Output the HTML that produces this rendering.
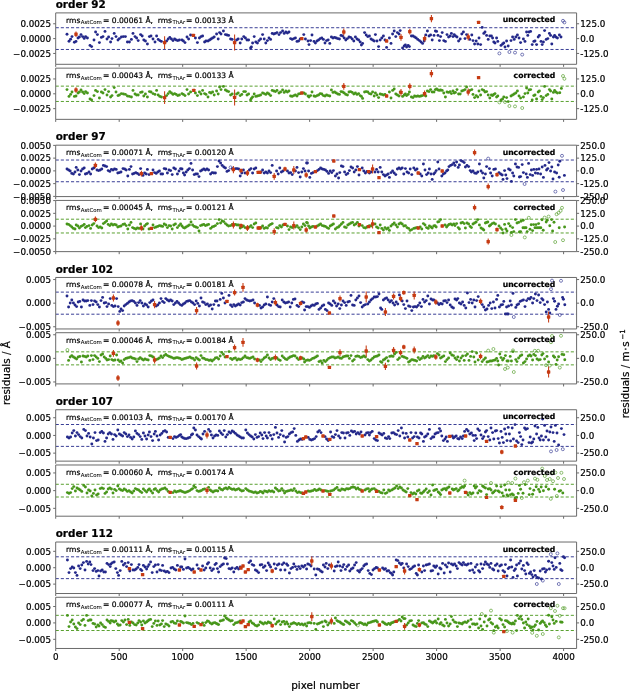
<!DOCTYPE html>
<html><head><meta charset="utf-8"><title>residuals</title><style>html,body{margin:0;padding:0;background:#fff}svg{display:block}</style></head><body>
<svg width="630" height="691" viewBox="0 0 630 691" font-family="DejaVu Sans, Liberation Sans, sans-serif" stroke-linejoin="round">
<style>text{stroke:#000;stroke-width:0.22px;fill:#000}</style>
<rect width="630" height="691" fill="#fff"/>
<g>
<clipPath id="c0"><rect x="55.7" y="12.9" width="520.9" height="51.4"/></clipPath>
<g clip-path="url(#c0)">
<line x1="55.7" x2="576.6" y1="27.73" y2="27.73" stroke="#23288a" stroke-width="0.9" stroke-dasharray="3.1 2" stroke-dashoffset="0"/>
<line x1="55.7" x2="576.6" y1="49.47" y2="49.47" stroke="#23288a" stroke-width="0.9" stroke-dasharray="3.1 2" stroke-dashoffset="0"/>
<g fill="#23288a"><circle cx="67.0" cy="34.2" r="1.45"/><circle cx="69.0" cy="41.2" r="1.45"/><circle cx="70.6" cy="39.2" r="1.45"/><circle cx="72.0" cy="36.6" r="1.45"/><circle cx="74.4" cy="42.2" r="1.45"/><circle cx="76.0" cy="41.4" r="1.45"/><circle cx="78.0" cy="38.0" r="1.45"/><circle cx="79.4" cy="37.0" r="1.45"/><circle cx="81.0" cy="34.6" r="1.45"/><circle cx="82.6" cy="36.6" r="1.45"/><circle cx="84.2" cy="38.4" r="1.45"/><circle cx="85.6" cy="36.6" r="1.45"/><circle cx="87.4" cy="38.0" r="1.45"/><circle cx="90.0" cy="45.4" r="1.45"/><circle cx="91.6" cy="46.6" r="1.45"/><circle cx="94.0" cy="40.0" r="1.45"/><circle cx="95.6" cy="32.0" r="1.45"/><circle cx="97.4" cy="34.6" r="1.45"/><circle cx="99.4" cy="42.6" r="1.45"/><circle cx="101.4" cy="37.4" r="1.45"/><circle cx="103.0" cy="36.6" r="1.45"/><circle cx="105.0" cy="31.4" r="1.45"/><circle cx="107.0" cy="39.0" r="1.45"/><circle cx="108.6" cy="37.0" r="1.45"/><circle cx="110.6" cy="42.0" r="1.45"/><circle cx="112.0" cy="38.6" r="1.45"/><circle cx="114.2" cy="33.4" r="1.45"/><circle cx="116.0" cy="36.6" r="1.45"/><circle cx="118.0" cy="40.0" r="1.45"/><circle cx="119.4" cy="38.6" r="1.45"/><circle cx="121.4" cy="37.0" r="1.45"/><circle cx="123.4" cy="36.6" r="1.45"/><circle cx="125.4" cy="36.6" r="1.45"/><circle cx="127.4" cy="42.0" r="1.45"/><circle cx="129.4" cy="42.0" r="1.45"/><circle cx="131.4" cy="39.4" r="1.45"/><circle cx="133.0" cy="33.4" r="1.45"/><circle cx="135.0" cy="36.6" r="1.45"/><circle cx="136.6" cy="38.0" r="1.45"/><circle cx="138.2" cy="40.6" r="1.45"/><circle cx="140.6" cy="34.6" r="1.45"/><circle cx="142.2" cy="36.0" r="1.45"/><circle cx="143.8" cy="40.0" r="1.45"/><circle cx="145.4" cy="41.0" r="1.45"/><circle cx="147.4" cy="44.0" r="1.45"/><circle cx="149.4" cy="36.6" r="1.45"/><circle cx="151.0" cy="36.0" r="1.45"/><circle cx="153.0" cy="39.0" r="1.45"/><circle cx="155.0" cy="42.0" r="1.45"/><circle cx="156.6" cy="36.0" r="1.45"/><circle cx="158.2" cy="39.4" r="1.45"/><circle cx="159.8" cy="40.6" r="1.45"/><circle cx="161.4" cy="41.4" r="1.45"/><circle cx="166.6" cy="41.0" r="1.45"/><circle cx="168.2" cy="39.0" r="1.45"/><circle cx="169.8" cy="37.4" r="1.45"/><circle cx="171.4" cy="39.0" r="1.45"/><circle cx="173.0" cy="40.6" r="1.45"/><circle cx="174.6" cy="39.0" r="1.45"/><circle cx="176.2" cy="40.0" r="1.45"/><circle cx="177.8" cy="40.6" r="1.45"/><circle cx="179.4" cy="40.0" r="1.45"/><circle cx="182.0" cy="40.0" r="1.45"/><circle cx="183.4" cy="41.0" r="1.45"/><circle cx="185.0" cy="42.6" r="1.45"/><circle cx="187.0" cy="37.0" r="1.45"/><circle cx="188.6" cy="39.0" r="1.45"/><circle cx="190.6" cy="35.0" r="1.45"/><circle cx="195.4" cy="38.0" r="1.45"/><circle cx="197.4" cy="42.6" r="1.45"/><circle cx="199.4" cy="38.0" r="1.45"/><circle cx="201.0" cy="36.6" r="1.45"/><circle cx="202.6" cy="36.0" r="1.45"/><circle cx="204.6" cy="42.0" r="1.45"/><circle cx="206.0" cy="41.0" r="1.45"/><circle cx="208.0" cy="41.0" r="1.45"/><circle cx="209.6" cy="40.0" r="1.45"/><circle cx="211.0" cy="39.0" r="1.45"/><circle cx="212.6" cy="38.0" r="1.45"/><circle cx="214.2" cy="37.0" r="1.45"/><circle cx="216.6" cy="34.0" r="1.45"/><circle cx="218.2" cy="39.0" r="1.45"/><circle cx="219.6" cy="32.6" r="1.45"/><circle cx="221.0" cy="34.0" r="1.45"/><circle cx="223.4" cy="31.0" r="1.45"/><circle cx="225.4" cy="34.6" r="1.45"/><circle cx="227.0" cy="35.0" r="1.45"/><circle cx="228.6" cy="35.4" r="1.45"/><circle cx="230.6" cy="39.0" r="1.45"/><circle cx="232.2" cy="39.4" r="1.45"/><circle cx="236.6" cy="40.0" r="1.45"/><circle cx="238.2" cy="39.0" r="1.45"/><circle cx="240.2" cy="43.0" r="1.45"/><circle cx="241.8" cy="39.0" r="1.45"/><circle cx="243.8" cy="36.6" r="1.45"/><circle cx="245.4" cy="38.0" r="1.45"/><circle cx="247.0" cy="40.0" r="1.45"/><circle cx="248.6" cy="40.0" r="1.45"/><circle cx="250.6" cy="48.0" r="1.45"/><circle cx="251.4" cy="47.0" r="1.45"/><circle cx="252.6" cy="43.0" r="1.45"/><circle cx="254.2" cy="36.6" r="1.45"/><circle cx="255.8" cy="42.0" r="1.45"/><circle cx="257.4" cy="43.0" r="1.45"/><circle cx="259.0" cy="40.6" r="1.45"/><circle cx="260.6" cy="39.0" r="1.45"/><circle cx="262.6" cy="34.6" r="1.45"/><circle cx="264.2" cy="39.0" r="1.45"/><circle cx="265.8" cy="43.0" r="1.45"/><circle cx="267.4" cy="40.6" r="1.45"/><circle cx="269.0" cy="38.0" r="1.45"/><circle cx="270.6" cy="39.4" r="1.45"/><circle cx="272.2" cy="33.4" r="1.45"/><circle cx="273.8" cy="34.0" r="1.45"/><circle cx="275.4" cy="33.4" r="1.45"/><circle cx="277.0" cy="32.6" r="1.45"/><circle cx="279.0" cy="34.6" r="1.45"/><circle cx="280.6" cy="32.6" r="1.45"/><circle cx="282.6" cy="31.0" r="1.45"/><circle cx="284.2" cy="33.4" r="1.45"/><circle cx="285.8" cy="32.0" r="1.45"/><circle cx="287.4" cy="33.0" r="1.45"/><circle cx="289.0" cy="32.0" r="1.45"/><circle cx="290.6" cy="38.6" r="1.45"/><circle cx="292.2" cy="39.4" r="1.45"/><circle cx="293.8" cy="38.6" r="1.45"/><circle cx="295.4" cy="38.0" r="1.45"/><circle cx="297.0" cy="41.4" r="1.45"/><circle cx="298.6" cy="41.0" r="1.45"/><circle cx="300.2" cy="39.0" r="1.45"/><circle cx="303.8" cy="34.6" r="1.45"/><circle cx="305.4" cy="39.0" r="1.45"/><circle cx="308.0" cy="41.0" r="1.45"/><circle cx="309.0" cy="44.6" r="1.45"/><circle cx="310.6" cy="40.6" r="1.45"/><circle cx="312.0" cy="35.0" r="1.45"/><circle cx="314.0" cy="41.4" r="1.45"/><circle cx="315.4" cy="43.0" r="1.45"/><circle cx="317.0" cy="41.0" r="1.45"/><circle cx="318.6" cy="40.0" r="1.45"/><circle cx="320.2" cy="38.6" r="1.45"/><circle cx="321.8" cy="38.0" r="1.45"/><circle cx="323.4" cy="39.4" r="1.45"/><circle cx="325.0" cy="43.0" r="1.45"/><circle cx="326.6" cy="40.6" r="1.45"/><circle cx="328.2" cy="40.0" r="1.45"/><circle cx="329.8" cy="43.4" r="1.45"/><circle cx="331.4" cy="37.0" r="1.45"/><circle cx="333.0" cy="38.0" r="1.45"/><circle cx="334.6" cy="37.4" r="1.45"/><circle cx="336.2" cy="38.0" r="1.45"/><circle cx="337.8" cy="38.6" r="1.45"/><circle cx="339.4" cy="39.0" r="1.45"/><circle cx="341.0" cy="35.4" r="1.45"/><circle cx="342.6" cy="36.0" r="1.45"/><circle cx="344.2" cy="38.0" r="1.45"/><circle cx="345.8" cy="40.0" r="1.45"/><circle cx="347.4" cy="38.6" r="1.45"/><circle cx="349.0" cy="37.0" r="1.45"/><circle cx="350.6" cy="37.4" r="1.45"/><circle cx="352.2" cy="39.0" r="1.45"/><circle cx="353.8" cy="41.0" r="1.45"/><circle cx="355.4" cy="37.0" r="1.45"/><circle cx="357.0" cy="39.0" r="1.45"/><circle cx="358.6" cy="40.0" r="1.45"/><circle cx="360.2" cy="42.0" r="1.45"/><circle cx="361.4" cy="45.0" r="1.45"/><circle cx="362.6" cy="43.4" r="1.45"/><circle cx="364.6" cy="32.6" r="1.45"/><circle cx="366.2" cy="35.0" r="1.45"/><circle cx="367.8" cy="36.6" r="1.45"/><circle cx="369.4" cy="36.0" r="1.45"/><circle cx="371.0" cy="39.0" r="1.45"/><circle cx="372.6" cy="40.0" r="1.45"/><circle cx="374.2" cy="41.0" r="1.45"/><circle cx="375.4" cy="34.6" r="1.45"/><circle cx="377.0" cy="41.0" r="1.45"/><circle cx="378.6" cy="46.6" r="1.45"/><circle cx="380.2" cy="40.0" r="1.45"/><circle cx="381.8" cy="38.0" r="1.45"/><circle cx="383.4" cy="36.0" r="1.45"/><circle cx="385.0" cy="40.0" r="1.45"/><circle cx="386.6" cy="47.4" r="1.45"/><circle cx="389.4" cy="38.0" r="1.45"/><circle cx="391.0" cy="43.4" r="1.45"/><circle cx="392.6" cy="34.0" r="1.45"/><circle cx="394.2" cy="31.0" r="1.45"/><circle cx="395.8" cy="36.6" r="1.45"/><circle cx="397.4" cy="32.6" r="1.45"/><circle cx="399.0" cy="34.0" r="1.45"/><circle cx="400.2" cy="30.6" r="1.45"/><circle cx="402.6" cy="48.0" r="1.45"/><circle cx="404.2" cy="46.0" r="1.45"/><circle cx="405.4" cy="45.0" r="1.45"/><circle cx="406.6" cy="47.0" r="1.45"/><circle cx="408.2" cy="45.4" r="1.45"/><circle cx="409.4" cy="46.6" r="1.45"/><circle cx="411.4" cy="36.0" r="1.45"/><circle cx="413.0" cy="36.0" r="1.45"/><circle cx="414.6" cy="37.0" r="1.45"/><circle cx="416.2" cy="38.0" r="1.45"/><circle cx="417.8" cy="39.4" r="1.45"/><circle cx="419.4" cy="40.6" r="1.45"/><circle cx="421.0" cy="42.0" r="1.45"/><circle cx="422.6" cy="43.4" r="1.45"/><circle cx="424.2" cy="41.0" r="1.45"/><circle cx="425.8" cy="35.0" r="1.45"/><circle cx="427.4" cy="31.0" r="1.45"/><circle cx="429.0" cy="36.0" r="1.45"/><circle cx="430.6" cy="35.0" r="1.45"/><circle cx="432.2" cy="40.0" r="1.45"/><circle cx="434.0" cy="35.4" r="1.45"/><circle cx="435.4" cy="31.0" r="1.45"/><circle cx="436.6" cy="31.4" r="1.45"/><circle cx="438.0" cy="35.4" r="1.45"/><circle cx="439.4" cy="40.6" r="1.45"/><circle cx="440.6" cy="36.6" r="1.45"/><circle cx="442.2" cy="32.6" r="1.45"/><circle cx="443.8" cy="40.6" r="1.45"/><circle cx="445.4" cy="41.4" r="1.45"/><circle cx="447.0" cy="34.6" r="1.45"/><circle cx="448.6" cy="37.0" r="1.45"/><circle cx="450.2" cy="36.0" r="1.45"/><circle cx="451.4" cy="33.4" r="1.45"/><circle cx="453.0" cy="36.6" r="1.45"/><circle cx="454.2" cy="34.6" r="1.45"/><circle cx="455.4" cy="36.0" r="1.45"/><circle cx="457.0" cy="37.0" r="1.45"/><circle cx="458.6" cy="41.0" r="1.45"/><circle cx="460.2" cy="39.0" r="1.45"/><circle cx="461.8" cy="34.0" r="1.45"/><circle cx="463.4" cy="32.0" r="1.45"/><circle cx="465.0" cy="38.6" r="1.45"/><circle cx="466.6" cy="34.6" r="1.45"/><circle cx="469.8" cy="39.4" r="1.45"/><circle cx="471.8" cy="35.0" r="1.45"/><circle cx="473.0" cy="40.6" r="1.45"/><circle cx="474.6" cy="44.0" r="1.45"/><circle cx="476.2" cy="41.0" r="1.45"/><circle cx="477.8" cy="44.0" r="1.45"/><circle cx="479.0" cy="38.0" r="1.45"/><circle cx="480.6" cy="44.6" r="1.45"/><circle cx="482.2" cy="27.4" r="1.45"/><circle cx="483.8" cy="33.4" r="1.45"/><circle cx="485.0" cy="32.0" r="1.45"/><circle cx="486.6" cy="35.4" r="1.45"/><circle cx="488.2" cy="39.4" r="1.45"/><circle cx="489.8" cy="36.0" r="1.45"/><circle cx="491.4" cy="36.0" r="1.45"/><circle cx="492.6" cy="38.0" r="1.45"/><circle cx="493.8" cy="42.0" r="1.45"/><circle cx="495.0" cy="43.0" r="1.45"/><circle cx="496.6" cy="38.0" r="1.45"/><circle cx="497.8" cy="41.4" r="1.45"/><circle cx="501.0" cy="45.4" r="1.45"/><circle cx="502.6" cy="44.0" r="1.45"/><circle cx="503.8" cy="43.0" r="1.45"/><circle cx="505.0" cy="47.0" r="1.45"/><circle cx="506.6" cy="41.0" r="1.45"/><circle cx="508.2" cy="46.0" r="1.45"/><circle cx="511.0" cy="40.6" r="1.45"/><circle cx="512.6" cy="37.0" r="1.45"/><circle cx="514.2" cy="39.4" r="1.45"/><circle cx="515.8" cy="37.0" r="1.45"/><circle cx="517.4" cy="35.0" r="1.45"/><circle cx="519.0" cy="38.0" r="1.45"/><circle cx="520.6" cy="42.6" r="1.45"/><circle cx="523.4" cy="39.0" r="1.45"/><circle cx="525.0" cy="41.4" r="1.45"/><circle cx="526.6" cy="32.0" r="1.45"/><circle cx="527.8" cy="35.4" r="1.45"/><circle cx="529.0" cy="32.0" r="1.45"/><circle cx="530.6" cy="31.4" r="1.45"/><circle cx="532.2" cy="44.6" r="1.45"/><circle cx="533.8" cy="41.4" r="1.45"/><circle cx="535.0" cy="41.0" r="1.45"/><circle cx="536.6" cy="44.6" r="1.45"/><circle cx="538.2" cy="37.0" r="1.45"/><circle cx="539.4" cy="35.4" r="1.45"/><circle cx="541.0" cy="41.4" r="1.45"/><circle cx="542.2" cy="44.6" r="1.45"/><circle cx="543.4" cy="42.0" r="1.45"/><circle cx="544.6" cy="30.6" r="1.45"/><circle cx="546.2" cy="39.4" r="1.45"/><circle cx="547.8" cy="38.6" r="1.45"/><circle cx="549.4" cy="33.4" r="1.45"/><circle cx="550.6" cy="35.4" r="1.45"/><circle cx="551.8" cy="44.0" r="1.45"/><circle cx="553.4" cy="37.0" r="1.45"/><circle cx="554.6" cy="35.4" r="1.45"/><circle cx="555.8" cy="37.0" r="1.45"/><circle cx="557.4" cy="38.0" r="1.45"/><circle cx="559.4" cy="35.0" r="1.45"/><circle cx="561.0" cy="37.0" r="1.45"/></g>
<g fill="none" stroke="#23288a" stroke-width="0.6"><circle cx="499.4" cy="53.4" r="1.5"/><circle cx="509.4" cy="52.0" r="1.5"/><circle cx="515.0" cy="52.6" r="1.5"/><circle cx="522.2" cy="54.6" r="1.5"/><circle cx="563.0" cy="20.8" r="1.5"/><circle cx="564.4" cy="22.4" r="1.5"/></g>
<line x1="76.0" x2="76.0" y1="31.4" y2="37.0" stroke="#c63a12" stroke-width="1.05"/><rect x="74.3" y="32.5" width="3.4" height="3.4" rx="0.6" fill="#c63a12"/>
<line x1="164.6" x2="164.6" y1="36.2" y2="49.0" stroke="#c63a12" stroke-width="1.05"/><rect x="162.9" y="40.9" width="3.4" height="3.4" rx="0.6" fill="#c63a12"/>
<line x1="193.4" x2="193.4" y1="34.6" y2="36.2" stroke="#c63a12" stroke-width="1.05"/><rect x="191.7" y="33.7" width="3.4" height="3.4" rx="0.6" fill="#c63a12"/>
<line x1="234.6" x2="234.6" y1="34.6" y2="50.6" stroke="#c63a12" stroke-width="1.05"/><rect x="232.9" y="40.9" width="3.4" height="3.4" rx="0.6" fill="#c63a12"/>
<line x1="301.8" x2="301.8" y1="37.8" y2="39.4" stroke="#c63a12" stroke-width="1.05"/><rect x="300.1" y="36.9" width="3.4" height="3.4" rx="0.6" fill="#c63a12"/>
<line x1="343.8" x2="343.8" y1="28.6" y2="35.4" stroke="#c63a12" stroke-width="1.05"/><rect x="342.1" y="30.3" width="3.4" height="3.4" rx="0.6" fill="#c63a12"/>
<line x1="386.6" x2="386.6" y1="40.0" y2="42.0" stroke="#c63a12" stroke-width="1.05"/><rect x="384.9" y="39.3" width="3.4" height="3.4" rx="0.6" fill="#c63a12"/>
<line x1="401.0" x2="401.0" y1="34.0" y2="40.8" stroke="#c63a12" stroke-width="1.05"/><rect x="399.3" y="35.7" width="3.4" height="3.4" rx="0.6" fill="#c63a12"/>
<line x1="409.8" x2="409.8" y1="28.8" y2="34.4" stroke="#c63a12" stroke-width="1.05"/><rect x="408.1" y="29.9" width="3.4" height="3.4" rx="0.6" fill="#c63a12"/>
<line x1="424.6" x2="424.6" y1="35.6" y2="41.6" stroke="#c63a12" stroke-width="1.05"/><rect x="422.9" y="36.9" width="3.4" height="3.4" rx="0.6" fill="#c63a12"/>
<line x1="431.4" x2="431.4" y1="15.0" y2="22.2" stroke="#c63a12" stroke-width="1.05"/><rect x="429.7" y="16.9" width="3.4" height="3.4" rx="0.6" fill="#c63a12"/>
<line x1="468.2" x2="468.2" y1="33.4" y2="40.6" stroke="#c63a12" stroke-width="1.05"/><rect x="466.5" y="35.3" width="3.4" height="3.4" rx="0.6" fill="#c63a12"/>
<line x1="478.6" x2="478.6" y1="21.6" y2="23.2" stroke="#c63a12" stroke-width="1.05"/><rect x="476.9" y="20.7" width="3.4" height="3.4" rx="0.6" fill="#c63a12"/>
</g>
<rect x="55.7" y="12.9" width="520.9" height="51.4" fill="none" stroke="#6a6a6a" stroke-width="1"/>
<path d="M55.70 64.35v2.5M119.19 64.35v2.5M182.68 64.35v2.5M246.16 64.35v2.5M309.65 64.35v2.5M373.14 64.35v2.5M436.62 64.35v2.5M500.11 64.35v2.5M563.60 64.35v2.5M55.7 53.45h-2.5M576.6 53.45h2.5M55.7 38.60h-2.5M576.6 38.60h2.5M55.7 23.75h-2.5M576.6 23.75h2.5" stroke="#6a6a6a" stroke-width="1" fill="none"/>
<text x="51.0" y="56.7" font-size="8.75" text-anchor="end">−0.0025</text>
<text x="580.3" y="56.7" font-size="8.75">-125.0</text>
<text x="51.0" y="41.8" font-size="8.75" text-anchor="end">0.0000</text>
<text x="580.3" y="41.8" font-size="8.75">0.0</text>
<text x="51.0" y="26.9" font-size="8.75" text-anchor="end">0.0025</text>
<text x="580.3" y="26.9" font-size="8.75">125.0</text>
<text x="66.1" y="22.7" font-size="7.56" xml:space="preserve">rms<tspan font-size="5.40" dy="1.7" dx="0.5" stroke-width="0.05">AstCom</tspan><tspan dy="-1.7" dx="-1.1"> = 0.00061 Å,  rms</tspan><tspan font-size="5.40" dy="1.7" dx="0.5" stroke-width="0.05">ThAr</tspan><tspan dy="-1.7" dx="-1.5"> = 0.00133 Å</tspan></text>
<text x="555.2" y="22.4" font-size="7.7" font-weight="bold" text-anchor="end">uncorrected</text>
<text x="55.7" y="8.1" font-size="10.4" font-weight="bold">order 92</text>
</g>
<g>
<clipPath id="c1"><rect x="55.7" y="68.15" width="520.9" height="51.2"/></clipPath>
<g clip-path="url(#c1)">
<line x1="55.7" x2="576.6" y1="86.14" y2="86.14" stroke="#47961a" stroke-width="0.9" stroke-dasharray="3.1 2" stroke-dashoffset="0"/>
<line x1="55.7" x2="576.6" y1="101.46" y2="101.46" stroke="#47961a" stroke-width="0.9" stroke-dasharray="3.1 2" stroke-dashoffset="0"/>
<g fill="#47961a"><circle cx="67.0" cy="89.6" r="1.45"/><circle cx="69.0" cy="96.4" r="1.45"/><circle cx="70.6" cy="94.4" r="1.45"/><circle cx="72.0" cy="92.0" r="1.45"/><circle cx="74.4" cy="96.4" r="1.45"/><circle cx="76.0" cy="96.0" r="1.45"/><circle cx="78.0" cy="93.0" r="1.45"/><circle cx="79.4" cy="92.0" r="1.45"/><circle cx="81.0" cy="90.0" r="1.45"/><circle cx="82.6" cy="92.0" r="1.45"/><circle cx="84.2" cy="93.6" r="1.45"/><circle cx="85.6" cy="91.6" r="1.45"/><circle cx="87.4" cy="93.0" r="1.45"/><circle cx="90.0" cy="99.0" r="1.45"/><circle cx="91.6" cy="100.0" r="1.45"/><circle cx="94.0" cy="95.6" r="1.45"/><circle cx="95.6" cy="90.4" r="1.45"/><circle cx="97.4" cy="91.6" r="1.45"/><circle cx="99.4" cy="98.0" r="1.45"/><circle cx="101.4" cy="92.0" r="1.45"/><circle cx="103.0" cy="93.0" r="1.45"/><circle cx="105.0" cy="89.6" r="1.45"/><circle cx="107.0" cy="95.0" r="1.45"/><circle cx="108.6" cy="91.6" r="1.45"/><circle cx="110.6" cy="97.0" r="1.45"/><circle cx="112.0" cy="95.6" r="1.45"/><circle cx="114.2" cy="87.6" r="1.45"/><circle cx="116.0" cy="92.0" r="1.45"/><circle cx="118.0" cy="95.6" r="1.45"/><circle cx="119.4" cy="95.0" r="1.45"/><circle cx="121.4" cy="93.6" r="1.45"/><circle cx="123.4" cy="94.0" r="1.45"/><circle cx="125.4" cy="94.4" r="1.45"/><circle cx="127.4" cy="96.0" r="1.45"/><circle cx="129.4" cy="96.4" r="1.45"/><circle cx="131.4" cy="97.0" r="1.45"/><circle cx="133.0" cy="90.4" r="1.45"/><circle cx="135.0" cy="94.0" r="1.45"/><circle cx="136.6" cy="95.0" r="1.45"/><circle cx="138.2" cy="95.0" r="1.45"/><circle cx="140.6" cy="92.4" r="1.45"/><circle cx="142.2" cy="92.0" r="1.45"/><circle cx="143.8" cy="96.0" r="1.45"/><circle cx="145.4" cy="94.0" r="1.45"/><circle cx="147.4" cy="97.0" r="1.45"/><circle cx="149.4" cy="91.6" r="1.45"/><circle cx="151.0" cy="92.0" r="1.45"/><circle cx="153.0" cy="93.6" r="1.45"/><circle cx="155.0" cy="94.4" r="1.45"/><circle cx="156.6" cy="90.4" r="1.45"/><circle cx="158.2" cy="95.0" r="1.45"/><circle cx="159.8" cy="96.4" r="1.45"/><circle cx="161.4" cy="97.0" r="1.45"/><circle cx="166.6" cy="95.6" r="1.45"/><circle cx="168.2" cy="93.6" r="1.45"/><circle cx="169.8" cy="91.6" r="1.45"/><circle cx="171.4" cy="93.0" r="1.45"/><circle cx="173.0" cy="94.4" r="1.45"/><circle cx="174.6" cy="93.6" r="1.45"/><circle cx="176.2" cy="94.4" r="1.45"/><circle cx="177.8" cy="95.6" r="1.45"/><circle cx="179.4" cy="95.0" r="1.45"/><circle cx="182.0" cy="93.6" r="1.45"/><circle cx="183.4" cy="94.4" r="1.45"/><circle cx="185.0" cy="95.6" r="1.45"/><circle cx="187.0" cy="89.6" r="1.45"/><circle cx="188.6" cy="94.0" r="1.45"/><circle cx="190.6" cy="92.0" r="1.45"/><circle cx="195.4" cy="93.0" r="1.45"/><circle cx="197.4" cy="95.6" r="1.45"/><circle cx="199.4" cy="92.0" r="1.45"/><circle cx="201.0" cy="94.0" r="1.45"/><circle cx="202.6" cy="90.4" r="1.45"/><circle cx="204.6" cy="93.6" r="1.45"/><circle cx="206.0" cy="94.4" r="1.45"/><circle cx="208.0" cy="97.0" r="1.45"/><circle cx="209.6" cy="92.4" r="1.45"/><circle cx="211.0" cy="93.0" r="1.45"/><circle cx="212.6" cy="92.0" r="1.45"/><circle cx="214.2" cy="95.0" r="1.45"/><circle cx="216.6" cy="91.0" r="1.45"/><circle cx="218.2" cy="94.0" r="1.45"/><circle cx="219.6" cy="87.0" r="1.45"/><circle cx="221.0" cy="89.6" r="1.45"/><circle cx="223.4" cy="86.4" r="1.45"/><circle cx="225.4" cy="90.0" r="1.45"/><circle cx="227.0" cy="91.0" r="1.45"/><circle cx="228.6" cy="91.6" r="1.45"/><circle cx="230.6" cy="95.0" r="1.45"/><circle cx="232.2" cy="94.0" r="1.45"/><circle cx="236.6" cy="94.0" r="1.45"/><circle cx="238.2" cy="93.0" r="1.45"/><circle cx="240.2" cy="95.6" r="1.45"/><circle cx="241.8" cy="94.4" r="1.45"/><circle cx="243.8" cy="91.6" r="1.45"/><circle cx="245.4" cy="91.6" r="1.45"/><circle cx="247.0" cy="95.0" r="1.45"/><circle cx="248.6" cy="94.0" r="1.45"/><circle cx="250.6" cy="100.0" r="1.45"/><circle cx="251.4" cy="98.4" r="1.45"/><circle cx="252.6" cy="97.0" r="1.45"/><circle cx="254.2" cy="94.0" r="1.45"/><circle cx="255.8" cy="96.4" r="1.45"/><circle cx="257.4" cy="96.0" r="1.45"/><circle cx="259.0" cy="95.6" r="1.45"/><circle cx="260.6" cy="95.0" r="1.45"/><circle cx="262.6" cy="93.0" r="1.45"/><circle cx="264.2" cy="93.6" r="1.45"/><circle cx="265.8" cy="94.4" r="1.45"/><circle cx="267.4" cy="93.0" r="1.45"/><circle cx="269.0" cy="94.0" r="1.45"/><circle cx="270.6" cy="95.6" r="1.45"/><circle cx="272.2" cy="90.4" r="1.45"/><circle cx="273.8" cy="91.0" r="1.45"/><circle cx="275.4" cy="91.6" r="1.45"/><circle cx="277.0" cy="90.4" r="1.45"/><circle cx="279.0" cy="93.0" r="1.45"/><circle cx="280.6" cy="92.0" r="1.45"/><circle cx="282.6" cy="90.0" r="1.45"/><circle cx="284.2" cy="92.4" r="1.45"/><circle cx="285.8" cy="91.0" r="1.45"/><circle cx="287.4" cy="92.0" r="1.45"/><circle cx="289.0" cy="91.0" r="1.45"/><circle cx="290.6" cy="96.0" r="1.45"/><circle cx="292.2" cy="96.4" r="1.45"/><circle cx="293.8" cy="95.6" r="1.45"/><circle cx="295.4" cy="95.0" r="1.45"/><circle cx="297.0" cy="96.0" r="1.45"/><circle cx="298.6" cy="94.0" r="1.45"/><circle cx="300.2" cy="93.6" r="1.45"/><circle cx="303.8" cy="93.0" r="1.45"/><circle cx="305.4" cy="94.0" r="1.45"/><circle cx="308.0" cy="96.0" r="1.45"/><circle cx="309.0" cy="97.0" r="1.45"/><circle cx="310.6" cy="95.6" r="1.45"/><circle cx="312.0" cy="92.0" r="1.45"/><circle cx="314.0" cy="96.0" r="1.45"/><circle cx="315.4" cy="96.4" r="1.45"/><circle cx="317.0" cy="95.6" r="1.45"/><circle cx="318.6" cy="95.0" r="1.45"/><circle cx="320.2" cy="93.6" r="1.45"/><circle cx="321.8" cy="94.0" r="1.45"/><circle cx="323.4" cy="95.6" r="1.45"/><circle cx="325.0" cy="96.0" r="1.45"/><circle cx="326.6" cy="95.0" r="1.45"/><circle cx="328.2" cy="95.6" r="1.45"/><circle cx="329.8" cy="96.0" r="1.45"/><circle cx="331.4" cy="90.0" r="1.45"/><circle cx="333.0" cy="92.4" r="1.45"/><circle cx="334.6" cy="92.0" r="1.45"/><circle cx="336.2" cy="93.0" r="1.45"/><circle cx="337.8" cy="94.0" r="1.45"/><circle cx="339.4" cy="94.4" r="1.45"/><circle cx="341.0" cy="91.6" r="1.45"/><circle cx="342.6" cy="92.0" r="1.45"/><circle cx="344.2" cy="93.0" r="1.45"/><circle cx="345.8" cy="94.4" r="1.45"/><circle cx="347.4" cy="95.0" r="1.45"/><circle cx="349.0" cy="92.0" r="1.45"/><circle cx="350.6" cy="91.6" r="1.45"/><circle cx="352.2" cy="92.4" r="1.45"/><circle cx="353.8" cy="94.0" r="1.45"/><circle cx="355.4" cy="93.0" r="1.45"/><circle cx="357.0" cy="94.4" r="1.45"/><circle cx="358.6" cy="93.6" r="1.45"/><circle cx="360.2" cy="95.6" r="1.45"/><circle cx="361.4" cy="96.4" r="1.45"/><circle cx="362.6" cy="98.4" r="1.45"/><circle cx="364.6" cy="92.0" r="1.45"/><circle cx="366.2" cy="91.6" r="1.45"/><circle cx="367.8" cy="92.0" r="1.45"/><circle cx="369.4" cy="93.6" r="1.45"/><circle cx="371.0" cy="94.0" r="1.45"/><circle cx="372.6" cy="92.0" r="1.45"/><circle cx="374.2" cy="96.0" r="1.45"/><circle cx="375.4" cy="93.0" r="1.45"/><circle cx="377.0" cy="95.0" r="1.45"/><circle cx="378.6" cy="97.6" r="1.45"/><circle cx="380.2" cy="94.0" r="1.45"/><circle cx="381.8" cy="94.4" r="1.45"/><circle cx="383.4" cy="95.0" r="1.45"/><circle cx="385.0" cy="94.4" r="1.45"/><circle cx="389.4" cy="92.0" r="1.45"/><circle cx="391.0" cy="98.0" r="1.45"/><circle cx="392.6" cy="90.4" r="1.45"/><circle cx="394.2" cy="89.0" r="1.45"/><circle cx="395.8" cy="94.0" r="1.45"/><circle cx="397.4" cy="95.0" r="1.45"/><circle cx="399.0" cy="96.0" r="1.45"/><circle cx="400.2" cy="92.0" r="1.45"/><circle cx="402.6" cy="96.4" r="1.45"/><circle cx="404.2" cy="95.0" r="1.45"/><circle cx="405.4" cy="94.0" r="1.45"/><circle cx="406.6" cy="95.6" r="1.45"/><circle cx="408.2" cy="94.4" r="1.45"/><circle cx="409.4" cy="92.0" r="1.45"/><circle cx="411.4" cy="97.0" r="1.45"/><circle cx="413.0" cy="97.6" r="1.45"/><circle cx="414.6" cy="96.0" r="1.45"/><circle cx="416.2" cy="96.4" r="1.45"/><circle cx="417.8" cy="96.0" r="1.45"/><circle cx="419.4" cy="96.4" r="1.45"/><circle cx="421.0" cy="96.0" r="1.45"/><circle cx="422.6" cy="95.6" r="1.45"/><circle cx="424.2" cy="94.0" r="1.45"/><circle cx="425.8" cy="96.0" r="1.45"/><circle cx="427.4" cy="91.0" r="1.45"/><circle cx="429.0" cy="91.6" r="1.45"/><circle cx="430.6" cy="89.6" r="1.45"/><circle cx="432.2" cy="92.0" r="1.45"/><circle cx="434.0" cy="92.0" r="1.45"/><circle cx="435.4" cy="89.6" r="1.45"/><circle cx="436.6" cy="89.0" r="1.45"/><circle cx="438.0" cy="90.0" r="1.45"/><circle cx="439.4" cy="90.4" r="1.45"/><circle cx="440.6" cy="90.0" r="1.45"/><circle cx="442.2" cy="90.4" r="1.45"/><circle cx="443.8" cy="93.0" r="1.45"/><circle cx="445.4" cy="97.0" r="1.45"/><circle cx="447.0" cy="92.0" r="1.45"/><circle cx="448.6" cy="92.4" r="1.45"/><circle cx="450.2" cy="91.6" r="1.45"/><circle cx="451.4" cy="93.6" r="1.45"/><circle cx="453.0" cy="91.0" r="1.45"/><circle cx="454.2" cy="93.0" r="1.45"/><circle cx="455.4" cy="92.4" r="1.45"/><circle cx="457.0" cy="89.6" r="1.45"/><circle cx="458.6" cy="94.0" r="1.45"/><circle cx="460.2" cy="94.0" r="1.45"/><circle cx="461.8" cy="91.0" r="1.45"/><circle cx="463.4" cy="90.4" r="1.45"/><circle cx="465.0" cy="89.6" r="1.45"/><circle cx="466.6" cy="87.0" r="1.45"/><circle cx="469.8" cy="90.4" r="1.45"/><circle cx="471.8" cy="89.6" r="1.45"/><circle cx="473.0" cy="94.4" r="1.45"/><circle cx="474.6" cy="97.6" r="1.45"/><circle cx="476.2" cy="95.6" r="1.45"/><circle cx="477.8" cy="97.0" r="1.45"/><circle cx="479.0" cy="91.0" r="1.45"/><circle cx="480.6" cy="95.0" r="1.45"/><circle cx="482.2" cy="89.6" r="1.45"/><circle cx="483.8" cy="90.4" r="1.45"/><circle cx="485.0" cy="92.0" r="1.45"/><circle cx="486.6" cy="91.6" r="1.45"/><circle cx="488.2" cy="95.0" r="1.45"/><circle cx="489.8" cy="98.0" r="1.45"/><circle cx="491.4" cy="95.0" r="1.45"/><circle cx="492.6" cy="95.6" r="1.45"/><circle cx="493.8" cy="94.4" r="1.45"/><circle cx="495.0" cy="93.6" r="1.45"/><circle cx="496.6" cy="97.0" r="1.45"/><circle cx="497.8" cy="96.0" r="1.45"/><circle cx="501.0" cy="100.0" r="1.45"/><circle cx="502.6" cy="99.0" r="1.45"/><circle cx="503.8" cy="97.0" r="1.45"/><circle cx="506.6" cy="97.6" r="1.45"/><circle cx="508.2" cy="101.6" r="1.45"/><circle cx="511.0" cy="96.0" r="1.45"/><circle cx="512.6" cy="95.0" r="1.45"/><circle cx="514.2" cy="94.0" r="1.45"/><circle cx="515.8" cy="93.0" r="1.45"/><circle cx="517.4" cy="91.0" r="1.45"/><circle cx="519.0" cy="96.0" r="1.45"/><circle cx="520.6" cy="98.0" r="1.45"/><circle cx="523.4" cy="97.0" r="1.45"/><circle cx="525.0" cy="93.6" r="1.45"/><circle cx="526.6" cy="88.0" r="1.45"/><circle cx="527.8" cy="93.0" r="1.45"/><circle cx="529.0" cy="90.0" r="1.45"/><circle cx="530.6" cy="89.6" r="1.45"/><circle cx="532.2" cy="100.0" r="1.45"/><circle cx="533.8" cy="95.6" r="1.45"/><circle cx="535.0" cy="95.0" r="1.45"/><circle cx="536.6" cy="99.0" r="1.45"/><circle cx="538.2" cy="92.0" r="1.45"/><circle cx="539.4" cy="91.0" r="1.45"/><circle cx="541.0" cy="96.4" r="1.45"/><circle cx="542.2" cy="99.6" r="1.45"/><circle cx="543.4" cy="97.6" r="1.45"/><circle cx="544.6" cy="86.4" r="1.45"/><circle cx="546.2" cy="95.6" r="1.45"/><circle cx="547.8" cy="94.4" r="1.45"/><circle cx="549.4" cy="89.6" r="1.45"/><circle cx="550.6" cy="91.0" r="1.45"/><circle cx="551.8" cy="99.0" r="1.45"/><circle cx="553.4" cy="92.4" r="1.45"/><circle cx="554.6" cy="90.4" r="1.45"/><circle cx="555.8" cy="92.0" r="1.45"/><circle cx="557.4" cy="93.0" r="1.45"/><circle cx="559.8" cy="92.8" r="1.45"/><circle cx="561.4" cy="88.4" r="1.45"/></g>
<g fill="none" stroke="#47961a" stroke-width="0.6"><circle cx="499.4" cy="102.4" r="1.5"/><circle cx="505.0" cy="102.0" r="1.5"/><circle cx="509.4" cy="106.0" r="1.5"/><circle cx="515.0" cy="106.4" r="1.5"/><circle cx="522.2" cy="108.0" r="1.5"/><circle cx="563.0" cy="76.0" r="1.5"/><circle cx="564.4" cy="78.8" r="1.5"/></g>
<line x1="76.0" x2="76.0" y1="87.2" y2="92.8" stroke="#c63a12" stroke-width="1.05"/><rect x="74.3" y="88.3" width="3.4" height="3.4" rx="0.6" fill="#c63a12"/>
<line x1="164.6" x2="164.6" y1="91.2" y2="104.0" stroke="#c63a12" stroke-width="1.05"/><rect x="162.9" y="95.9" width="3.4" height="3.4" rx="0.6" fill="#c63a12"/>
<line x1="193.8" x2="193.8" y1="89.6" y2="91.2" stroke="#c63a12" stroke-width="1.05"/><rect x="192.1" y="88.7" width="3.4" height="3.4" rx="0.6" fill="#c63a12"/>
<line x1="234.6" x2="234.6" y1="89.4" y2="105.4" stroke="#c63a12" stroke-width="1.05"/><rect x="232.9" y="95.7" width="3.4" height="3.4" rx="0.6" fill="#c63a12"/>
<line x1="301.8" x2="301.8" y1="92.2" y2="93.8" stroke="#c63a12" stroke-width="1.05"/><rect x="300.1" y="91.3" width="3.4" height="3.4" rx="0.6" fill="#c63a12"/>
<line x1="343.8" x2="343.8" y1="83.0" y2="89.8" stroke="#c63a12" stroke-width="1.05"/><rect x="342.1" y="84.7" width="3.4" height="3.4" rx="0.6" fill="#c63a12"/>
<line x1="386.6" x2="386.6" y1="95.0" y2="97.0" stroke="#c63a12" stroke-width="1.05"/><rect x="384.9" y="94.3" width="3.4" height="3.4" rx="0.6" fill="#c63a12"/>
<line x1="401.0" x2="401.0" y1="89.0" y2="95.8" stroke="#c63a12" stroke-width="1.05"/><rect x="399.3" y="90.7" width="3.4" height="3.4" rx="0.6" fill="#c63a12"/>
<line x1="409.8" x2="409.8" y1="83.2" y2="89.6" stroke="#c63a12" stroke-width="1.05"/><rect x="408.1" y="84.7" width="3.4" height="3.4" rx="0.6" fill="#c63a12"/>
<line x1="424.6" x2="424.6" y1="90.6" y2="96.6" stroke="#c63a12" stroke-width="1.05"/><rect x="422.9" y="91.9" width="3.4" height="3.4" rx="0.6" fill="#c63a12"/>
<line x1="431.4" x2="431.4" y1="70.0" y2="77.2" stroke="#c63a12" stroke-width="1.05"/><rect x="429.7" y="71.9" width="3.4" height="3.4" rx="0.6" fill="#c63a12"/>
<line x1="468.2" x2="468.2" y1="88.4" y2="95.6" stroke="#c63a12" stroke-width="1.05"/><rect x="466.5" y="90.3" width="3.4" height="3.4" rx="0.6" fill="#c63a12"/>
<line x1="478.6" x2="478.6" y1="76.8" y2="78.4" stroke="#c63a12" stroke-width="1.05"/><rect x="476.9" y="75.9" width="3.4" height="3.4" rx="0.6" fill="#c63a12"/>
</g>
<rect x="55.7" y="68.15" width="520.9" height="51.2" fill="none" stroke="#6a6a6a" stroke-width="1"/>
<path d="M55.70 119.4v2.5M119.19 119.4v2.5M182.68 119.4v2.5M246.16 119.4v2.5M309.65 119.4v2.5M373.14 119.4v2.5M436.62 119.4v2.5M500.11 119.4v2.5M563.60 119.4v2.5M55.7 108.65h-2.5M576.6 108.65h2.5M55.7 93.80h-2.5M576.6 93.80h2.5M55.7 78.95h-2.5M576.6 78.95h2.5" stroke="#6a6a6a" stroke-width="1" fill="none"/>
<text x="51.0" y="111.8" font-size="8.75" text-anchor="end">−0.0025</text>
<text x="580.3" y="111.8" font-size="8.75">-125.0</text>
<text x="51.0" y="97.0" font-size="8.75" text-anchor="end">0.0000</text>
<text x="580.3" y="97.0" font-size="8.75">0.0</text>
<text x="51.0" y="82.2" font-size="8.75" text-anchor="end">0.0025</text>
<text x="580.3" y="82.2" font-size="8.75">125.0</text>
<text x="66.1" y="78.0" font-size="7.56" xml:space="preserve">rms<tspan font-size="5.40" dy="1.7" dx="0.5" stroke-width="0.05">AstCom</tspan><tspan dy="-1.7" dx="-1.1"> = 0.00043 Å,  rms</tspan><tspan font-size="5.40" dy="1.7" dx="0.5" stroke-width="0.05">ThAr</tspan><tspan dy="-1.7" dx="-1.5"> = 0.00133 Å</tspan></text>
<text x="555.2" y="77.7" font-size="7.7" font-weight="bold" text-anchor="end">corrected</text>
</g>
<g>
<clipPath id="c2"><rect x="55.7" y="145.18" width="520.9" height="51.4"/></clipPath>
<g clip-path="url(#c2)">
<line x1="55.7" x2="576.6" y1="160.02" y2="160.02" stroke="#23288a" stroke-width="0.9" stroke-dasharray="3.1 2" stroke-dashoffset="0"/>
<line x1="55.7" x2="576.6" y1="181.74" y2="181.74" stroke="#23288a" stroke-width="0.9" stroke-dasharray="3.1 2" stroke-dashoffset="0"/>
<g fill="#23288a"><circle cx="67.0" cy="169.0" r="1.45"/><circle cx="68.6" cy="170.0" r="1.45"/><circle cx="70.2" cy="171.0" r="1.45"/><circle cx="71.8" cy="173.4" r="1.45"/><circle cx="73.4" cy="174.0" r="1.45"/><circle cx="75.0" cy="172.0" r="1.45"/><circle cx="76.2" cy="167.4" r="1.45"/><circle cx="77.8" cy="170.0" r="1.45"/><circle cx="79.4" cy="174.6" r="1.45"/><circle cx="81.0" cy="171.0" r="1.45"/><circle cx="82.6" cy="169.0" r="1.45"/><circle cx="84.2" cy="168.0" r="1.45"/><circle cx="85.4" cy="174.0" r="1.45"/><circle cx="87.0" cy="173.4" r="1.45"/><circle cx="89.0" cy="172.0" r="1.45"/><circle cx="90.6" cy="174.0" r="1.45"/><circle cx="92.2" cy="169.0" r="1.45"/><circle cx="93.8" cy="168.0" r="1.45"/><circle cx="97.0" cy="170.0" r="1.45"/><circle cx="98.6" cy="170.6" r="1.45"/><circle cx="100.2" cy="170.0" r="1.45"/><circle cx="101.8" cy="169.0" r="1.45"/><circle cx="103.4" cy="165.4" r="1.45"/><circle cx="105.0" cy="166.0" r="1.45"/><circle cx="106.6" cy="166.6" r="1.45"/><circle cx="108.2" cy="170.6" r="1.45"/><circle cx="109.8" cy="171.4" r="1.45"/><circle cx="111.4" cy="169.4" r="1.45"/><circle cx="113.0" cy="170.0" r="1.45"/><circle cx="114.6" cy="169.0" r="1.45"/><circle cx="116.2" cy="169.4" r="1.45"/><circle cx="117.8" cy="173.0" r="1.45"/><circle cx="119.4" cy="172.6" r="1.45"/><circle cx="121.0" cy="172.0" r="1.45"/><circle cx="123.0" cy="168.6" r="1.45"/><circle cx="124.6" cy="169.0" r="1.45"/><circle cx="126.2" cy="170.0" r="1.45"/><circle cx="127.8" cy="176.0" r="1.45"/><circle cx="129.4" cy="169.4" r="1.45"/><circle cx="131.0" cy="166.6" r="1.45"/><circle cx="132.6" cy="174.0" r="1.45"/><circle cx="134.2" cy="173.4" r="1.45"/><circle cx="135.8" cy="172.6" r="1.45"/><circle cx="137.4" cy="173.4" r="1.45"/><circle cx="139.0" cy="174.6" r="1.45"/><circle cx="140.6" cy="168.6" r="1.45"/><circle cx="143.0" cy="175.4" r="1.45"/><circle cx="144.6" cy="173.0" r="1.45"/><circle cx="146.2" cy="174.0" r="1.45"/><circle cx="147.4" cy="169.4" r="1.45"/><circle cx="149.0" cy="174.6" r="1.45"/><circle cx="153.0" cy="170.0" r="1.45"/><circle cx="154.6" cy="172.6" r="1.45"/><circle cx="156.2" cy="173.4" r="1.45"/><circle cx="157.8" cy="172.0" r="1.45"/><circle cx="159.4" cy="171.0" r="1.45"/><circle cx="161.0" cy="174.0" r="1.45"/><circle cx="162.6" cy="174.0" r="1.45"/><circle cx="164.2" cy="168.6" r="1.45"/><circle cx="165.8" cy="169.0" r="1.45"/><circle cx="167.4" cy="173.0" r="1.45"/><circle cx="169.0" cy="170.0" r="1.45"/><circle cx="170.6" cy="170.6" r="1.45"/><circle cx="172.2" cy="174.6" r="1.45"/><circle cx="173.8" cy="168.0" r="1.45"/><circle cx="175.4" cy="169.0" r="1.45"/><circle cx="177.4" cy="174.0" r="1.45"/><circle cx="179.0" cy="171.0" r="1.45"/><circle cx="180.6" cy="168.6" r="1.45"/><circle cx="182.0" cy="169.0" r="1.45"/><circle cx="183.4" cy="173.0" r="1.45"/><circle cx="184.6" cy="175.0" r="1.45"/><circle cx="186.2" cy="172.0" r="1.45"/><circle cx="187.8" cy="170.0" r="1.45"/><circle cx="189.4" cy="168.6" r="1.45"/><circle cx="191.0" cy="163.4" r="1.45"/><circle cx="192.6" cy="170.0" r="1.45"/><circle cx="194.2" cy="174.6" r="1.45"/><circle cx="195.8" cy="174.0" r="1.45"/><circle cx="197.4" cy="174.0" r="1.45"/><circle cx="199.0" cy="176.6" r="1.45"/><circle cx="200.6" cy="171.0" r="1.45"/><circle cx="202.2" cy="170.0" r="1.45"/><circle cx="203.8" cy="169.0" r="1.45"/><circle cx="205.4" cy="170.0" r="1.45"/><circle cx="207.0" cy="169.0" r="1.45"/><circle cx="208.6" cy="170.0" r="1.45"/><circle cx="210.6" cy="174.0" r="1.45"/><circle cx="212.2" cy="172.6" r="1.45"/><circle cx="213.8" cy="173.0" r="1.45"/><circle cx="215.4" cy="173.0" r="1.45"/><circle cx="217.4" cy="166.6" r="1.45"/><circle cx="219.0" cy="161.0" r="1.45"/><circle cx="220.6" cy="163.0" r="1.45"/><circle cx="222.2" cy="165.4" r="1.45"/><circle cx="223.8" cy="167.0" r="1.45"/><circle cx="225.4" cy="168.0" r="1.45"/><circle cx="227.0" cy="171.4" r="1.45"/><circle cx="228.6" cy="170.6" r="1.45"/><circle cx="232.2" cy="168.6" r="1.45"/><circle cx="235.4" cy="168.6" r="1.45"/><circle cx="237.0" cy="168.6" r="1.45"/><circle cx="238.6" cy="169.0" r="1.45"/><circle cx="240.2" cy="176.0" r="1.45"/><circle cx="241.8" cy="173.0" r="1.45"/><circle cx="243.4" cy="170.0" r="1.45"/><circle cx="245.0" cy="173.0" r="1.45"/><circle cx="249.4" cy="170.0" r="1.45"/><circle cx="251.0" cy="168.6" r="1.45"/><circle cx="252.6" cy="173.0" r="1.45"/><circle cx="254.2" cy="169.0" r="1.45"/><circle cx="255.8" cy="168.0" r="1.45"/><circle cx="261.0" cy="172.0" r="1.45"/><circle cx="262.6" cy="170.0" r="1.45"/><circle cx="264.2" cy="173.0" r="1.45"/><circle cx="265.8" cy="172.0" r="1.45"/><circle cx="267.4" cy="173.0" r="1.45"/><circle cx="269.0" cy="171.0" r="1.45"/><circle cx="270.6" cy="172.6" r="1.45"/><circle cx="272.2" cy="165.4" r="1.45"/><circle cx="276.6" cy="171.0" r="1.45"/><circle cx="278.2" cy="174.0" r="1.45"/><circle cx="279.8" cy="168.0" r="1.45"/><circle cx="281.4" cy="172.0" r="1.45"/><circle cx="283.0" cy="171.0" r="1.45"/><circle cx="287.4" cy="171.0" r="1.45"/><circle cx="289.0" cy="173.0" r="1.45"/><circle cx="290.6" cy="172.6" r="1.45"/><circle cx="292.2" cy="174.6" r="1.45"/><circle cx="295.4" cy="171.0" r="1.45"/><circle cx="297.0" cy="167.4" r="1.45"/><circle cx="298.6" cy="172.6" r="1.45"/><circle cx="300.2" cy="177.0" r="1.45"/><circle cx="301.8" cy="172.0" r="1.45"/><circle cx="303.4" cy="168.6" r="1.45"/><circle cx="305.0" cy="171.0" r="1.45"/><circle cx="306.6" cy="163.0" r="1.45"/><circle cx="307.4" cy="163.0" r="1.45"/><circle cx="308.6" cy="171.0" r="1.45"/><circle cx="309.8" cy="177.4" r="1.45"/><circle cx="311.4" cy="173.4" r="1.45"/><circle cx="313.0" cy="172.6" r="1.45"/><circle cx="317.4" cy="170.6" r="1.45"/><circle cx="319.0" cy="169.4" r="1.45"/><circle cx="320.6" cy="168.0" r="1.45"/><circle cx="322.2" cy="169.0" r="1.45"/><circle cx="323.8" cy="169.4" r="1.45"/><circle cx="325.4" cy="170.0" r="1.45"/><circle cx="327.0" cy="171.4" r="1.45"/><circle cx="328.6" cy="173.4" r="1.45"/><circle cx="330.2" cy="171.0" r="1.45"/><circle cx="331.8" cy="172.6" r="1.45"/><circle cx="333.4" cy="170.6" r="1.45"/><circle cx="335.4" cy="176.0" r="1.45"/><circle cx="337.0" cy="174.0" r="1.45"/><circle cx="338.6" cy="178.0" r="1.45"/><circle cx="339.8" cy="172.6" r="1.45"/><circle cx="341.4" cy="166.0" r="1.45"/><circle cx="343.0" cy="166.6" r="1.45"/><circle cx="344.6" cy="172.0" r="1.45"/><circle cx="346.2" cy="174.6" r="1.45"/><circle cx="347.8" cy="173.4" r="1.45"/><circle cx="349.4" cy="170.6" r="1.45"/><circle cx="351.0" cy="167.0" r="1.45"/><circle cx="352.6" cy="168.0" r="1.45"/><circle cx="354.2" cy="172.0" r="1.45"/><circle cx="355.8" cy="170.0" r="1.45"/><circle cx="357.4" cy="166.6" r="1.45"/><circle cx="359.0" cy="175.0" r="1.45"/><circle cx="362.2" cy="168.0" r="1.45"/><circle cx="363.8" cy="171.0" r="1.45"/><circle cx="365.4" cy="173.0" r="1.45"/><circle cx="367.0" cy="171.4" r="1.45"/><circle cx="369.4" cy="173.0" r="1.45"/><circle cx="371.0" cy="172.0" r="1.45"/><circle cx="375.0" cy="172.0" r="1.45"/><circle cx="376.6" cy="169.4" r="1.45"/><circle cx="378.2" cy="172.0" r="1.45"/><circle cx="380.2" cy="167.4" r="1.45"/><circle cx="381.8" cy="172.0" r="1.45"/><circle cx="383.4" cy="174.6" r="1.45"/><circle cx="385.0" cy="176.0" r="1.45"/><circle cx="386.6" cy="175.0" r="1.45"/><circle cx="388.2" cy="174.0" r="1.45"/><circle cx="389.4" cy="177.4" r="1.45"/><circle cx="391.0" cy="172.6" r="1.45"/><circle cx="392.6" cy="171.0" r="1.45"/><circle cx="394.2" cy="173.0" r="1.45"/><circle cx="395.8" cy="174.6" r="1.45"/><circle cx="397.4" cy="169.0" r="1.45"/><circle cx="399.0" cy="168.0" r="1.45"/><circle cx="400.6" cy="169.0" r="1.45"/><circle cx="402.2" cy="168.0" r="1.45"/><circle cx="403.8" cy="174.0" r="1.45"/><circle cx="405.4" cy="168.6" r="1.45"/><circle cx="407.0" cy="172.0" r="1.45"/><circle cx="408.6" cy="173.0" r="1.45"/><circle cx="410.2" cy="169.0" r="1.45"/><circle cx="411.8" cy="174.6" r="1.45"/><circle cx="413.8" cy="168.0" r="1.45"/><circle cx="415.4" cy="170.0" r="1.45"/><circle cx="417.0" cy="169.0" r="1.45"/><circle cx="420.2" cy="174.0" r="1.45"/><circle cx="421.8" cy="176.0" r="1.45"/><circle cx="423.4" cy="164.0" r="1.45"/><circle cx="425.0" cy="170.0" r="1.45"/><circle cx="426.6" cy="174.6" r="1.45"/><circle cx="428.2" cy="173.0" r="1.45"/><circle cx="429.4" cy="169.0" r="1.45"/><circle cx="431.0" cy="174.0" r="1.45"/><circle cx="432.2" cy="179.4" r="1.45"/><circle cx="433.8" cy="174.0" r="1.45"/><circle cx="435.0" cy="172.6" r="1.45"/><circle cx="436.2" cy="170.6" r="1.45"/><circle cx="437.8" cy="162.0" r="1.45"/><circle cx="439.0" cy="169.0" r="1.45"/><circle cx="441.8" cy="176.0" r="1.45"/><circle cx="443.4" cy="174.0" r="1.45"/><circle cx="445.0" cy="173.0" r="1.45"/><circle cx="446.6" cy="171.0" r="1.45"/><circle cx="447.8" cy="170.0" r="1.45"/><circle cx="449.0" cy="166.6" r="1.45"/><circle cx="450.6" cy="165.4" r="1.45"/><circle cx="452.2" cy="164.6" r="1.45"/><circle cx="453.8" cy="163.0" r="1.45"/><circle cx="455.0" cy="165.4" r="1.45"/><circle cx="456.6" cy="162.0" r="1.45"/><circle cx="458.2" cy="167.4" r="1.45"/><circle cx="459.4" cy="165.0" r="1.45"/><circle cx="461.0" cy="160.6" r="1.45"/><circle cx="462.6" cy="161.4" r="1.45"/><circle cx="464.2" cy="162.6" r="1.45"/><circle cx="465.4" cy="167.0" r="1.45"/><circle cx="467.0" cy="165.4" r="1.45"/><circle cx="468.6" cy="166.6" r="1.45"/><circle cx="470.2" cy="170.6" r="1.45"/><circle cx="471.4" cy="172.0" r="1.45"/><circle cx="473.0" cy="171.0" r="1.45"/><circle cx="474.6" cy="173.0" r="1.45"/><circle cx="476.2" cy="173.4" r="1.45"/><circle cx="477.8" cy="172.0" r="1.45"/><circle cx="479.4" cy="164.0" r="1.45"/><circle cx="481.0" cy="171.0" r="1.45"/><circle cx="482.6" cy="173.0" r="1.45"/><circle cx="483.8" cy="178.0" r="1.45"/><circle cx="485.4" cy="174.0" r="1.45"/><circle cx="486.6" cy="166.6" r="1.45"/><circle cx="489.4" cy="168.6" r="1.45"/><circle cx="490.6" cy="173.0" r="1.45"/><circle cx="492.2" cy="176.0" r="1.45"/><circle cx="493.8" cy="169.4" r="1.45"/><circle cx="495.4" cy="169.0" r="1.45"/><circle cx="499.0" cy="172.6" r="1.45"/><circle cx="500.6" cy="174.0" r="1.45"/><circle cx="502.2" cy="175.0" r="1.45"/><circle cx="503.0" cy="179.4" r="1.45"/><circle cx="504.6" cy="170.6" r="1.45"/><circle cx="505.8" cy="175.0" r="1.45"/><circle cx="507.0" cy="178.6" r="1.45"/><circle cx="508.6" cy="169.0" r="1.45"/><circle cx="510.2" cy="170.0" r="1.45"/><circle cx="511.4" cy="181.4" r="1.45"/><circle cx="512.6" cy="173.0" r="1.45"/><circle cx="513.8" cy="176.0" r="1.45"/><circle cx="515.4" cy="164.0" r="1.45"/><circle cx="517.0" cy="167.0" r="1.45"/><circle cx="518.6" cy="167.4" r="1.45"/><circle cx="519.4" cy="177.0" r="1.45"/><circle cx="520.6" cy="176.6" r="1.45"/><circle cx="522.2" cy="164.6" r="1.45"/><circle cx="523.4" cy="172.6" r="1.45"/><circle cx="526.2" cy="174.0" r="1.45"/><circle cx="527.4" cy="177.4" r="1.45"/><circle cx="528.6" cy="163.4" r="1.45"/><circle cx="530.2" cy="174.6" r="1.45"/><circle cx="531.4" cy="170.0" r="1.45"/><circle cx="532.6" cy="175.4" r="1.45"/><circle cx="533.8" cy="169.4" r="1.45"/><circle cx="535.4" cy="173.0" r="1.45"/><circle cx="536.6" cy="169.4" r="1.45"/><circle cx="537.8" cy="173.4" r="1.45"/><circle cx="539.0" cy="169.0" r="1.45"/><circle cx="540.6" cy="174.0" r="1.45"/><circle cx="542.2" cy="167.0" r="1.45"/><circle cx="543.4" cy="177.4" r="1.45"/><circle cx="545.0" cy="165.4" r="1.45"/><circle cx="546.6" cy="170.0" r="1.45"/><circle cx="547.8" cy="168.6" r="1.45"/><circle cx="549.0" cy="162.6" r="1.45"/><circle cx="550.6" cy="171.0" r="1.45"/><circle cx="551.8" cy="167.0" r="1.45"/><circle cx="553.0" cy="179.0" r="1.45"/><circle cx="554.6" cy="172.0" r="1.45"/><circle cx="556.6" cy="173.0" r="1.45"/><circle cx="558.2" cy="165.0" r="1.45"/><circle cx="559.2" cy="177.2" r="1.45"/><circle cx="559.8" cy="161.2" r="1.45"/><circle cx="564.4" cy="175.4" r="1.45"/></g>
<g fill="none" stroke="#23288a" stroke-width="0.6"><circle cx="230.6" cy="167.4" r="1.5"/><circle cx="488.2" cy="158.6" r="1.5"/><circle cx="524.6" cy="184.0" r="1.5"/><circle cx="555.4" cy="191.6" r="1.5"/><circle cx="562.0" cy="155.8" r="1.5"/><circle cx="563.0" cy="190.0" r="1.5"/></g>
<line x1="95.4" x2="95.4" y1="162.6" y2="168.2" stroke="#c63a12" stroke-width="1.05"/><rect x="93.7" y="163.7" width="3.4" height="3.4" rx="0.6" fill="#c63a12"/>
<line x1="141.4" x2="141.4" y1="170.8" y2="176.4" stroke="#c63a12" stroke-width="1.05"/><rect x="139.7" y="171.9" width="3.4" height="3.4" rx="0.6" fill="#c63a12"/>
<line x1="151.4" x2="151.4" y1="172.6" y2="174.6" stroke="#c63a12" stroke-width="1.05"/><rect x="149.7" y="171.9" width="3.4" height="3.4" rx="0.6" fill="#c63a12"/>
<line x1="233.4" x2="233.4" y1="166.0" y2="173.2" stroke="#c63a12" stroke-width="1.05"/><rect x="231.7" y="167.9" width="3.4" height="3.4" rx="0.6" fill="#c63a12"/>
<line x1="241.0" x2="241.0" y1="168.4" y2="172.8" stroke="#c63a12" stroke-width="1.05"/><rect x="239.3" y="168.9" width="3.4" height="3.4" rx="0.6" fill="#c63a12"/>
<line x1="247.4" x2="247.4" y1="170.0" y2="176.0" stroke="#c63a12" stroke-width="1.05"/><rect x="245.7" y="171.3" width="3.4" height="3.4" rx="0.6" fill="#c63a12"/>
<line x1="258.2" x2="258.2" y1="171.4" y2="173.4" stroke="#c63a12" stroke-width="1.05"/><rect x="256.5" y="170.7" width="3.4" height="3.4" rx="0.6" fill="#c63a12"/>
<line x1="259.8" x2="259.8" y1="171.4" y2="173.4" stroke="#c63a12" stroke-width="1.05"/><rect x="258.1" y="170.7" width="3.4" height="3.4" rx="0.6" fill="#c63a12"/>
<line x1="274.2" x2="274.2" y1="173.0" y2="179.8" stroke="#c63a12" stroke-width="1.05"/><rect x="272.5" y="174.7" width="3.4" height="3.4" rx="0.6" fill="#c63a12"/>
<line x1="285.0" x2="285.0" y1="166.8" y2="171.2" stroke="#c63a12" stroke-width="1.05"/><rect x="283.3" y="167.3" width="3.4" height="3.4" rx="0.6" fill="#c63a12"/>
<line x1="293.8" x2="293.8" y1="166.0" y2="174.0" stroke="#c63a12" stroke-width="1.05"/><rect x="292.1" y="168.3" width="3.4" height="3.4" rx="0.6" fill="#c63a12"/>
<line x1="306.2" x2="306.2" y1="172.2" y2="177.8" stroke="#c63a12" stroke-width="1.05"/><rect x="304.5" y="173.3" width="3.4" height="3.4" rx="0.6" fill="#c63a12"/>
<line x1="315.4" x2="315.4" y1="170.4" y2="172.8" stroke="#c63a12" stroke-width="1.05"/><rect x="313.7" y="169.9" width="3.4" height="3.4" rx="0.6" fill="#c63a12"/>
<line x1="333.8" x2="333.8" y1="160.2" y2="161.8" stroke="#c63a12" stroke-width="1.05"/><rect x="332.1" y="159.3" width="3.4" height="3.4" rx="0.6" fill="#c63a12"/>
<line x1="359.4" x2="359.4" y1="168.4" y2="170.8" stroke="#c63a12" stroke-width="1.05"/><rect x="357.7" y="167.9" width="3.4" height="3.4" rx="0.6" fill="#c63a12"/>
<line x1="368.6" x2="368.6" y1="170.6" y2="172.6" stroke="#c63a12" stroke-width="1.05"/><rect x="366.9" y="169.9" width="3.4" height="3.4" rx="0.6" fill="#c63a12"/>
<line x1="372.6" x2="372.6" y1="164.6" y2="173.4" stroke="#c63a12" stroke-width="1.05"/><rect x="370.9" y="167.3" width="3.4" height="3.4" rx="0.6" fill="#c63a12"/>
<line x1="379.0" x2="379.0" y1="176.6" y2="178.6" stroke="#c63a12" stroke-width="1.05"/><rect x="377.3" y="175.9" width="3.4" height="3.4" rx="0.6" fill="#c63a12"/>
<line x1="418.2" x2="418.2" y1="171.8" y2="174.2" stroke="#c63a12" stroke-width="1.05"/><rect x="416.5" y="171.3" width="3.4" height="3.4" rx="0.6" fill="#c63a12"/>
<line x1="442.2" x2="442.2" y1="169.8" y2="172.2" stroke="#c63a12" stroke-width="1.05"/><rect x="440.5" y="169.3" width="3.4" height="3.4" rx="0.6" fill="#c63a12"/>
<line x1="474.6" x2="474.6" y1="149.6" y2="155.6" stroke="#c63a12" stroke-width="1.05"/><rect x="472.9" y="150.9" width="3.4" height="3.4" rx="0.6" fill="#c63a12"/>
<line x1="488.2" x2="488.2" y1="183.6" y2="189.6" stroke="#c63a12" stroke-width="1.05"/><rect x="486.5" y="184.9" width="3.4" height="3.4" rx="0.6" fill="#c63a12"/>
<line x1="497.0" x2="497.0" y1="172.4" y2="176.8" stroke="#c63a12" stroke-width="1.05"/><rect x="495.3" y="172.9" width="3.4" height="3.4" rx="0.6" fill="#c63a12"/>
</g>
<rect x="55.7" y="145.18" width="520.9" height="51.4" fill="none" stroke="#6a6a6a" stroke-width="1"/>
<path d="M55.70 196.63v2.5M119.19 196.63v2.5M182.68 196.63v2.5M246.16 196.63v2.5M309.65 196.63v2.5M373.14 196.63v2.5M436.62 196.63v2.5M500.11 196.63v2.5M563.60 196.63v2.5M55.7 196.38h-2.5M576.6 196.38h2.5M55.7 183.63h-2.5M576.6 183.63h2.5M55.7 170.88h-2.5M576.6 170.88h2.5M55.7 158.13h-2.5M576.6 158.13h2.5M55.7 145.38h-2.5M576.6 145.38h2.5" stroke="#6a6a6a" stroke-width="1" fill="none"/>
<text x="51.0" y="199.6" font-size="8.75" text-anchor="end">−0.0050</text>
<text x="580.3" y="199.6" font-size="8.75">-250.0</text>
<text x="51.0" y="186.8" font-size="8.75" text-anchor="end">−0.0025</text>
<text x="580.3" y="186.8" font-size="8.75">-125.0</text>
<text x="51.0" y="174.1" font-size="8.75" text-anchor="end">0.0000</text>
<text x="580.3" y="174.1" font-size="8.75">0.0</text>
<text x="51.0" y="161.3" font-size="8.75" text-anchor="end">0.0025</text>
<text x="580.3" y="161.3" font-size="8.75">125.0</text>
<text x="51.0" y="148.6" font-size="8.75" text-anchor="end">0.0050</text>
<text x="580.3" y="148.6" font-size="8.75">250.0</text>
<text x="66.1" y="155.0" font-size="7.56" xml:space="preserve">rms<tspan font-size="5.40" dy="1.7" dx="0.5" stroke-width="0.05">AstCom</tspan><tspan dy="-1.7" dx="-1.1"> = 0.00071 Å,  rms</tspan><tspan font-size="5.40" dy="1.7" dx="0.5" stroke-width="0.05">ThAr</tspan><tspan dy="-1.7" dx="-1.5"> = 0.00120 Å</tspan></text>
<text x="555.2" y="154.7" font-size="7.7" font-weight="bold" text-anchor="end">uncorrected</text>
<text x="55.7" y="140.4" font-size="10.4" font-weight="bold">order 97</text>
</g>
<g>
<clipPath id="c3"><rect x="55.7" y="200.43" width="520.9" height="51.2"/></clipPath>
<g clip-path="url(#c3)">
<line x1="55.7" x2="576.6" y1="219.20" y2="219.20" stroke="#47961a" stroke-width="0.9" stroke-dasharray="3.1 2" stroke-dashoffset="0"/>
<line x1="55.7" x2="576.6" y1="232.97" y2="232.97" stroke="#47961a" stroke-width="0.9" stroke-dasharray="3.1 2" stroke-dashoffset="0"/>
<g fill="#47961a"><circle cx="67.0" cy="224.0" r="1.45"/><circle cx="68.6" cy="224.4" r="1.45"/><circle cx="70.2" cy="225.6" r="1.45"/><circle cx="71.8" cy="227.0" r="1.45"/><circle cx="73.4" cy="228.4" r="1.45"/><circle cx="75.0" cy="229.0" r="1.45"/><circle cx="76.2" cy="225.0" r="1.45"/><circle cx="77.8" cy="226.0" r="1.45"/><circle cx="79.4" cy="228.0" r="1.45"/><circle cx="81.0" cy="226.4" r="1.45"/><circle cx="82.6" cy="225.6" r="1.45"/><circle cx="84.2" cy="224.4" r="1.45"/><circle cx="85.4" cy="227.6" r="1.45"/><circle cx="87.0" cy="226.4" r="1.45"/><circle cx="89.0" cy="225.6" r="1.45"/><circle cx="90.6" cy="228.4" r="1.45"/><circle cx="92.2" cy="225.0" r="1.45"/><circle cx="93.8" cy="223.6" r="1.45"/><circle cx="97.0" cy="226.0" r="1.45"/><circle cx="98.6" cy="227.6" r="1.45"/><circle cx="100.2" cy="227.0" r="1.45"/><circle cx="101.8" cy="228.0" r="1.45"/><circle cx="103.4" cy="223.6" r="1.45"/><circle cx="105.0" cy="222.4" r="1.45"/><circle cx="106.6" cy="221.0" r="1.45"/><circle cx="108.2" cy="224.4" r="1.45"/><circle cx="109.8" cy="225.6" r="1.45"/><circle cx="111.4" cy="224.0" r="1.45"/><circle cx="113.0" cy="225.0" r="1.45"/><circle cx="114.6" cy="224.4" r="1.45"/><circle cx="116.2" cy="225.0" r="1.45"/><circle cx="117.8" cy="227.0" r="1.45"/><circle cx="119.4" cy="226.4" r="1.45"/><circle cx="121.0" cy="226.0" r="1.45"/><circle cx="123.0" cy="224.4" r="1.45"/><circle cx="124.6" cy="224.0" r="1.45"/><circle cx="126.2" cy="225.6" r="1.45"/><circle cx="127.8" cy="229.0" r="1.45"/><circle cx="129.4" cy="225.0" r="1.45"/><circle cx="131.0" cy="222.4" r="1.45"/><circle cx="132.6" cy="227.6" r="1.45"/><circle cx="134.2" cy="228.4" r="1.45"/><circle cx="135.8" cy="229.0" r="1.45"/><circle cx="137.4" cy="228.0" r="1.45"/><circle cx="139.0" cy="228.4" r="1.45"/><circle cx="140.6" cy="224.0" r="1.45"/><circle cx="143.0" cy="229.0" r="1.45"/><circle cx="144.6" cy="226.0" r="1.45"/><circle cx="146.2" cy="224.4" r="1.45"/><circle cx="147.4" cy="223.6" r="1.45"/><circle cx="149.0" cy="229.0" r="1.45"/><circle cx="153.0" cy="225.0" r="1.45"/><circle cx="154.6" cy="227.6" r="1.45"/><circle cx="156.2" cy="227.0" r="1.45"/><circle cx="157.8" cy="226.4" r="1.45"/><circle cx="159.4" cy="225.6" r="1.45"/><circle cx="161.0" cy="226.0" r="1.45"/><circle cx="162.6" cy="226.4" r="1.45"/><circle cx="164.2" cy="224.0" r="1.45"/><circle cx="165.8" cy="225.0" r="1.45"/><circle cx="167.4" cy="227.6" r="1.45"/><circle cx="169.0" cy="225.6" r="1.45"/><circle cx="170.6" cy="226.0" r="1.45"/><circle cx="172.2" cy="229.0" r="1.45"/><circle cx="173.8" cy="225.0" r="1.45"/><circle cx="175.4" cy="224.0" r="1.45"/><circle cx="177.4" cy="227.6" r="1.45"/><circle cx="179.0" cy="225.6" r="1.45"/><circle cx="180.6" cy="224.0" r="1.45"/><circle cx="182.0" cy="226.0" r="1.45"/><circle cx="183.4" cy="227.6" r="1.45"/><circle cx="184.6" cy="228.0" r="1.45"/><circle cx="186.2" cy="227.0" r="1.45"/><circle cx="187.8" cy="226.0" r="1.45"/><circle cx="189.4" cy="225.0" r="1.45"/><circle cx="191.0" cy="222.0" r="1.45"/><circle cx="192.6" cy="225.0" r="1.45"/><circle cx="194.2" cy="226.4" r="1.45"/><circle cx="195.8" cy="227.0" r="1.45"/><circle cx="197.4" cy="227.6" r="1.45"/><circle cx="199.0" cy="231.0" r="1.45"/><circle cx="200.6" cy="225.6" r="1.45"/><circle cx="202.2" cy="225.0" r="1.45"/><circle cx="203.8" cy="224.4" r="1.45"/><circle cx="205.4" cy="225.6" r="1.45"/><circle cx="207.0" cy="225.0" r="1.45"/><circle cx="208.6" cy="224.4" r="1.45"/><circle cx="210.6" cy="228.4" r="1.45"/><circle cx="212.2" cy="227.0" r="1.45"/><circle cx="213.8" cy="226.4" r="1.45"/><circle cx="215.4" cy="225.6" r="1.45"/><circle cx="217.4" cy="223.6" r="1.45"/><circle cx="219.0" cy="219.6" r="1.45"/><circle cx="220.6" cy="223.0" r="1.45"/><circle cx="222.2" cy="221.0" r="1.45"/><circle cx="223.8" cy="221.6" r="1.45"/><circle cx="225.4" cy="223.6" r="1.45"/><circle cx="227.0" cy="225.0" r="1.45"/><circle cx="228.6" cy="226.0" r="1.45"/><circle cx="230.6" cy="225.6" r="1.45"/><circle cx="232.2" cy="224.4" r="1.45"/><circle cx="235.4" cy="224.4" r="1.45"/><circle cx="237.0" cy="225.0" r="1.45"/><circle cx="238.6" cy="225.0" r="1.45"/><circle cx="240.2" cy="228.0" r="1.45"/><circle cx="241.8" cy="227.0" r="1.45"/><circle cx="243.4" cy="226.0" r="1.45"/><circle cx="245.0" cy="227.6" r="1.45"/><circle cx="249.4" cy="227.0" r="1.45"/><circle cx="251.0" cy="225.6" r="1.45"/><circle cx="252.6" cy="227.6" r="1.45"/><circle cx="254.2" cy="224.0" r="1.45"/><circle cx="255.8" cy="223.0" r="1.45"/><circle cx="261.0" cy="227.6" r="1.45"/><circle cx="262.6" cy="226.0" r="1.45"/><circle cx="264.2" cy="228.4" r="1.45"/><circle cx="265.8" cy="227.6" r="1.45"/><circle cx="267.4" cy="228.0" r="1.45"/><circle cx="269.0" cy="225.6" r="1.45"/><circle cx="270.6" cy="224.4" r="1.45"/><circle cx="272.2" cy="223.6" r="1.45"/><circle cx="276.6" cy="227.6" r="1.45"/><circle cx="278.2" cy="228.0" r="1.45"/><circle cx="279.8" cy="225.6" r="1.45"/><circle cx="281.4" cy="227.0" r="1.45"/><circle cx="283.0" cy="225.0" r="1.45"/><circle cx="287.4" cy="226.0" r="1.45"/><circle cx="289.0" cy="229.6" r="1.45"/><circle cx="290.6" cy="227.0" r="1.45"/><circle cx="292.2" cy="227.6" r="1.45"/><circle cx="295.4" cy="227.0" r="1.45"/><circle cx="297.0" cy="225.6" r="1.45"/><circle cx="298.6" cy="227.6" r="1.45"/><circle cx="300.2" cy="229.6" r="1.45"/><circle cx="301.8" cy="227.0" r="1.45"/><circle cx="303.4" cy="224.0" r="1.45"/><circle cx="305.0" cy="225.6" r="1.45"/><circle cx="306.6" cy="222.4" r="1.45"/><circle cx="307.4" cy="223.0" r="1.45"/><circle cx="308.6" cy="226.0" r="1.45"/><circle cx="309.8" cy="228.0" r="1.45"/><circle cx="311.4" cy="227.0" r="1.45"/><circle cx="313.0" cy="226.4" r="1.45"/><circle cx="317.4" cy="226.0" r="1.45"/><circle cx="319.0" cy="225.0" r="1.45"/><circle cx="320.6" cy="224.0" r="1.45"/><circle cx="322.2" cy="225.6" r="1.45"/><circle cx="323.8" cy="226.0" r="1.45"/><circle cx="325.4" cy="226.4" r="1.45"/><circle cx="327.0" cy="227.6" r="1.45"/><circle cx="328.6" cy="228.4" r="1.45"/><circle cx="330.2" cy="226.0" r="1.45"/><circle cx="331.8" cy="225.0" r="1.45"/><circle cx="333.4" cy="224.0" r="1.45"/><circle cx="335.4" cy="229.0" r="1.45"/><circle cx="337.0" cy="227.6" r="1.45"/><circle cx="338.6" cy="227.0" r="1.45"/><circle cx="339.8" cy="225.6" r="1.45"/><circle cx="341.4" cy="224.0" r="1.45"/><circle cx="343.0" cy="222.4" r="1.45"/><circle cx="344.6" cy="227.0" r="1.45"/><circle cx="346.2" cy="227.6" r="1.45"/><circle cx="347.8" cy="225.0" r="1.45"/><circle cx="349.4" cy="224.0" r="1.45"/><circle cx="351.0" cy="223.0" r="1.45"/><circle cx="352.6" cy="222.4" r="1.45"/><circle cx="354.2" cy="225.0" r="1.45"/><circle cx="355.8" cy="224.0" r="1.45"/><circle cx="357.4" cy="222.4" r="1.45"/><circle cx="359.0" cy="226.0" r="1.45"/><circle cx="362.2" cy="225.6" r="1.45"/><circle cx="363.8" cy="227.6" r="1.45"/><circle cx="365.4" cy="228.0" r="1.45"/><circle cx="367.0" cy="227.0" r="1.45"/><circle cx="369.4" cy="225.6" r="1.45"/><circle cx="371.0" cy="226.0" r="1.45"/><circle cx="375.0" cy="224.0" r="1.45"/><circle cx="376.6" cy="227.0" r="1.45"/><circle cx="378.2" cy="228.0" r="1.45"/><circle cx="380.2" cy="225.0" r="1.45"/><circle cx="381.8" cy="228.4" r="1.45"/><circle cx="383.4" cy="230.0" r="1.45"/><circle cx="385.0" cy="227.6" r="1.45"/><circle cx="386.6" cy="229.0" r="1.45"/><circle cx="388.2" cy="228.0" r="1.45"/><circle cx="389.4" cy="230.4" r="1.45"/><circle cx="391.0" cy="226.0" r="1.45"/><circle cx="392.6" cy="224.4" r="1.45"/><circle cx="394.2" cy="223.0" r="1.45"/><circle cx="395.8" cy="225.0" r="1.45"/><circle cx="397.4" cy="227.0" r="1.45"/><circle cx="399.0" cy="224.0" r="1.45"/><circle cx="400.6" cy="223.0" r="1.45"/><circle cx="402.2" cy="224.0" r="1.45"/><circle cx="403.8" cy="226.0" r="1.45"/><circle cx="405.4" cy="225.6" r="1.45"/><circle cx="407.0" cy="227.6" r="1.45"/><circle cx="408.6" cy="228.4" r="1.45"/><circle cx="410.2" cy="230.4" r="1.45"/><circle cx="411.8" cy="229.6" r="1.45"/><circle cx="413.8" cy="228.4" r="1.45"/><circle cx="415.4" cy="228.0" r="1.45"/><circle cx="417.0" cy="227.6" r="1.45"/><circle cx="420.2" cy="227.0" r="1.45"/><circle cx="421.8" cy="229.0" r="1.45"/><circle cx="423.4" cy="223.6" r="1.45"/><circle cx="425.0" cy="225.0" r="1.45"/><circle cx="426.6" cy="227.6" r="1.45"/><circle cx="428.2" cy="228.4" r="1.45"/><circle cx="429.4" cy="226.0" r="1.45"/><circle cx="431.0" cy="227.0" r="1.45"/><circle cx="432.2" cy="228.0" r="1.45"/><circle cx="433.8" cy="226.0" r="1.45"/><circle cx="435.0" cy="225.6" r="1.45"/><circle cx="436.2" cy="227.0" r="1.45"/><circle cx="437.8" cy="222.0" r="1.45"/><circle cx="439.0" cy="221.6" r="1.45"/><circle cx="440.6" cy="219.6" r="1.45"/><circle cx="445.0" cy="225.0" r="1.45"/><circle cx="446.6" cy="227.0" r="1.45"/><circle cx="447.8" cy="225.6" r="1.45"/><circle cx="449.0" cy="224.4" r="1.45"/><circle cx="450.6" cy="224.0" r="1.45"/><circle cx="452.2" cy="225.0" r="1.45"/><circle cx="453.8" cy="224.0" r="1.45"/><circle cx="455.0" cy="225.6" r="1.45"/><circle cx="456.6" cy="223.6" r="1.45"/><circle cx="458.2" cy="227.6" r="1.45"/><circle cx="459.4" cy="229.0" r="1.45"/><circle cx="461.0" cy="223.0" r="1.45"/><circle cx="462.6" cy="222.4" r="1.45"/><circle cx="464.2" cy="223.6" r="1.45"/><circle cx="465.4" cy="228.0" r="1.45"/><circle cx="467.0" cy="223.0" r="1.45"/><circle cx="468.6" cy="224.0" r="1.45"/><circle cx="470.2" cy="226.4" r="1.45"/><circle cx="471.4" cy="227.6" r="1.45"/><circle cx="473.0" cy="224.0" r="1.45"/><circle cx="474.6" cy="223.0" r="1.45"/><circle cx="476.2" cy="222.0" r="1.45"/><circle cx="477.8" cy="219.6" r="1.45"/><circle cx="479.4" cy="225.0" r="1.45"/><circle cx="481.0" cy="228.0" r="1.45"/><circle cx="482.6" cy="229.0" r="1.45"/><circle cx="483.8" cy="230.0" r="1.45"/><circle cx="485.4" cy="223.0" r="1.45"/><circle cx="486.6" cy="222.4" r="1.45"/><circle cx="487.8" cy="222.0" r="1.45"/><circle cx="489.4" cy="226.0" r="1.45"/><circle cx="490.6" cy="225.0" r="1.45"/><circle cx="492.2" cy="223.6" r="1.45"/><circle cx="493.8" cy="223.0" r="1.45"/><circle cx="495.4" cy="224.0" r="1.45"/><circle cx="499.0" cy="226.0" r="1.45"/><circle cx="500.6" cy="228.0" r="1.45"/><circle cx="502.2" cy="229.6" r="1.45"/><circle cx="503.0" cy="233.0" r="1.45"/><circle cx="504.6" cy="224.4" r="1.45"/><circle cx="505.8" cy="229.0" r="1.45"/><circle cx="507.0" cy="231.0" r="1.45"/><circle cx="508.6" cy="223.6" r="1.45"/><circle cx="510.2" cy="226.0" r="1.45"/><circle cx="511.4" cy="232.4" r="1.45"/><circle cx="512.6" cy="227.6" r="1.45"/><circle cx="513.8" cy="231.6" r="1.45"/><circle cx="515.4" cy="219.6" r="1.45"/><circle cx="517.0" cy="223.0" r="1.45"/><circle cx="518.6" cy="222.4" r="1.45"/><circle cx="519.4" cy="232.0" r="1.45"/><circle cx="521.0" cy="221.2" r="1.45"/><circle cx="523.2" cy="220.2" r="1.45"/><circle cx="520.6" cy="231.6" r="1.45"/><circle cx="523.0" cy="227.8" r="1.45"/><circle cx="524.6" cy="227.8" r="1.45"/><circle cx="526.0" cy="227.8" r="1.45"/><circle cx="527.2" cy="231.6" r="1.45"/><circle cx="530.0" cy="229.2" r="1.45"/><circle cx="532.6" cy="230.6" r="1.45"/><circle cx="531.2" cy="224.8" r="1.45"/><circle cx="533.6" cy="224.6" r="1.45"/><circle cx="536.0" cy="224.6" r="1.45"/><circle cx="538.6" cy="223.6" r="1.45"/><circle cx="535.0" cy="227.8" r="1.45"/><circle cx="537.0" cy="227.8" r="1.45"/><circle cx="539.0" cy="227.8" r="1.45"/><circle cx="540.8" cy="227.8" r="1.45"/><circle cx="542.0" cy="219.8" r="1.45"/><circle cx="543.2" cy="230.2" r="1.45"/><circle cx="546.2" cy="222.0" r="1.45"/><circle cx="547.2" cy="220.2" r="1.45"/><circle cx="549.8" cy="225.8" r="1.45"/><circle cx="551.6" cy="219.6" r="1.45"/><circle cx="552.6" cy="231.0" r="1.45"/><circle cx="554.0" cy="222.2" r="1.45"/><circle cx="559.2" cy="227.8" r="1.45"/><circle cx="564.6" cy="227.0" r="1.45"/></g>
<g fill="none" stroke="#47961a" stroke-width="0.6"><circle cx="511.4" cy="235.0" r="1.5"/><circle cx="528.8" cy="217.8" r="1.5"/><circle cx="524.8" cy="237.4" r="1.5"/><circle cx="544.6" cy="217.6" r="1.5"/><circle cx="548.6" cy="216.6" r="1.5"/><circle cx="556.6" cy="214.2" r="1.5"/><circle cx="558.6" cy="212.8" r="1.5"/><circle cx="560.6" cy="210.8" r="1.5"/><circle cx="562.0" cy="207.8" r="1.5"/><circle cx="555.2" cy="242.0" r="1.5"/><circle cx="563.0" cy="240.2" r="1.5"/></g>
<line x1="95.4" x2="95.4" y1="216.6" y2="222.2" stroke="#c63a12" stroke-width="1.05"/><rect x="93.7" y="217.7" width="3.4" height="3.4" rx="0.6" fill="#c63a12"/>
<line x1="141.4" x2="141.4" y1="225.2" y2="230.8" stroke="#c63a12" stroke-width="1.05"/><rect x="139.7" y="226.3" width="3.4" height="3.4" rx="0.6" fill="#c63a12"/>
<line x1="151.4" x2="151.4" y1="227.4" y2="229.4" stroke="#c63a12" stroke-width="1.05"/><rect x="149.7" y="226.7" width="3.4" height="3.4" rx="0.6" fill="#c63a12"/>
<line x1="233.4" x2="233.4" y1="221.4" y2="228.6" stroke="#c63a12" stroke-width="1.05"/><rect x="231.7" y="223.3" width="3.4" height="3.4" rx="0.6" fill="#c63a12"/>
<line x1="241.0" x2="241.0" y1="223.4" y2="227.8" stroke="#c63a12" stroke-width="1.05"/><rect x="239.3" y="223.9" width="3.4" height="3.4" rx="0.6" fill="#c63a12"/>
<line x1="247.4" x2="247.4" y1="225.0" y2="231.0" stroke="#c63a12" stroke-width="1.05"/><rect x="245.7" y="226.3" width="3.4" height="3.4" rx="0.6" fill="#c63a12"/>
<line x1="258.2" x2="258.2" y1="227.0" y2="229.0" stroke="#c63a12" stroke-width="1.05"/><rect x="256.5" y="226.3" width="3.4" height="3.4" rx="0.6" fill="#c63a12"/>
<line x1="259.8" x2="259.8" y1="227.0" y2="229.0" stroke="#c63a12" stroke-width="1.05"/><rect x="258.1" y="226.3" width="3.4" height="3.4" rx="0.6" fill="#c63a12"/>
<line x1="274.2" x2="274.2" y1="228.2" y2="235.0" stroke="#c63a12" stroke-width="1.05"/><rect x="272.5" y="229.9" width="3.4" height="3.4" rx="0.6" fill="#c63a12"/>
<line x1="285.0" x2="285.0" y1="223.4" y2="225.4" stroke="#c63a12" stroke-width="1.05"/><rect x="283.3" y="222.7" width="3.4" height="3.4" rx="0.6" fill="#c63a12"/>
<line x1="293.8" x2="293.8" y1="221.6" y2="229.6" stroke="#c63a12" stroke-width="1.05"/><rect x="292.1" y="223.9" width="3.4" height="3.4" rx="0.6" fill="#c63a12"/>
<line x1="306.2" x2="306.2" y1="227.2" y2="232.8" stroke="#c63a12" stroke-width="1.05"/><rect x="304.5" y="228.3" width="3.4" height="3.4" rx="0.6" fill="#c63a12"/>
<line x1="315.4" x2="315.4" y1="225.8" y2="228.2" stroke="#c63a12" stroke-width="1.05"/><rect x="313.7" y="225.3" width="3.4" height="3.4" rx="0.6" fill="#c63a12"/>
<line x1="333.8" x2="333.8" y1="215.2" y2="216.8" stroke="#c63a12" stroke-width="1.05"/><rect x="332.1" y="214.3" width="3.4" height="3.4" rx="0.6" fill="#c63a12"/>
<line x1="359.4" x2="359.4" y1="223.4" y2="225.8" stroke="#c63a12" stroke-width="1.05"/><rect x="357.7" y="222.9" width="3.4" height="3.4" rx="0.6" fill="#c63a12"/>
<line x1="368.6" x2="368.6" y1="225.6" y2="227.6" stroke="#c63a12" stroke-width="1.05"/><rect x="366.9" y="224.9" width="3.4" height="3.4" rx="0.6" fill="#c63a12"/>
<line x1="372.6" x2="372.6" y1="219.6" y2="228.4" stroke="#c63a12" stroke-width="1.05"/><rect x="370.9" y="222.3" width="3.4" height="3.4" rx="0.6" fill="#c63a12"/>
<line x1="379.0" x2="379.0" y1="231.6" y2="233.6" stroke="#c63a12" stroke-width="1.05"/><rect x="377.3" y="230.9" width="3.4" height="3.4" rx="0.6" fill="#c63a12"/>
<line x1="418.2" x2="418.2" y1="226.8" y2="229.2" stroke="#c63a12" stroke-width="1.05"/><rect x="416.5" y="226.3" width="3.4" height="3.4" rx="0.6" fill="#c63a12"/>
<line x1="442.2" x2="442.2" y1="224.8" y2="227.2" stroke="#c63a12" stroke-width="1.05"/><rect x="440.5" y="224.3" width="3.4" height="3.4" rx="0.6" fill="#c63a12"/>
<line x1="474.6" x2="474.6" y1="204.6" y2="210.6" stroke="#c63a12" stroke-width="1.05"/><rect x="472.9" y="205.9" width="3.4" height="3.4" rx="0.6" fill="#c63a12"/>
<line x1="488.2" x2="488.2" y1="238.6" y2="244.6" stroke="#c63a12" stroke-width="1.05"/><rect x="486.5" y="239.9" width="3.4" height="3.4" rx="0.6" fill="#c63a12"/>
<line x1="497.0" x2="497.0" y1="227.4" y2="231.8" stroke="#c63a12" stroke-width="1.05"/><rect x="495.3" y="227.9" width="3.4" height="3.4" rx="0.6" fill="#c63a12"/>
</g>
<rect x="55.7" y="200.43" width="520.9" height="51.2" fill="none" stroke="#6a6a6a" stroke-width="1"/>
<path d="M55.70 251.68v2.5M119.19 251.68v2.5M182.68 251.68v2.5M246.16 251.68v2.5M309.65 251.68v2.5M373.14 251.68v2.5M436.62 251.68v2.5M500.11 251.68v2.5M563.60 251.68v2.5M55.7 251.58h-2.5M576.6 251.58h2.5M55.7 238.83h-2.5M576.6 238.83h2.5M55.7 226.08h-2.5M576.6 226.08h2.5M55.7 213.33h-2.5M576.6 213.33h2.5M55.7 200.58h-2.5M576.6 200.58h2.5" stroke="#6a6a6a" stroke-width="1" fill="none"/>
<text x="51.0" y="254.8" font-size="8.75" text-anchor="end">−0.0050</text>
<text x="580.3" y="254.8" font-size="8.75">-250.0</text>
<text x="51.0" y="242.0" font-size="8.75" text-anchor="end">−0.0025</text>
<text x="580.3" y="242.0" font-size="8.75">-125.0</text>
<text x="51.0" y="229.3" font-size="8.75" text-anchor="end">0.0000</text>
<text x="580.3" y="229.3" font-size="8.75">0.0</text>
<text x="51.0" y="216.5" font-size="8.75" text-anchor="end">0.0025</text>
<text x="580.3" y="216.5" font-size="8.75">125.0</text>
<text x="51.0" y="203.8" font-size="8.75" text-anchor="end">0.0050</text>
<text x="580.3" y="203.8" font-size="8.75">250.0</text>
<text x="66.1" y="210.2" font-size="7.56" xml:space="preserve">rms<tspan font-size="5.40" dy="1.7" dx="0.5" stroke-width="0.05">AstCom</tspan><tspan dy="-1.7" dx="-1.1"> = 0.00045 Å,  rms</tspan><tspan font-size="5.40" dy="1.7" dx="0.5" stroke-width="0.05">ThAr</tspan><tspan dy="-1.7" dx="-1.5"> = 0.00121 Å</tspan></text>
<text x="555.2" y="209.9" font-size="7.7" font-weight="bold" text-anchor="end">corrected</text>
</g>
<g>
<clipPath id="c4"><rect x="55.7" y="277.46" width="520.9" height="51.5"/></clipPath>
<g clip-path="url(#c4)">
<line x1="55.7" x2="576.6" y1="292.12" y2="292.12" stroke="#23288a" stroke-width="0.9" stroke-dasharray="3.1 2" stroke-dashoffset="0"/>
<line x1="55.7" x2="576.6" y1="314.20" y2="314.20" stroke="#23288a" stroke-width="0.9" stroke-dasharray="3.1 2" stroke-dashoffset="0"/>
<g fill="#23288a"><circle cx="67.0" cy="296.0" r="1.45"/><circle cx="68.6" cy="307.0" r="1.45"/><circle cx="70.2" cy="303.0" r="1.45"/><circle cx="71.8" cy="300.0" r="1.45"/><circle cx="73.4" cy="303.0" r="1.45"/><circle cx="75.0" cy="305.0" r="1.45"/><circle cx="76.6" cy="306.6" r="1.45"/><circle cx="78.2" cy="302.0" r="1.45"/><circle cx="79.8" cy="301.4" r="1.45"/><circle cx="81.4" cy="307.0" r="1.45"/><circle cx="83.0" cy="300.0" r="1.45"/><circle cx="84.6" cy="301.0" r="1.45"/><circle cx="86.2" cy="301.0" r="1.45"/><circle cx="87.8" cy="300.6" r="1.45"/><circle cx="89.8" cy="305.4" r="1.45"/><circle cx="91.4" cy="300.6" r="1.45"/><circle cx="93.0" cy="304.6" r="1.45"/><circle cx="94.6" cy="301.0" r="1.45"/><circle cx="96.2" cy="302.0" r="1.45"/><circle cx="97.8" cy="304.6" r="1.45"/><circle cx="99.4" cy="307.0" r="1.45"/><circle cx="101.0" cy="300.6" r="1.45"/><circle cx="102.6" cy="297.4" r="1.45"/><circle cx="104.2" cy="303.0" r="1.45"/><circle cx="105.8" cy="302.6" r="1.45"/><circle cx="107.0" cy="306.6" r="1.45"/><circle cx="108.6" cy="304.0" r="1.45"/><circle cx="110.2" cy="298.6" r="1.45"/><circle cx="111.8" cy="305.4" r="1.45"/><circle cx="113.4" cy="306.6" r="1.45"/><circle cx="115.0" cy="306.0" r="1.45"/><circle cx="116.6" cy="298.6" r="1.45"/><circle cx="118.2" cy="306.6" r="1.45"/><circle cx="119.8" cy="311.4" r="1.45"/><circle cx="121.0" cy="309.0" r="1.45"/><circle cx="122.6" cy="310.6" r="1.45"/><circle cx="124.2" cy="306.0" r="1.45"/><circle cx="125.8" cy="304.6" r="1.45"/><circle cx="127.4" cy="303.4" r="1.45"/><circle cx="129.0" cy="302.0" r="1.45"/><circle cx="130.6" cy="301.0" r="1.45"/><circle cx="132.2" cy="300.6" r="1.45"/><circle cx="133.8" cy="301.4" r="1.45"/><circle cx="135.4" cy="303.0" r="1.45"/><circle cx="137.0" cy="305.4" r="1.45"/><circle cx="138.6" cy="302.6" r="1.45"/><circle cx="140.2" cy="300.6" r="1.45"/><circle cx="141.8" cy="303.0" r="1.45"/><circle cx="143.4" cy="306.0" r="1.45"/><circle cx="145.0" cy="304.0" r="1.45"/><circle cx="146.6" cy="305.0" r="1.45"/><circle cx="148.2" cy="307.0" r="1.45"/><circle cx="149.8" cy="302.6" r="1.45"/><circle cx="151.4" cy="301.0" r="1.45"/><circle cx="153.0" cy="300.0" r="1.45"/><circle cx="156.2" cy="306.0" r="1.45"/><circle cx="157.8" cy="305.0" r="1.45"/><circle cx="159.4" cy="303.0" r="1.45"/><circle cx="161.0" cy="298.6" r="1.45"/><circle cx="162.6" cy="301.4" r="1.45"/><circle cx="164.2" cy="302.6" r="1.45"/><circle cx="165.8" cy="298.6" r="1.45"/><circle cx="167.4" cy="300.0" r="1.45"/><circle cx="169.0" cy="301.0" r="1.45"/><circle cx="170.6" cy="300.0" r="1.45"/><circle cx="172.2" cy="301.0" r="1.45"/><circle cx="173.8" cy="304.6" r="1.45"/><circle cx="175.4" cy="303.0" r="1.45"/><circle cx="177.0" cy="301.4" r="1.45"/><circle cx="178.6" cy="303.0" r="1.45"/><circle cx="180.2" cy="304.6" r="1.45"/><circle cx="181.8" cy="305.4" r="1.45"/><circle cx="183.4" cy="304.0" r="1.45"/><circle cx="185.0" cy="303.0" r="1.45"/><circle cx="186.6" cy="301.4" r="1.45"/><circle cx="188.2" cy="301.0" r="1.45"/><circle cx="189.8" cy="300.6" r="1.45"/><circle cx="191.4" cy="302.0" r="1.45"/><circle cx="193.0" cy="303.0" r="1.45"/><circle cx="194.6" cy="304.6" r="1.45"/><circle cx="196.2" cy="301.0" r="1.45"/><circle cx="197.8" cy="303.4" r="1.45"/><circle cx="199.4" cy="306.0" r="1.45"/><circle cx="201.0" cy="298.0" r="1.45"/><circle cx="202.6" cy="302.0" r="1.45"/><circle cx="204.2" cy="302.6" r="1.45"/><circle cx="205.8" cy="304.6" r="1.45"/><circle cx="207.4" cy="304.0" r="1.45"/><circle cx="209.0" cy="306.0" r="1.45"/><circle cx="210.6" cy="305.0" r="1.45"/><circle cx="212.2" cy="309.0" r="1.45"/><circle cx="213.8" cy="304.6" r="1.45"/><circle cx="215.4" cy="301.0" r="1.45"/><circle cx="217.0" cy="301.0" r="1.45"/><circle cx="218.6" cy="305.4" r="1.45"/><circle cx="220.2" cy="299.4" r="1.45"/><circle cx="221.8" cy="293.4" r="1.45"/><circle cx="223.4" cy="298.0" r="1.45"/><circle cx="225.0" cy="303.0" r="1.45"/><circle cx="229.0" cy="295.4" r="1.45"/><circle cx="230.6" cy="305.0" r="1.45"/><circle cx="232.2" cy="306.6" r="1.45"/><circle cx="233.8" cy="304.6" r="1.45"/><circle cx="235.4" cy="306.0" r="1.45"/><circle cx="237.0" cy="305.0" r="1.45"/><circle cx="238.6" cy="304.0" r="1.45"/><circle cx="240.2" cy="305.0" r="1.45"/><circle cx="241.8" cy="302.6" r="1.45"/><circle cx="243.4" cy="302.0" r="1.45"/><circle cx="245.0" cy="298.6" r="1.45"/><circle cx="246.6" cy="300.0" r="1.45"/><circle cx="248.2" cy="300.6" r="1.45"/><circle cx="249.8" cy="301.0" r="1.45"/><circle cx="251.4" cy="300.6" r="1.45"/><circle cx="253.0" cy="300.0" r="1.45"/><circle cx="254.6" cy="303.0" r="1.45"/><circle cx="259.4" cy="305.4" r="1.45"/><circle cx="261.0" cy="308.0" r="1.45"/><circle cx="262.6" cy="307.0" r="1.45"/><circle cx="264.2" cy="305.0" r="1.45"/><circle cx="265.8" cy="304.0" r="1.45"/><circle cx="267.4" cy="297.0" r="1.45"/><circle cx="269.0" cy="304.6" r="1.45"/><circle cx="270.6" cy="305.4" r="1.45"/><circle cx="272.2" cy="302.0" r="1.45"/><circle cx="273.8" cy="298.6" r="1.45"/><circle cx="277.0" cy="305.0" r="1.45"/><circle cx="278.6" cy="306.6" r="1.45"/><circle cx="280.2" cy="307.0" r="1.45"/><circle cx="282.2" cy="300.0" r="1.45"/><circle cx="283.8" cy="302.0" r="1.45"/><circle cx="285.4" cy="303.0" r="1.45"/><circle cx="287.0" cy="302.6" r="1.45"/><circle cx="288.6" cy="302.0" r="1.45"/><circle cx="290.2" cy="307.0" r="1.45"/><circle cx="291.8" cy="303.0" r="1.45"/><circle cx="293.4" cy="299.4" r="1.45"/><circle cx="295.0" cy="299.0" r="1.45"/><circle cx="297.0" cy="305.4" r="1.45"/><circle cx="298.6" cy="306.6" r="1.45"/><circle cx="302.2" cy="302.0" r="1.45"/><circle cx="303.8" cy="302.6" r="1.45"/><circle cx="304.6" cy="310.0" r="1.45"/><circle cx="306.2" cy="306.6" r="1.45"/><circle cx="307.8" cy="306.6" r="1.45"/><circle cx="309.4" cy="307.4" r="1.45"/><circle cx="311.0" cy="306.0" r="1.45"/><circle cx="312.6" cy="305.0" r="1.45"/><circle cx="314.2" cy="305.4" r="1.45"/><circle cx="315.8" cy="304.0" r="1.45"/><circle cx="317.4" cy="303.4" r="1.45"/><circle cx="319.0" cy="309.4" r="1.45"/><circle cx="320.6" cy="308.0" r="1.45"/><circle cx="322.2" cy="306.0" r="1.45"/><circle cx="323.8" cy="305.0" r="1.45"/><circle cx="325.4" cy="309.4" r="1.45"/><circle cx="327.0" cy="310.6" r="1.45"/><circle cx="328.6" cy="303.0" r="1.45"/><circle cx="330.2" cy="304.0" r="1.45"/><circle cx="331.8" cy="305.4" r="1.45"/><circle cx="333.4" cy="301.0" r="1.45"/><circle cx="335.0" cy="303.0" r="1.45"/><circle cx="336.6" cy="306.0" r="1.45"/><circle cx="338.2" cy="304.0" r="1.45"/><circle cx="339.8" cy="308.6" r="1.45"/><circle cx="341.4" cy="305.0" r="1.45"/><circle cx="343.0" cy="301.0" r="1.45"/><circle cx="344.6" cy="302.6" r="1.45"/><circle cx="346.2" cy="305.4" r="1.45"/><circle cx="347.8" cy="302.0" r="1.45"/><circle cx="349.4" cy="301.4" r="1.45"/><circle cx="351.0" cy="295.4" r="1.45"/><circle cx="352.6" cy="305.0" r="1.45"/><circle cx="354.2" cy="305.4" r="1.45"/><circle cx="355.8" cy="300.0" r="1.45"/><circle cx="357.4" cy="298.0" r="1.45"/><circle cx="359.0" cy="296.0" r="1.45"/><circle cx="360.6" cy="302.6" r="1.45"/><circle cx="362.2" cy="307.0" r="1.45"/><circle cx="363.8" cy="305.4" r="1.45"/><circle cx="365.4" cy="304.6" r="1.45"/><circle cx="367.8" cy="304.0" r="1.45"/><circle cx="369.4" cy="302.0" r="1.45"/><circle cx="371.0" cy="300.0" r="1.45"/><circle cx="372.6" cy="298.6" r="1.45"/><circle cx="374.2" cy="297.0" r="1.45"/><circle cx="375.8" cy="297.0" r="1.45"/><circle cx="377.4" cy="296.6" r="1.45"/><circle cx="379.0" cy="294.0" r="1.45"/><circle cx="380.6" cy="308.0" r="1.45"/><circle cx="381.8" cy="309.4" r="1.45"/><circle cx="383.4" cy="300.0" r="1.45"/><circle cx="385.0" cy="298.6" r="1.45"/><circle cx="386.6" cy="298.0" r="1.45"/><circle cx="388.2" cy="300.0" r="1.45"/><circle cx="389.8" cy="302.0" r="1.45"/><circle cx="391.4" cy="300.6" r="1.45"/><circle cx="393.0" cy="303.0" r="1.45"/><circle cx="394.6" cy="305.0" r="1.45"/><circle cx="396.2" cy="302.0" r="1.45"/><circle cx="397.8" cy="304.0" r="1.45"/><circle cx="399.4" cy="295.0" r="1.45"/><circle cx="402.2" cy="301.0" r="1.45"/><circle cx="403.8" cy="304.6" r="1.45"/><circle cx="405.4" cy="308.6" r="1.45"/><circle cx="407.0" cy="301.0" r="1.45"/><circle cx="408.6" cy="306.0" r="1.45"/><circle cx="410.2" cy="306.6" r="1.45"/><circle cx="411.8" cy="310.6" r="1.45"/><circle cx="413.4" cy="307.0" r="1.45"/><circle cx="415.0" cy="306.6" r="1.45"/><circle cx="416.6" cy="307.0" r="1.45"/><circle cx="418.2" cy="305.4" r="1.45"/><circle cx="419.8" cy="303.0" r="1.45"/><circle cx="421.4" cy="306.6" r="1.45"/><circle cx="423.0" cy="299.4" r="1.45"/><circle cx="424.6" cy="302.0" r="1.45"/><circle cx="426.2" cy="300.6" r="1.45"/><circle cx="427.8" cy="296.0" r="1.45"/><circle cx="429.4" cy="304.0" r="1.45"/><circle cx="431.0" cy="299.0" r="1.45"/><circle cx="432.6" cy="300.0" r="1.45"/><circle cx="433.8" cy="300.0" r="1.45"/><circle cx="437.4" cy="303.0" r="1.45"/><circle cx="439.0" cy="304.6" r="1.45"/><circle cx="440.6" cy="303.4" r="1.45"/><circle cx="442.2" cy="304.0" r="1.45"/><circle cx="443.8" cy="301.0" r="1.45"/><circle cx="445.4" cy="300.6" r="1.45"/><circle cx="447.0" cy="302.6" r="1.45"/><circle cx="448.6" cy="300.0" r="1.45"/><circle cx="450.2" cy="305.0" r="1.45"/><circle cx="451.8" cy="307.0" r="1.45"/><circle cx="453.4" cy="308.0" r="1.45"/><circle cx="455.0" cy="299.0" r="1.45"/><circle cx="456.6" cy="300.0" r="1.45"/><circle cx="457.8" cy="298.6" r="1.45"/><circle cx="459.4" cy="303.0" r="1.45"/><circle cx="461.0" cy="304.0" r="1.45"/><circle cx="462.6" cy="302.0" r="1.45"/><circle cx="464.2" cy="305.4" r="1.45"/><circle cx="465.8" cy="308.0" r="1.45"/><circle cx="467.4" cy="293.0" r="1.45"/><circle cx="469.0" cy="302.6" r="1.45"/><circle cx="470.6" cy="299.4" r="1.45"/><circle cx="472.2" cy="303.0" r="1.45"/><circle cx="473.8" cy="300.0" r="1.45"/><circle cx="475.0" cy="307.0" r="1.45"/><circle cx="476.6" cy="300.6" r="1.45"/><circle cx="478.2" cy="296.6" r="1.45"/><circle cx="482.2" cy="304.6" r="1.45"/><circle cx="483.8" cy="307.0" r="1.45"/><circle cx="485.4" cy="310.0" r="1.45"/><circle cx="487.0" cy="309.0" r="1.45"/><circle cx="488.6" cy="305.4" r="1.45"/><circle cx="490.2" cy="303.0" r="1.45"/><circle cx="491.8" cy="308.6" r="1.45"/><circle cx="493.4" cy="302.0" r="1.45"/><circle cx="495.0" cy="308.0" r="1.45"/><circle cx="496.6" cy="299.4" r="1.45"/><circle cx="497.8" cy="295.4" r="1.45"/><circle cx="499.4" cy="307.0" r="1.45"/><circle cx="501.0" cy="305.0" r="1.45"/><circle cx="502.6" cy="304.6" r="1.45"/><circle cx="503.8" cy="301.4" r="1.45"/><circle cx="505.4" cy="314.0" r="1.45"/><circle cx="507.0" cy="314.0" r="1.45"/><circle cx="508.2" cy="314.0" r="1.45"/><circle cx="506.6" cy="307.0" r="1.45"/><circle cx="508.6" cy="306.0" r="1.45"/><circle cx="510.2" cy="301.0" r="1.45"/><circle cx="511.4" cy="305.0" r="1.45"/><circle cx="513.0" cy="293.4" r="1.45"/><circle cx="515.8" cy="307.4" r="1.45"/><circle cx="517.0" cy="305.0" r="1.45"/><circle cx="518.6" cy="304.0" r="1.45"/><circle cx="520.2" cy="301.4" r="1.45"/><circle cx="521.8" cy="300.6" r="1.45"/><circle cx="523.4" cy="300.0" r="1.45"/><circle cx="525.0" cy="306.6" r="1.45"/><circle cx="526.6" cy="300.6" r="1.45"/><circle cx="528.2" cy="298.6" r="1.45"/><circle cx="529.8" cy="299.0" r="1.45"/><circle cx="531.0" cy="297.4" r="1.45"/><circle cx="532.6" cy="303.0" r="1.45"/><circle cx="533.8" cy="298.6" r="1.45"/><circle cx="535.4" cy="294.0" r="1.45"/><circle cx="537.0" cy="300.6" r="1.45"/><circle cx="538.6" cy="295.0" r="1.45"/><circle cx="540.2" cy="302.6" r="1.45"/><circle cx="541.8" cy="298.6" r="1.45"/><circle cx="543.0" cy="300.0" r="1.45"/><circle cx="544.6" cy="304.6" r="1.45"/><circle cx="546.2" cy="312.0" r="1.45"/><circle cx="547.4" cy="302.0" r="1.45"/><circle cx="548.6" cy="309.4" r="1.45"/><circle cx="549.8" cy="313.0" r="1.45"/><circle cx="553.4" cy="298.6" r="1.45"/><circle cx="554.6" cy="301.2" r="1.45"/><circle cx="556.0" cy="309.4" r="1.45"/><circle cx="557.4" cy="306.2" r="1.45"/><circle cx="558.6" cy="304.0" r="1.45"/><circle cx="562.6" cy="297.4" r="1.45"/><circle cx="563.4" cy="299.2" r="1.45"/><circle cx="564.8" cy="304.8" r="1.45"/></g>
<g fill="none" stroke="#23288a" stroke-width="0.6"><circle cx="513.8" cy="317.0" r="1.5"/><circle cx="551.0" cy="289.2" r="1.5"/><circle cx="552.0" cy="280.6" r="1.5"/><circle cx="561.0" cy="280.8" r="1.5"/><circle cx="559.8" cy="315.0" r="1.5"/></g>
<line x1="113.4" x2="113.4" y1="294.6" y2="301.4" stroke="#c63a12" stroke-width="1.05"/><rect x="111.7" y="296.3" width="3.4" height="3.4" rx="0.6" fill="#c63a12"/>
<line x1="118.0" x2="118.0" y1="320.0" y2="326.0" stroke="#c63a12" stroke-width="1.05"/><rect x="116.3" y="321.3" width="3.4" height="3.4" rx="0.6" fill="#c63a12"/>
<line x1="154.6" x2="154.6" y1="301.0" y2="308.2" stroke="#c63a12" stroke-width="1.05"/><rect x="152.9" y="302.9" width="3.4" height="3.4" rx="0.6" fill="#c63a12"/>
<line x1="196.6" x2="196.6" y1="307.0" y2="314.2" stroke="#c63a12" stroke-width="1.05"/><rect x="194.9" y="308.9" width="3.4" height="3.4" rx="0.6" fill="#c63a12"/>
<line x1="227.0" x2="227.0" y1="300.4" y2="302.4" stroke="#c63a12" stroke-width="1.05"/><rect x="225.3" y="299.7" width="3.4" height="3.4" rx="0.6" fill="#c63a12"/>
<line x1="234.6" x2="234.6" y1="289.6" y2="295.6" stroke="#c63a12" stroke-width="1.05"/><rect x="232.9" y="290.9" width="3.4" height="3.4" rx="0.6" fill="#c63a12"/>
<line x1="243.0" x2="243.0" y1="283.0" y2="291.8" stroke="#c63a12" stroke-width="1.05"/><rect x="241.3" y="285.7" width="3.4" height="3.4" rx="0.6" fill="#c63a12"/>
<line x1="257.4" x2="257.4" y1="302.8" y2="307.2" stroke="#c63a12" stroke-width="1.05"/><rect x="255.7" y="303.3" width="3.4" height="3.4" rx="0.6" fill="#c63a12"/>
<line x1="275.4" x2="275.4" y1="299.6" y2="305.6" stroke="#c63a12" stroke-width="1.05"/><rect x="273.7" y="300.9" width="3.4" height="3.4" rx="0.6" fill="#c63a12"/>
<line x1="300.6" x2="300.6" y1="301.2" y2="305.6" stroke="#c63a12" stroke-width="1.05"/><rect x="298.9" y="301.7" width="3.4" height="3.4" rx="0.6" fill="#c63a12"/>
<line x1="329.4" x2="329.4" y1="312.0" y2="314.0" stroke="#c63a12" stroke-width="1.05"/><rect x="327.7" y="311.3" width="3.4" height="3.4" rx="0.6" fill="#c63a12"/>
<line x1="340.0" x2="340.0" y1="295.6" y2="301.6" stroke="#c63a12" stroke-width="1.05"/><rect x="338.3" y="296.9" width="3.4" height="3.4" rx="0.6" fill="#c63a12"/>
<line x1="366.2" x2="366.2" y1="291.4" y2="302.6" stroke="#c63a12" stroke-width="1.05"/><rect x="364.5" y="295.3" width="3.4" height="3.4" rx="0.6" fill="#c63a12"/>
<line x1="385.4" x2="385.4" y1="308.0" y2="316.0" stroke="#c63a12" stroke-width="1.05"/><rect x="383.7" y="310.3" width="3.4" height="3.4" rx="0.6" fill="#c63a12"/>
<line x1="393.6" x2="393.6" y1="293.4" y2="299.4" stroke="#c63a12" stroke-width="1.05"/><rect x="391.9" y="294.7" width="3.4" height="3.4" rx="0.6" fill="#c63a12"/>
<line x1="400.6" x2="400.6" y1="295.6" y2="301.6" stroke="#c63a12" stroke-width="1.05"/><rect x="398.9" y="296.9" width="3.4" height="3.4" rx="0.6" fill="#c63a12"/>
<line x1="403.8" x2="403.8" y1="290.4" y2="294.8" stroke="#c63a12" stroke-width="1.05"/><rect x="402.1" y="290.9" width="3.4" height="3.4" rx="0.6" fill="#c63a12"/>
<line x1="414.2" x2="414.2" y1="291.4" y2="299.4" stroke="#c63a12" stroke-width="1.05"/><rect x="412.5" y="293.7" width="3.4" height="3.4" rx="0.6" fill="#c63a12"/>
<line x1="435.8" x2="435.8" y1="299.2" y2="304.8" stroke="#c63a12" stroke-width="1.05"/><rect x="434.1" y="300.3" width="3.4" height="3.4" rx="0.6" fill="#c63a12"/>
<line x1="480.6" x2="480.6" y1="298.6" y2="304.2" stroke="#c63a12" stroke-width="1.05"/><rect x="478.9" y="299.7" width="3.4" height="3.4" rx="0.6" fill="#c63a12"/>
<line x1="548.6" x2="548.6" y1="311.4" y2="322.6" stroke="#c63a12" stroke-width="1.05"/><rect x="546.9" y="315.3" width="3.4" height="3.4" rx="0.6" fill="#c63a12"/>
</g>
<rect x="55.7" y="277.46" width="520.9" height="51.5" fill="none" stroke="#6a6a6a" stroke-width="1"/>
<path d="M55.70 328.91v2.5M119.19 328.91v2.5M182.68 328.91v2.5M246.16 328.91v2.5M309.65 328.91v2.5M373.14 328.91v2.5M436.62 328.91v2.5M500.11 328.91v2.5M563.60 328.91v2.5M55.7 326.76h-2.5M576.6 326.76h2.5M55.7 303.16h-2.5M576.6 303.16h2.5M55.7 279.56h-2.5M576.6 279.56h2.5" stroke="#6a6a6a" stroke-width="1" fill="none"/>
<text x="51.0" y="330.0" font-size="8.75" text-anchor="end">−0.005</text>
<text x="580.3" y="330.0" font-size="8.75">-250.0</text>
<text x="51.0" y="306.4" font-size="8.75" text-anchor="end">0.000</text>
<text x="580.3" y="306.4" font-size="8.75">0.0</text>
<text x="51.0" y="282.8" font-size="8.75" text-anchor="end">0.005</text>
<text x="580.3" y="282.8" font-size="8.75">250.0</text>
<text x="66.1" y="287.3" font-size="7.56" xml:space="preserve">rms<tspan font-size="5.40" dy="1.7" dx="0.5" stroke-width="0.05">AstCom</tspan><tspan dy="-1.7" dx="-1.1"> = 0.00078 Å,  rms</tspan><tspan font-size="5.40" dy="1.7" dx="0.5" stroke-width="0.05">ThAr</tspan><tspan dy="-1.7" dx="-1.5"> = 0.00181 Å</tspan></text>
<text x="555.2" y="287.0" font-size="7.7" font-weight="bold" text-anchor="end">uncorrected</text>
<text x="55.7" y="272.7" font-size="10.4" font-weight="bold">order 102</text>
</g>
<g>
<clipPath id="c5"><rect x="55.7" y="332.71" width="520.9" height="51.2"/></clipPath>
<g clip-path="url(#c5)">
<line x1="55.7" x2="576.6" y1="351.85" y2="351.85" stroke="#47961a" stroke-width="0.9" stroke-dasharray="3.1 2" stroke-dashoffset="0"/>
<line x1="55.7" x2="576.6" y1="364.87" y2="364.87" stroke="#47961a" stroke-width="0.9" stroke-dasharray="3.1 2" stroke-dashoffset="0"/>
<g fill="#47961a"><circle cx="68.6" cy="360.4" r="1.45"/><circle cx="70.2" cy="357.0" r="1.45"/><circle cx="71.8" cy="355.6" r="1.45"/><circle cx="73.4" cy="357.0" r="1.45"/><circle cx="75.0" cy="358.0" r="1.45"/><circle cx="76.6" cy="359.0" r="1.45"/><circle cx="78.2" cy="357.0" r="1.45"/><circle cx="79.8" cy="356.4" r="1.45"/><circle cx="81.4" cy="362.0" r="1.45"/><circle cx="83.0" cy="356.0" r="1.45"/><circle cx="84.6" cy="356.4" r="1.45"/><circle cx="86.2" cy="357.0" r="1.45"/><circle cx="87.8" cy="356.0" r="1.45"/><circle cx="89.8" cy="360.4" r="1.45"/><circle cx="91.4" cy="355.6" r="1.45"/><circle cx="93.0" cy="359.6" r="1.45"/><circle cx="94.6" cy="355.6" r="1.45"/><circle cx="96.2" cy="357.0" r="1.45"/><circle cx="97.8" cy="358.4" r="1.45"/><circle cx="99.4" cy="361.6" r="1.45"/><circle cx="101.0" cy="355.0" r="1.45"/><circle cx="102.6" cy="354.0" r="1.45"/><circle cx="104.2" cy="357.0" r="1.45"/><circle cx="105.8" cy="358.4" r="1.45"/><circle cx="107.0" cy="360.0" r="1.45"/><circle cx="108.6" cy="359.6" r="1.45"/><circle cx="110.2" cy="356.0" r="1.45"/><circle cx="111.8" cy="359.6" r="1.45"/><circle cx="113.4" cy="360.4" r="1.45"/><circle cx="115.0" cy="360.0" r="1.45"/><circle cx="116.6" cy="355.0" r="1.45"/><circle cx="118.2" cy="360.0" r="1.45"/><circle cx="119.8" cy="361.6" r="1.45"/><circle cx="121.0" cy="361.0" r="1.45"/><circle cx="122.6" cy="363.0" r="1.45"/><circle cx="124.2" cy="359.6" r="1.45"/><circle cx="125.8" cy="358.4" r="1.45"/><circle cx="127.4" cy="358.0" r="1.45"/><circle cx="129.0" cy="357.6" r="1.45"/><circle cx="130.6" cy="357.0" r="1.45"/><circle cx="132.2" cy="358.0" r="1.45"/><circle cx="133.8" cy="358.4" r="1.45"/><circle cx="135.4" cy="359.0" r="1.45"/><circle cx="137.0" cy="361.6" r="1.45"/><circle cx="138.6" cy="359.0" r="1.45"/><circle cx="140.2" cy="357.6" r="1.45"/><circle cx="141.8" cy="359.0" r="1.45"/><circle cx="143.4" cy="360.0" r="1.45"/><circle cx="145.0" cy="359.0" r="1.45"/><circle cx="146.6" cy="359.6" r="1.45"/><circle cx="148.2" cy="360.0" r="1.45"/><circle cx="149.8" cy="355.6" r="1.45"/><circle cx="151.4" cy="356.0" r="1.45"/><circle cx="153.0" cy="357.0" r="1.45"/><circle cx="156.2" cy="359.6" r="1.45"/><circle cx="157.8" cy="359.0" r="1.45"/><circle cx="159.4" cy="358.0" r="1.45"/><circle cx="161.0" cy="356.0" r="1.45"/><circle cx="162.6" cy="357.6" r="1.45"/><circle cx="164.2" cy="355.6" r="1.45"/><circle cx="165.8" cy="354.4" r="1.45"/><circle cx="167.4" cy="355.6" r="1.45"/><circle cx="169.0" cy="356.4" r="1.45"/><circle cx="170.6" cy="357.0" r="1.45"/><circle cx="172.2" cy="357.6" r="1.45"/><circle cx="173.8" cy="358.4" r="1.45"/><circle cx="175.4" cy="358.0" r="1.45"/><circle cx="177.0" cy="357.6" r="1.45"/><circle cx="178.6" cy="358.0" r="1.45"/><circle cx="180.2" cy="358.4" r="1.45"/><circle cx="181.8" cy="359.6" r="1.45"/><circle cx="183.4" cy="359.0" r="1.45"/><circle cx="185.0" cy="358.4" r="1.45"/><circle cx="186.6" cy="358.0" r="1.45"/><circle cx="188.2" cy="357.6" r="1.45"/><circle cx="189.8" cy="357.0" r="1.45"/><circle cx="191.4" cy="358.0" r="1.45"/><circle cx="193.0" cy="358.4" r="1.45"/><circle cx="194.6" cy="360.0" r="1.45"/><circle cx="196.2" cy="357.6" r="1.45"/><circle cx="197.8" cy="359.0" r="1.45"/><circle cx="199.4" cy="360.0" r="1.45"/><circle cx="201.0" cy="355.6" r="1.45"/><circle cx="202.6" cy="358.0" r="1.45"/><circle cx="204.2" cy="358.4" r="1.45"/><circle cx="205.8" cy="359.6" r="1.45"/><circle cx="207.4" cy="359.6" r="1.45"/><circle cx="209.0" cy="360.4" r="1.45"/><circle cx="210.6" cy="360.0" r="1.45"/><circle cx="212.2" cy="361.0" r="1.45"/><circle cx="213.8" cy="359.6" r="1.45"/><circle cx="215.4" cy="358.0" r="1.45"/><circle cx="217.0" cy="357.6" r="1.45"/><circle cx="218.6" cy="359.0" r="1.45"/><circle cx="220.2" cy="356.0" r="1.45"/><circle cx="221.8" cy="352.4" r="1.45"/><circle cx="223.4" cy="354.4" r="1.45"/><circle cx="225.0" cy="357.0" r="1.45"/><circle cx="229.0" cy="351.6" r="1.45"/><circle cx="230.6" cy="358.4" r="1.45"/><circle cx="232.2" cy="359.6" r="1.45"/><circle cx="233.8" cy="358.4" r="1.45"/><circle cx="235.4" cy="358.0" r="1.45"/><circle cx="237.0" cy="360.0" r="1.45"/><circle cx="238.6" cy="359.0" r="1.45"/><circle cx="240.2" cy="359.6" r="1.45"/><circle cx="241.8" cy="359.0" r="1.45"/><circle cx="243.4" cy="357.6" r="1.45"/><circle cx="245.0" cy="356.0" r="1.45"/><circle cx="246.6" cy="357.6" r="1.45"/><circle cx="248.2" cy="358.0" r="1.45"/><circle cx="249.8" cy="358.4" r="1.45"/><circle cx="251.4" cy="357.6" r="1.45"/><circle cx="253.0" cy="357.0" r="1.45"/><circle cx="254.6" cy="359.0" r="1.45"/><circle cx="259.4" cy="360.0" r="1.45"/><circle cx="261.0" cy="361.6" r="1.45"/><circle cx="262.6" cy="359.6" r="1.45"/><circle cx="264.2" cy="358.0" r="1.45"/><circle cx="265.8" cy="357.0" r="1.45"/><circle cx="267.4" cy="355.0" r="1.45"/><circle cx="269.0" cy="358.0" r="1.45"/><circle cx="270.6" cy="359.6" r="1.45"/><circle cx="272.2" cy="358.4" r="1.45"/><circle cx="273.8" cy="358.0" r="1.45"/><circle cx="277.0" cy="358.0" r="1.45"/><circle cx="278.6" cy="359.6" r="1.45"/><circle cx="280.2" cy="360.4" r="1.45"/><circle cx="282.2" cy="356.0" r="1.45"/><circle cx="283.8" cy="357.6" r="1.45"/><circle cx="285.4" cy="359.0" r="1.45"/><circle cx="287.0" cy="359.6" r="1.45"/><circle cx="288.6" cy="358.0" r="1.45"/><circle cx="290.2" cy="357.0" r="1.45"/><circle cx="291.8" cy="356.4" r="1.45"/><circle cx="293.4" cy="355.6" r="1.45"/><circle cx="295.0" cy="356.0" r="1.45"/><circle cx="297.0" cy="358.0" r="1.45"/><circle cx="298.6" cy="359.6" r="1.45"/><circle cx="302.2" cy="358.0" r="1.45"/><circle cx="303.8" cy="359.0" r="1.45"/><circle cx="304.6" cy="362.0" r="1.45"/><circle cx="306.2" cy="360.4" r="1.45"/><circle cx="307.8" cy="360.0" r="1.45"/><circle cx="309.4" cy="360.4" r="1.45"/><circle cx="311.0" cy="359.6" r="1.45"/><circle cx="312.6" cy="358.4" r="1.45"/><circle cx="314.2" cy="358.0" r="1.45"/><circle cx="315.8" cy="357.0" r="1.45"/><circle cx="317.4" cy="356.0" r="1.45"/><circle cx="319.0" cy="361.6" r="1.45"/><circle cx="320.6" cy="361.0" r="1.45"/><circle cx="322.2" cy="363.0" r="1.45"/><circle cx="323.8" cy="360.4" r="1.45"/><circle cx="325.4" cy="361.6" r="1.45"/><circle cx="327.0" cy="360.0" r="1.45"/><circle cx="328.6" cy="358.4" r="1.45"/><circle cx="330.2" cy="357.6" r="1.45"/><circle cx="331.8" cy="357.0" r="1.45"/><circle cx="333.4" cy="357.0" r="1.45"/><circle cx="335.0" cy="358.0" r="1.45"/><circle cx="336.6" cy="357.6" r="1.45"/><circle cx="338.2" cy="357.0" r="1.45"/><circle cx="339.8" cy="358.0" r="1.45"/><circle cx="341.4" cy="358.4" r="1.45"/><circle cx="343.0" cy="357.0" r="1.45"/><circle cx="344.6" cy="356.4" r="1.45"/><circle cx="346.2" cy="356.0" r="1.45"/><circle cx="347.8" cy="356.0" r="1.45"/><circle cx="349.4" cy="358.4" r="1.45"/><circle cx="351.0" cy="355.6" r="1.45"/><circle cx="352.6" cy="361.0" r="1.45"/><circle cx="354.2" cy="359.6" r="1.45"/><circle cx="355.8" cy="356.4" r="1.45"/><circle cx="357.4" cy="356.0" r="1.45"/><circle cx="359.0" cy="356.4" r="1.45"/><circle cx="360.6" cy="357.6" r="1.45"/><circle cx="362.2" cy="357.0" r="1.45"/><circle cx="363.8" cy="356.0" r="1.45"/><circle cx="365.4" cy="357.0" r="1.45"/><circle cx="367.8" cy="359.6" r="1.45"/><circle cx="369.4" cy="361.0" r="1.45"/><circle cx="371.0" cy="360.0" r="1.45"/><circle cx="372.6" cy="358.4" r="1.45"/><circle cx="374.2" cy="357.0" r="1.45"/><circle cx="375.8" cy="356.4" r="1.45"/><circle cx="377.4" cy="356.0" r="1.45"/><circle cx="379.0" cy="355.0" r="1.45"/><circle cx="380.6" cy="361.6" r="1.45"/><circle cx="381.8" cy="362.4" r="1.45"/><circle cx="383.4" cy="360.0" r="1.45"/><circle cx="385.0" cy="359.0" r="1.45"/><circle cx="386.6" cy="357.6" r="1.45"/><circle cx="388.2" cy="361.0" r="1.45"/><circle cx="389.8" cy="356.4" r="1.45"/><circle cx="391.4" cy="356.0" r="1.45"/><circle cx="393.0" cy="356.4" r="1.45"/><circle cx="394.6" cy="354.0" r="1.45"/><circle cx="396.2" cy="352.4" r="1.45"/><circle cx="397.8" cy="359.6" r="1.45"/><circle cx="399.4" cy="358.0" r="1.45"/><circle cx="402.2" cy="356.4" r="1.45"/><circle cx="403.8" cy="357.0" r="1.45"/><circle cx="405.4" cy="357.6" r="1.45"/><circle cx="407.0" cy="358.4" r="1.45"/><circle cx="408.6" cy="362.0" r="1.45"/><circle cx="410.2" cy="361.0" r="1.45"/><circle cx="411.8" cy="359.6" r="1.45"/><circle cx="413.4" cy="360.0" r="1.45"/><circle cx="415.0" cy="360.4" r="1.45"/><circle cx="416.6" cy="361.0" r="1.45"/><circle cx="418.2" cy="357.6" r="1.45"/><circle cx="419.8" cy="359.6" r="1.45"/><circle cx="421.4" cy="358.4" r="1.45"/><circle cx="423.0" cy="356.4" r="1.45"/><circle cx="424.6" cy="358.0" r="1.45"/><circle cx="426.2" cy="357.0" r="1.45"/><circle cx="427.8" cy="355.6" r="1.45"/><circle cx="429.4" cy="357.6" r="1.45"/><circle cx="431.0" cy="356.0" r="1.45"/><circle cx="432.6" cy="356.4" r="1.45"/><circle cx="433.8" cy="355.6" r="1.45"/><circle cx="437.4" cy="353.6" r="1.45"/><circle cx="439.0" cy="355.0" r="1.45"/><circle cx="440.6" cy="358.0" r="1.45"/><circle cx="442.2" cy="357.0" r="1.45"/><circle cx="443.8" cy="356.0" r="1.45"/><circle cx="445.4" cy="361.6" r="1.45"/><circle cx="447.0" cy="359.6" r="1.45"/><circle cx="448.6" cy="358.0" r="1.45"/><circle cx="450.2" cy="353.0" r="1.45"/><circle cx="451.8" cy="355.0" r="1.45"/><circle cx="453.4" cy="355.6" r="1.45"/><circle cx="455.0" cy="358.0" r="1.45"/><circle cx="456.6" cy="359.6" r="1.45"/><circle cx="457.8" cy="357.0" r="1.45"/><circle cx="459.4" cy="361.0" r="1.45"/><circle cx="461.0" cy="358.0" r="1.45"/><circle cx="462.6" cy="356.0" r="1.45"/><circle cx="464.2" cy="360.4" r="1.45"/><circle cx="465.8" cy="355.6" r="1.45"/><circle cx="467.4" cy="354.0" r="1.45"/><circle cx="469.0" cy="360.4" r="1.45"/><circle cx="470.6" cy="356.4" r="1.45"/><circle cx="472.2" cy="351.6" r="1.45"/><circle cx="473.8" cy="357.0" r="1.45"/><circle cx="475.0" cy="362.0" r="1.45"/><circle cx="476.6" cy="353.0" r="1.45"/><circle cx="478.2" cy="360.0" r="1.45"/><circle cx="482.2" cy="361.6" r="1.45"/><circle cx="483.8" cy="359.6" r="1.45"/><circle cx="485.4" cy="358.0" r="1.45"/><circle cx="487.0" cy="362.0" r="1.45"/><circle cx="488.6" cy="361.6" r="1.45"/><circle cx="490.2" cy="361.0" r="1.45"/><circle cx="491.8" cy="361.0" r="1.45"/><circle cx="493.4" cy="360.4" r="1.45"/><circle cx="495.0" cy="360.0" r="1.45"/><circle cx="496.6" cy="358.4" r="1.45"/><circle cx="497.8" cy="361.0" r="1.45"/><circle cx="498.6" cy="365.0" r="1.45"/><circle cx="499.8" cy="354.0" r="1.45"/><circle cx="501.0" cy="357.6" r="1.45"/><circle cx="502.6" cy="360.0" r="1.45"/><circle cx="503.8" cy="358.4" r="1.45"/><circle cx="505.4" cy="355.6" r="1.45"/><circle cx="507.0" cy="361.0" r="1.45"/><circle cx="508.2" cy="361.0" r="1.45"/><circle cx="510.2" cy="356.4" r="1.45"/><circle cx="511.4" cy="361.0" r="1.45"/><circle cx="513.0" cy="351.6" r="1.45"/><circle cx="515.8" cy="359.6" r="1.45"/><circle cx="517.0" cy="361.6" r="1.45"/><circle cx="518.6" cy="358.0" r="1.45"/><circle cx="520.2" cy="356.0" r="1.45"/><circle cx="521.8" cy="355.0" r="1.45"/><circle cx="523.4" cy="363.0" r="1.45"/><circle cx="525.0" cy="361.6" r="1.45"/><circle cx="526.6" cy="359.0" r="1.45"/><circle cx="528.2" cy="356.0" r="1.45"/><circle cx="529.8" cy="355.0" r="1.45"/><circle cx="531.0" cy="356.0" r="1.45"/><circle cx="532.6" cy="360.0" r="1.45"/><circle cx="533.8" cy="354.4" r="1.45"/><circle cx="535.4" cy="355.6" r="1.45"/><circle cx="537.0" cy="359.0" r="1.45"/><circle cx="538.6" cy="360.0" r="1.45"/><circle cx="540.2" cy="359.6" r="1.45"/><circle cx="541.8" cy="355.0" r="1.45"/><circle cx="543.0" cy="353.6" r="1.45"/><circle cx="544.6" cy="359.0" r="1.45"/><circle cx="547.0" cy="356.4" r="1.45"/><circle cx="548.6" cy="362.0" r="1.45"/><circle cx="553.4" cy="356.0" r="1.45"/><circle cx="554.6" cy="357.2" r="1.45"/><circle cx="558.6" cy="356.8" r="1.45"/><circle cx="557.2" cy="360.0" r="1.45"/><circle cx="556.0" cy="364.4" r="1.45"/><circle cx="562.0" cy="354.4" r="1.45"/><circle cx="563.8" cy="354.8" r="1.45"/><circle cx="564.8" cy="359.8" r="1.45"/></g>
<g fill="none" stroke="#47961a" stroke-width="0.6"><circle cx="67.4" cy="350.0" r="1.5"/><circle cx="488.2" cy="350.6" r="1.5"/><circle cx="493.4" cy="349.0" r="1.5"/><circle cx="505.0" cy="369.0" r="1.5"/><circle cx="507.8" cy="367.6" r="1.5"/><circle cx="513.0" cy="350.4" r="1.5"/><circle cx="513.8" cy="372.0" r="1.5"/><circle cx="534.8" cy="350.8" r="1.5"/><circle cx="538.2" cy="350.8" r="1.5"/><circle cx="546.0" cy="365.2" r="1.5"/><circle cx="549.8" cy="365.6" r="1.5"/><circle cx="551.0" cy="342.2" r="1.5"/><circle cx="552.0" cy="336.0" r="1.5"/><circle cx="561.0" cy="335.8" r="1.5"/><circle cx="559.8" cy="367.6" r="1.5"/></g>
<line x1="113.4" x2="113.4" y1="350.0" y2="356.8" stroke="#c63a12" stroke-width="1.05"/><rect x="111.7" y="351.7" width="3.4" height="3.4" rx="0.6" fill="#c63a12"/>
<line x1="118.0" x2="118.0" y1="375.0" y2="381.0" stroke="#c63a12" stroke-width="1.05"/><rect x="116.3" y="376.3" width="3.4" height="3.4" rx="0.6" fill="#c63a12"/>
<line x1="154.6" x2="154.6" y1="356.4" y2="363.6" stroke="#c63a12" stroke-width="1.05"/><rect x="152.9" y="358.3" width="3.4" height="3.4" rx="0.6" fill="#c63a12"/>
<line x1="196.6" x2="196.6" y1="362.4" y2="369.6" stroke="#c63a12" stroke-width="1.05"/><rect x="194.9" y="364.3" width="3.4" height="3.4" rx="0.6" fill="#c63a12"/>
<line x1="227.0" x2="227.0" y1="355.6" y2="357.6" stroke="#c63a12" stroke-width="1.05"/><rect x="225.3" y="354.9" width="3.4" height="3.4" rx="0.6" fill="#c63a12"/>
<line x1="234.6" x2="234.6" y1="344.6" y2="350.6" stroke="#c63a12" stroke-width="1.05"/><rect x="232.9" y="345.9" width="3.4" height="3.4" rx="0.6" fill="#c63a12"/>
<line x1="243.0" x2="243.0" y1="338.0" y2="346.8" stroke="#c63a12" stroke-width="1.05"/><rect x="241.3" y="340.7" width="3.4" height="3.4" rx="0.6" fill="#c63a12"/>
<line x1="257.4" x2="257.4" y1="357.8" y2="362.2" stroke="#c63a12" stroke-width="1.05"/><rect x="255.7" y="358.3" width="3.4" height="3.4" rx="0.6" fill="#c63a12"/>
<line x1="275.4" x2="275.4" y1="354.6" y2="360.6" stroke="#c63a12" stroke-width="1.05"/><rect x="273.7" y="355.9" width="3.4" height="3.4" rx="0.6" fill="#c63a12"/>
<line x1="300.6" x2="300.6" y1="355.8" y2="360.2" stroke="#c63a12" stroke-width="1.05"/><rect x="298.9" y="356.3" width="3.4" height="3.4" rx="0.6" fill="#c63a12"/>
<line x1="329.4" x2="329.4" y1="366.4" y2="368.4" stroke="#c63a12" stroke-width="1.05"/><rect x="327.7" y="365.7" width="3.4" height="3.4" rx="0.6" fill="#c63a12"/>
<line x1="340.0" x2="340.0" y1="349.2" y2="356.0" stroke="#c63a12" stroke-width="1.05"/><rect x="338.3" y="350.9" width="3.4" height="3.4" rx="0.6" fill="#c63a12"/>
<line x1="366.2" x2="366.2" y1="345.4" y2="356.6" stroke="#c63a12" stroke-width="1.05"/><rect x="364.5" y="349.3" width="3.4" height="3.4" rx="0.6" fill="#c63a12"/>
<line x1="385.4" x2="385.4" y1="362.8" y2="370.0" stroke="#c63a12" stroke-width="1.05"/><rect x="383.7" y="364.7" width="3.4" height="3.4" rx="0.6" fill="#c63a12"/>
<line x1="393.6" x2="393.6" y1="347.0" y2="353.8" stroke="#c63a12" stroke-width="1.05"/><rect x="391.9" y="348.7" width="3.4" height="3.4" rx="0.6" fill="#c63a12"/>
<line x1="400.6" x2="400.6" y1="349.8" y2="355.4" stroke="#c63a12" stroke-width="1.05"/><rect x="398.9" y="350.9" width="3.4" height="3.4" rx="0.6" fill="#c63a12"/>
<line x1="403.8" x2="403.8" y1="344.8" y2="349.2" stroke="#c63a12" stroke-width="1.05"/><rect x="402.1" y="345.3" width="3.4" height="3.4" rx="0.6" fill="#c63a12"/>
<line x1="414.2" x2="414.2" y1="346.4" y2="353.6" stroke="#c63a12" stroke-width="1.05"/><rect x="412.5" y="348.3" width="3.4" height="3.4" rx="0.6" fill="#c63a12"/>
<line x1="435.8" x2="435.8" y1="354.2" y2="359.8" stroke="#c63a12" stroke-width="1.05"/><rect x="434.1" y="355.3" width="3.4" height="3.4" rx="0.6" fill="#c63a12"/>
<line x1="480.6" x2="480.6" y1="353.6" y2="359.2" stroke="#c63a12" stroke-width="1.05"/><rect x="478.9" y="354.7" width="3.4" height="3.4" rx="0.6" fill="#c63a12"/>
<line x1="548.6" x2="548.6" y1="366.4" y2="377.6" stroke="#c63a12" stroke-width="1.05"/><rect x="546.9" y="370.3" width="3.4" height="3.4" rx="0.6" fill="#c63a12"/>
</g>
<rect x="55.7" y="332.71" width="520.9" height="51.2" fill="none" stroke="#6a6a6a" stroke-width="1"/>
<path d="M55.70 383.96v2.5M119.19 383.96v2.5M182.68 383.96v2.5M246.16 383.96v2.5M309.65 383.96v2.5M373.14 383.96v2.5M436.62 383.96v2.5M500.11 383.96v2.5M563.60 383.96v2.5M55.7 381.96h-2.5M576.6 381.96h2.5M55.7 358.36h-2.5M576.6 358.36h2.5M55.7 334.76h-2.5M576.6 334.76h2.5" stroke="#6a6a6a" stroke-width="1" fill="none"/>
<text x="51.0" y="385.2" font-size="8.75" text-anchor="end">−0.005</text>
<text x="580.3" y="385.2" font-size="8.75">-250.0</text>
<text x="51.0" y="361.6" font-size="8.75" text-anchor="end">0.000</text>
<text x="580.3" y="361.6" font-size="8.75">0.0</text>
<text x="51.0" y="338.0" font-size="8.75" text-anchor="end">0.005</text>
<text x="580.3" y="338.0" font-size="8.75">250.0</text>
<text x="66.1" y="342.5" font-size="7.56" xml:space="preserve">rms<tspan font-size="5.40" dy="1.7" dx="0.5" stroke-width="0.05">AstCom</tspan><tspan dy="-1.7" dx="-1.1"> = 0.00046 Å,  rms</tspan><tspan font-size="5.40" dy="1.7" dx="0.5" stroke-width="0.05">ThAr</tspan><tspan dy="-1.7" dx="-1.5"> = 0.00184 Å</tspan></text>
<text x="555.2" y="342.2" font-size="7.7" font-weight="bold" text-anchor="end">corrected</text>
</g>
<g>
<clipPath id="c6"><rect x="55.7" y="409.74" width="520.9" height="51.4"/></clipPath>
<g clip-path="url(#c6)">
<line x1="55.7" x2="576.6" y1="424.50" y2="424.50" stroke="#23288a" stroke-width="0.9" stroke-dasharray="3.1 2" stroke-dashoffset="0"/>
<line x1="55.7" x2="576.6" y1="446.38" y2="446.38" stroke="#23288a" stroke-width="0.9" stroke-dasharray="3.1 2" stroke-dashoffset="0"/>
<g fill="#23288a"><circle cx="67.4" cy="437.0" r="1.45"/><circle cx="69.0" cy="438.0" r="1.45"/><circle cx="70.6" cy="437.0" r="1.45"/><circle cx="72.2" cy="433.0" r="1.45"/><circle cx="73.8" cy="430.6" r="1.45"/><circle cx="75.4" cy="436.0" r="1.45"/><circle cx="77.0" cy="432.6" r="1.45"/><circle cx="78.6" cy="434.6" r="1.45"/><circle cx="80.2" cy="436.6" r="1.45"/><circle cx="81.8" cy="438.0" r="1.45"/><circle cx="83.8" cy="429.4" r="1.45"/><circle cx="85.4" cy="430.6" r="1.45"/><circle cx="87.0" cy="436.0" r="1.45"/><circle cx="88.6" cy="433.4" r="1.45"/><circle cx="90.2" cy="437.0" r="1.45"/><circle cx="91.8" cy="444.0" r="1.45"/><circle cx="93.4" cy="438.0" r="1.45"/><circle cx="95.0" cy="432.6" r="1.45"/><circle cx="96.6" cy="440.6" r="1.45"/><circle cx="98.2" cy="440.0" r="1.45"/><circle cx="100.2" cy="432.6" r="1.45"/><circle cx="101.8" cy="431.4" r="1.45"/><circle cx="103.4" cy="433.0" r="1.45"/><circle cx="105.0" cy="441.4" r="1.45"/><circle cx="106.6" cy="438.0" r="1.45"/><circle cx="108.2" cy="434.0" r="1.45"/><circle cx="109.8" cy="432.6" r="1.45"/><circle cx="111.4" cy="434.0" r="1.45"/><circle cx="113.0" cy="439.4" r="1.45"/><circle cx="114.6" cy="434.6" r="1.45"/><circle cx="116.2" cy="436.0" r="1.45"/><circle cx="117.8" cy="430.0" r="1.45"/><circle cx="119.4" cy="434.0" r="1.45"/><circle cx="121.0" cy="435.0" r="1.45"/><circle cx="122.6" cy="436.0" r="1.45"/><circle cx="124.2" cy="432.6" r="1.45"/><circle cx="125.8" cy="434.0" r="1.45"/><circle cx="127.4" cy="436.6" r="1.45"/><circle cx="129.0" cy="435.0" r="1.45"/><circle cx="130.6" cy="437.4" r="1.45"/><circle cx="132.2" cy="439.0" r="1.45"/><circle cx="133.8" cy="437.0" r="1.45"/><circle cx="135.4" cy="431.0" r="1.45"/><circle cx="137.0" cy="433.4" r="1.45"/><circle cx="138.6" cy="434.6" r="1.45"/><circle cx="140.2" cy="436.6" r="1.45"/><circle cx="141.8" cy="439.4" r="1.45"/><circle cx="143.4" cy="433.0" r="1.45"/><circle cx="145.0" cy="436.0" r="1.45"/><circle cx="146.6" cy="439.0" r="1.45"/><circle cx="148.2" cy="435.0" r="1.45"/><circle cx="149.4" cy="432.0" r="1.45"/><circle cx="151.0" cy="436.6" r="1.45"/><circle cx="152.6" cy="440.6" r="1.45"/><circle cx="154.2" cy="434.0" r="1.45"/><circle cx="155.4" cy="431.4" r="1.45"/><circle cx="157.0" cy="436.0" r="1.45"/><circle cx="158.6" cy="440.0" r="1.45"/><circle cx="160.2" cy="435.0" r="1.45"/><circle cx="161.8" cy="433.4" r="1.45"/><circle cx="163.4" cy="431.4" r="1.45"/><circle cx="165.0" cy="430.6" r="1.45"/><circle cx="166.6" cy="432.0" r="1.45"/><circle cx="168.2" cy="437.4" r="1.45"/><circle cx="173.0" cy="438.6" r="1.45"/><circle cx="174.6" cy="436.6" r="1.45"/><circle cx="176.2" cy="437.4" r="1.45"/><circle cx="177.8" cy="436.6" r="1.45"/><circle cx="179.4" cy="435.4" r="1.45"/><circle cx="180.6" cy="434.6" r="1.45"/><circle cx="181.8" cy="437.0" r="1.45"/><circle cx="183.4" cy="438.0" r="1.45"/><circle cx="185.0" cy="438.6" r="1.45"/><circle cx="186.6" cy="438.6" r="1.45"/><circle cx="188.2" cy="438.0" r="1.45"/><circle cx="189.8" cy="437.4" r="1.45"/><circle cx="191.4" cy="435.0" r="1.45"/><circle cx="192.6" cy="434.0" r="1.45"/><circle cx="193.8" cy="428.0" r="1.45"/><circle cx="195.4" cy="430.0" r="1.45"/><circle cx="197.0" cy="435.0" r="1.45"/><circle cx="198.6" cy="436.6" r="1.45"/><circle cx="200.2" cy="438.0" r="1.45"/><circle cx="201.4" cy="439.0" r="1.45"/><circle cx="203.0" cy="434.0" r="1.45"/><circle cx="204.6" cy="431.4" r="1.45"/><circle cx="208.6" cy="429.4" r="1.45"/><circle cx="210.2" cy="431.4" r="1.45"/><circle cx="211.4" cy="435.0" r="1.45"/><circle cx="213.0" cy="438.0" r="1.45"/><circle cx="214.6" cy="436.0" r="1.45"/><circle cx="216.2" cy="435.0" r="1.45"/><circle cx="217.8" cy="435.4" r="1.45"/><circle cx="219.4" cy="431.0" r="1.45"/><circle cx="221.0" cy="433.0" r="1.45"/><circle cx="222.6" cy="434.6" r="1.45"/><circle cx="224.2" cy="430.6" r="1.45"/><circle cx="225.8" cy="437.0" r="1.45"/><circle cx="227.4" cy="434.6" r="1.45"/><circle cx="229.0" cy="432.0" r="1.45"/><circle cx="230.6" cy="433.0" r="1.45"/><circle cx="232.2" cy="431.0" r="1.45"/><circle cx="233.8" cy="432.0" r="1.45"/><circle cx="235.4" cy="433.4" r="1.45"/><circle cx="237.0" cy="435.0" r="1.45"/><circle cx="238.6" cy="436.0" r="1.45"/><circle cx="240.2" cy="437.0" r="1.45"/><circle cx="241.8" cy="438.0" r="1.45"/><circle cx="243.4" cy="438.0" r="1.45"/><circle cx="245.8" cy="430.0" r="1.45"/><circle cx="247.4" cy="433.0" r="1.45"/><circle cx="249.0" cy="434.6" r="1.45"/><circle cx="250.6" cy="436.0" r="1.45"/><circle cx="252.2" cy="437.0" r="1.45"/><circle cx="253.8" cy="439.0" r="1.45"/><circle cx="255.4" cy="434.6" r="1.45"/><circle cx="257.0" cy="437.4" r="1.45"/><circle cx="258.6" cy="436.6" r="1.45"/><circle cx="260.2" cy="433.0" r="1.45"/><circle cx="261.8" cy="435.0" r="1.45"/><circle cx="263.0" cy="438.6" r="1.45"/><circle cx="264.6" cy="432.6" r="1.45"/><circle cx="266.2" cy="436.0" r="1.45"/><circle cx="267.4" cy="438.0" r="1.45"/><circle cx="269.0" cy="432.6" r="1.45"/><circle cx="270.6" cy="435.4" r="1.45"/><circle cx="272.2" cy="439.0" r="1.45"/><circle cx="273.8" cy="434.6" r="1.45"/><circle cx="275.4" cy="427.4" r="1.45"/><circle cx="277.0" cy="433.0" r="1.45"/><circle cx="278.6" cy="437.4" r="1.45"/><circle cx="280.2" cy="434.6" r="1.45"/><circle cx="281.8" cy="430.6" r="1.45"/><circle cx="283.4" cy="436.0" r="1.45"/><circle cx="284.6" cy="442.0" r="1.45"/><circle cx="286.2" cy="437.4" r="1.45"/><circle cx="287.8" cy="436.6" r="1.45"/><circle cx="289.4" cy="434.0" r="1.45"/><circle cx="291.0" cy="432.6" r="1.45"/><circle cx="292.6" cy="432.0" r="1.45"/><circle cx="294.2" cy="428.6" r="1.45"/><circle cx="295.8" cy="435.4" r="1.45"/><circle cx="297.4" cy="441.4" r="1.45"/><circle cx="299.0" cy="440.0" r="1.45"/><circle cx="300.6" cy="439.0" r="1.45"/><circle cx="302.2" cy="439.4" r="1.45"/><circle cx="308.2" cy="437.4" r="1.45"/><circle cx="309.8" cy="439.4" r="1.45"/><circle cx="311.4" cy="440.0" r="1.45"/><circle cx="313.0" cy="439.4" r="1.45"/><circle cx="314.6" cy="438.6" r="1.45"/><circle cx="316.2" cy="436.6" r="1.45"/><circle cx="317.8" cy="432.0" r="1.45"/><circle cx="319.4" cy="430.6" r="1.45"/><circle cx="321.0" cy="432.6" r="1.45"/><circle cx="325.0" cy="436.6" r="1.45"/><circle cx="326.6" cy="439.0" r="1.45"/><circle cx="328.2" cy="440.6" r="1.45"/><circle cx="330.6" cy="432.0" r="1.45"/><circle cx="332.2" cy="436.6" r="1.45"/><circle cx="333.8" cy="437.4" r="1.45"/><circle cx="335.4" cy="434.6" r="1.45"/><circle cx="337.0" cy="430.6" r="1.45"/><circle cx="338.6" cy="436.0" r="1.45"/><circle cx="340.2" cy="438.0" r="1.45"/><circle cx="341.8" cy="432.6" r="1.45"/><circle cx="343.4" cy="433.0" r="1.45"/><circle cx="345.0" cy="438.0" r="1.45"/><circle cx="346.6" cy="433.0" r="1.45"/><circle cx="348.2" cy="432.6" r="1.45"/><circle cx="349.8" cy="435.4" r="1.45"/><circle cx="351.4" cy="431.0" r="1.45"/><circle cx="353.0" cy="432.0" r="1.45"/><circle cx="354.6" cy="431.4" r="1.45"/><circle cx="356.2" cy="434.0" r="1.45"/><circle cx="357.8" cy="432.6" r="1.45"/><circle cx="359.4" cy="434.0" r="1.45"/><circle cx="361.0" cy="432.0" r="1.45"/><circle cx="365.0" cy="435.0" r="1.45"/><circle cx="366.6" cy="433.0" r="1.45"/><circle cx="368.2" cy="432.6" r="1.45"/><circle cx="369.4" cy="435.0" r="1.45"/><circle cx="370.6" cy="432.6" r="1.45"/><circle cx="372.2" cy="431.4" r="1.45"/><circle cx="374.2" cy="438.6" r="1.45"/><circle cx="375.8" cy="440.0" r="1.45"/><circle cx="377.4" cy="440.6" r="1.45"/><circle cx="379.0" cy="433.0" r="1.45"/><circle cx="380.6" cy="434.0" r="1.45"/><circle cx="382.2" cy="435.0" r="1.45"/><circle cx="383.8" cy="433.4" r="1.45"/><circle cx="385.4" cy="438.0" r="1.45"/><circle cx="387.0" cy="438.6" r="1.45"/><circle cx="388.6" cy="436.6" r="1.45"/><circle cx="389.8" cy="438.6" r="1.45"/><circle cx="391.8" cy="433.0" r="1.45"/><circle cx="393.4" cy="432.6" r="1.45"/><circle cx="395.0" cy="434.0" r="1.45"/><circle cx="396.6" cy="434.6" r="1.45"/><circle cx="398.2" cy="430.6" r="1.45"/><circle cx="399.8" cy="436.0" r="1.45"/><circle cx="401.4" cy="428.0" r="1.45"/><circle cx="403.0" cy="433.0" r="1.45"/><circle cx="404.6" cy="438.0" r="1.45"/><circle cx="406.2" cy="433.4" r="1.45"/><circle cx="407.8" cy="437.0" r="1.45"/><circle cx="411.0" cy="432.6" r="1.45"/><circle cx="412.6" cy="438.0" r="1.45"/><circle cx="414.2" cy="436.6" r="1.45"/><circle cx="415.8" cy="433.0" r="1.45"/><circle cx="417.4" cy="437.0" r="1.45"/><circle cx="419.0" cy="438.0" r="1.45"/><circle cx="420.6" cy="433.0" r="1.45"/><circle cx="421.8" cy="434.0" r="1.45"/><circle cx="423.4" cy="441.4" r="1.45"/><circle cx="424.6" cy="437.0" r="1.45"/><circle cx="426.2" cy="436.0" r="1.45"/><circle cx="427.8" cy="434.0" r="1.45"/><circle cx="429.4" cy="429.4" r="1.45"/><circle cx="431.0" cy="438.6" r="1.45"/><circle cx="432.6" cy="437.0" r="1.45"/><circle cx="433.8" cy="437.0" r="1.45"/><circle cx="435.0" cy="434.0" r="1.45"/><circle cx="436.6" cy="433.0" r="1.45"/><circle cx="438.2" cy="432.6" r="1.45"/><circle cx="439.4" cy="428.6" r="1.45"/><circle cx="440.6" cy="431.0" r="1.45"/><circle cx="441.8" cy="436.0" r="1.45"/><circle cx="443.4" cy="440.6" r="1.45"/><circle cx="445.0" cy="439.0" r="1.45"/><circle cx="446.2" cy="437.0" r="1.45"/><circle cx="447.4" cy="441.4" r="1.45"/><circle cx="452.2" cy="436.0" r="1.45"/><circle cx="453.4" cy="438.0" r="1.45"/><circle cx="454.6" cy="437.0" r="1.45"/><circle cx="456.2" cy="436.0" r="1.45"/><circle cx="457.8" cy="438.6" r="1.45"/><circle cx="459.0" cy="439.0" r="1.45"/><circle cx="460.6" cy="437.0" r="1.45"/><circle cx="462.2" cy="438.6" r="1.45"/><circle cx="463.4" cy="436.0" r="1.45"/><circle cx="464.6" cy="431.4" r="1.45"/><circle cx="466.6" cy="429.4" r="1.45"/><circle cx="468.2" cy="431.0" r="1.45"/><circle cx="469.8" cy="434.0" r="1.45"/><circle cx="471.4" cy="433.0" r="1.45"/><circle cx="473.0" cy="435.4" r="1.45"/><circle cx="474.2" cy="440.6" r="1.45"/><circle cx="475.4" cy="435.4" r="1.45"/><circle cx="476.6" cy="438.6" r="1.45"/><circle cx="477.8" cy="429.0" r="1.45"/><circle cx="479.4" cy="430.6" r="1.45"/><circle cx="481.0" cy="435.0" r="1.45"/><circle cx="482.6" cy="438.6" r="1.45"/><circle cx="483.8" cy="436.6" r="1.45"/><circle cx="485.4" cy="432.0" r="1.45"/><circle cx="486.6" cy="430.6" r="1.45"/><circle cx="488.2" cy="436.6" r="1.45"/><circle cx="489.8" cy="440.0" r="1.45"/><circle cx="491.0" cy="428.0" r="1.45"/><circle cx="492.6" cy="432.6" r="1.45"/><circle cx="493.8" cy="439.0" r="1.45"/><circle cx="495.4" cy="431.0" r="1.45"/><circle cx="496.6" cy="430.6" r="1.45"/><circle cx="498.2" cy="438.6" r="1.45"/><circle cx="499.4" cy="443.0" r="1.45"/><circle cx="501.0" cy="431.4" r="1.45"/><circle cx="502.2" cy="437.4" r="1.45"/><circle cx="503.4" cy="442.6" r="1.45"/><circle cx="504.6" cy="429.0" r="1.45"/><circle cx="505.8" cy="434.0" r="1.45"/><circle cx="507.0" cy="440.6" r="1.45"/><circle cx="508.2" cy="427.4" r="1.45"/><circle cx="509.4" cy="434.0" r="1.45"/><circle cx="510.6" cy="441.0" r="1.45"/><circle cx="512.2" cy="428.0" r="1.45"/><circle cx="513.4" cy="439.0" r="1.45"/><circle cx="515.0" cy="424.6" r="1.45"/><circle cx="516.6" cy="441.0" r="1.45"/><circle cx="518.2" cy="442.6" r="1.45"/><circle cx="519.4" cy="432.6" r="1.45"/><circle cx="520.6" cy="436.6" r="1.45"/><circle cx="521.8" cy="444.6" r="1.45"/><circle cx="523.0" cy="440.0" r="1.45"/><circle cx="524.6" cy="428.0" r="1.45"/><circle cx="525.8" cy="429.4" r="1.45"/><circle cx="527.4" cy="428.6" r="1.45"/><circle cx="529.0" cy="442.6" r="1.45"/><circle cx="530.2" cy="437.0" r="1.45"/><circle cx="531.4" cy="443.0" r="1.45"/><circle cx="532.6" cy="442.0" r="1.45"/><circle cx="533.8" cy="439.0" r="1.45"/><circle cx="535.0" cy="426.0" r="1.45"/><circle cx="536.6" cy="434.0" r="1.45"/><circle cx="537.8" cy="427.4" r="1.45"/><circle cx="539.0" cy="438.0" r="1.45"/><circle cx="540.2" cy="440.0" r="1.45"/><circle cx="541.4" cy="436.0" r="1.45"/><circle cx="542.6" cy="419.0" r="1.45"/><circle cx="543.4" cy="440.0" r="1.45"/><circle cx="544.6" cy="425.4" r="1.45"/><circle cx="545.8" cy="437.0" r="1.45"/><circle cx="547.0" cy="431.0" r="1.45"/><circle cx="548.6" cy="440.0" r="1.45"/><circle cx="549.8" cy="432.0" r="1.45"/><circle cx="551.0" cy="427.0" r="1.45"/><circle cx="553.0" cy="432.6" r="1.45"/><circle cx="554.2" cy="441.4" r="1.45"/><circle cx="555.4" cy="425.4" r="1.45"/><circle cx="557.0" cy="433.0" r="1.45"/><circle cx="558.6" cy="445.0" r="1.45"/><circle cx="561.4" cy="428.6" r="1.45"/><circle cx="564.0" cy="434.6" r="1.45"/></g>
<g fill="none" stroke="#23288a" stroke-width="0.6"><circle cx="551.0" cy="451.4" r="1.5"/><circle cx="556.6" cy="450.0" r="1.5"/><circle cx="562.8" cy="449.2" r="1.5"/></g>
<line x1="170.2" x2="170.2" y1="436.4" y2="438.4" stroke="#c63a12" stroke-width="1.05"/><rect x="168.5" y="435.7" width="3.4" height="3.4" rx="0.6" fill="#c63a12"/>
<line x1="207.0" x2="207.0" y1="431.6" y2="438.4" stroke="#c63a12" stroke-width="1.05"/><rect x="205.3" y="433.3" width="3.4" height="3.4" rx="0.6" fill="#c63a12"/>
<line x1="303.4" x2="303.4" y1="437.4" y2="439.8" stroke="#c63a12" stroke-width="1.05"/><rect x="301.7" y="436.9" width="3.4" height="3.4" rx="0.6" fill="#c63a12"/>
<line x1="305.8" x2="305.8" y1="435.8" y2="438.2" stroke="#c63a12" stroke-width="1.05"/><rect x="304.1" y="435.3" width="3.4" height="3.4" rx="0.6" fill="#c63a12"/>
<line x1="323.0" x2="323.0" y1="435.0" y2="437.0" stroke="#c63a12" stroke-width="1.05"/><rect x="321.3" y="434.3" width="3.4" height="3.4" rx="0.6" fill="#c63a12"/>
<line x1="329.8" x2="329.8" y1="438.4" y2="440.4" stroke="#c63a12" stroke-width="1.05"/><rect x="328.1" y="437.7" width="3.4" height="3.4" rx="0.6" fill="#c63a12"/>
<line x1="362.2" x2="362.2" y1="435.0" y2="437.0" stroke="#c63a12" stroke-width="1.05"/><rect x="360.5" y="434.3" width="3.4" height="3.4" rx="0.6" fill="#c63a12"/>
<line x1="376.6" x2="376.6" y1="435.6" y2="437.6" stroke="#c63a12" stroke-width="1.05"/><rect x="374.9" y="434.9" width="3.4" height="3.4" rx="0.6" fill="#c63a12"/>
<line x1="409.8" x2="409.8" y1="439.0" y2="441.0" stroke="#c63a12" stroke-width="1.05"/><rect x="408.1" y="438.3" width="3.4" height="3.4" rx="0.6" fill="#c63a12"/>
<line x1="417.0" x2="417.0" y1="442.6" y2="444.6" stroke="#c63a12" stroke-width="1.05"/><rect x="415.3" y="441.9" width="3.4" height="3.4" rx="0.6" fill="#c63a12"/>
<line x1="449.8" x2="449.8" y1="435.4" y2="437.4" stroke="#c63a12" stroke-width="1.05"/><rect x="448.1" y="434.7" width="3.4" height="3.4" rx="0.6" fill="#c63a12"/>
<line x1="465.6" x2="465.6" y1="435.0" y2="437.0" stroke="#c63a12" stroke-width="1.05"/><rect x="463.9" y="434.3" width="3.4" height="3.4" rx="0.6" fill="#c63a12"/>
<line x1="486.6" x2="486.6" y1="440.4" y2="442.4" stroke="#c63a12" stroke-width="1.05"/><rect x="484.9" y="439.7" width="3.4" height="3.4" rx="0.6" fill="#c63a12"/>
<line x1="501.8" x2="501.8" y1="449.8" y2="454.2" stroke="#c63a12" stroke-width="1.05"/><rect x="500.1" y="450.3" width="3.4" height="3.4" rx="0.6" fill="#c63a12"/>
<line x1="515.4" x2="515.4" y1="445.0" y2="447.0" stroke="#c63a12" stroke-width="1.05"/><rect x="513.7" y="444.3" width="3.4" height="3.4" rx="0.6" fill="#c63a12"/>
</g>
<rect x="55.7" y="409.74" width="520.9" height="51.4" fill="none" stroke="#6a6a6a" stroke-width="1"/>
<path d="M55.70 461.19v2.5M119.19 461.19v2.5M182.68 461.19v2.5M246.16 461.19v2.5M309.65 461.19v2.5M373.14 461.19v2.5M436.62 461.19v2.5M500.11 461.19v2.5M563.60 461.19v2.5M55.7 453.14h-2.5M576.6 453.14h2.5M55.7 435.44h-2.5M576.6 435.44h2.5M55.7 417.74h-2.5M576.6 417.74h2.5" stroke="#6a6a6a" stroke-width="1" fill="none"/>
<text x="51.0" y="456.3" font-size="8.75" text-anchor="end">−0.005</text>
<text x="580.3" y="456.3" font-size="8.75">-250.0</text>
<text x="51.0" y="438.6" font-size="8.75" text-anchor="end">0.000</text>
<text x="580.3" y="438.6" font-size="8.75">0.0</text>
<text x="51.0" y="420.9" font-size="8.75" text-anchor="end">0.005</text>
<text x="580.3" y="420.9" font-size="8.75">250.0</text>
<text x="66.1" y="419.5" font-size="7.56" xml:space="preserve">rms<tspan font-size="5.40" dy="1.7" dx="0.5" stroke-width="0.05">AstCom</tspan><tspan dy="-1.7" dx="-1.1"> = 0.00103 Å,  rms</tspan><tspan font-size="5.40" dy="1.7" dx="0.5" stroke-width="0.05">ThAr</tspan><tspan dy="-1.7" dx="-1.5"> = 0.00170 Å</tspan></text>
<text x="555.2" y="419.2" font-size="7.7" font-weight="bold" text-anchor="end">uncorrected</text>
<text x="55.7" y="404.9" font-size="10.4" font-weight="bold">order 107</text>
</g>
<g>
<clipPath id="c7"><rect x="55.7" y="464.99" width="520.9" height="51.2"/></clipPath>
<g clip-path="url(#c7)">
<line x1="55.7" x2="576.6" y1="484.27" y2="484.27" stroke="#47961a" stroke-width="0.9" stroke-dasharray="3.1 2" stroke-dashoffset="0"/>
<line x1="55.7" x2="576.6" y1="497.01" y2="497.01" stroke="#47961a" stroke-width="0.9" stroke-dasharray="3.1 2" stroke-dashoffset="0"/>
<g fill="#47961a"><circle cx="67.4" cy="492.6" r="1.45"/><circle cx="69.0" cy="493.4" r="1.45"/><circle cx="70.6" cy="492.6" r="1.45"/><circle cx="72.2" cy="488.6" r="1.45"/><circle cx="73.8" cy="486.6" r="1.45"/><circle cx="75.4" cy="491.0" r="1.45"/><circle cx="77.0" cy="488.0" r="1.45"/><circle cx="78.6" cy="489.0" r="1.45"/><circle cx="80.2" cy="490.0" r="1.45"/><circle cx="81.8" cy="491.4" r="1.45"/><circle cx="83.8" cy="485.4" r="1.45"/><circle cx="85.4" cy="487.0" r="1.45"/><circle cx="87.0" cy="493.0" r="1.45"/><circle cx="88.6" cy="490.0" r="1.45"/><circle cx="90.2" cy="491.0" r="1.45"/><circle cx="91.8" cy="496.0" r="1.45"/><circle cx="93.4" cy="493.4" r="1.45"/><circle cx="95.0" cy="490.0" r="1.45"/><circle cx="96.6" cy="495.0" r="1.45"/><circle cx="98.2" cy="494.0" r="1.45"/><circle cx="100.2" cy="488.6" r="1.45"/><circle cx="101.8" cy="488.0" r="1.45"/><circle cx="103.4" cy="488.6" r="1.45"/><circle cx="105.0" cy="493.4" r="1.45"/><circle cx="106.6" cy="492.0" r="1.45"/><circle cx="108.2" cy="489.0" r="1.45"/><circle cx="109.8" cy="488.0" r="1.45"/><circle cx="111.4" cy="489.0" r="1.45"/><circle cx="113.0" cy="493.0" r="1.45"/><circle cx="114.6" cy="489.4" r="1.45"/><circle cx="116.2" cy="490.6" r="1.45"/><circle cx="117.8" cy="486.0" r="1.45"/><circle cx="119.4" cy="489.0" r="1.45"/><circle cx="121.0" cy="490.0" r="1.45"/><circle cx="122.6" cy="490.6" r="1.45"/><circle cx="124.2" cy="489.0" r="1.45"/><circle cx="125.8" cy="490.0" r="1.45"/><circle cx="127.4" cy="491.4" r="1.45"/><circle cx="129.0" cy="490.6" r="1.45"/><circle cx="130.6" cy="492.0" r="1.45"/><circle cx="132.2" cy="493.0" r="1.45"/><circle cx="133.8" cy="491.0" r="1.45"/><circle cx="135.4" cy="488.6" r="1.45"/><circle cx="137.0" cy="489.4" r="1.45"/><circle cx="138.6" cy="490.0" r="1.45"/><circle cx="140.2" cy="491.4" r="1.45"/><circle cx="141.8" cy="492.6" r="1.45"/><circle cx="143.4" cy="489.0" r="1.45"/><circle cx="145.0" cy="490.6" r="1.45"/><circle cx="146.6" cy="492.0" r="1.45"/><circle cx="148.2" cy="490.0" r="1.45"/><circle cx="149.4" cy="489.0" r="1.45"/><circle cx="151.0" cy="491.0" r="1.45"/><circle cx="152.6" cy="493.0" r="1.45"/><circle cx="154.2" cy="489.4" r="1.45"/><circle cx="155.4" cy="488.6" r="1.45"/><circle cx="157.0" cy="490.6" r="1.45"/><circle cx="158.6" cy="492.0" r="1.45"/><circle cx="160.2" cy="490.0" r="1.45"/><circle cx="161.8" cy="489.0" r="1.45"/><circle cx="163.4" cy="488.6" r="1.45"/><circle cx="165.0" cy="488.0" r="1.45"/><circle cx="166.6" cy="489.4" r="1.45"/><circle cx="168.2" cy="491.4" r="1.45"/><circle cx="173.0" cy="492.6" r="1.45"/><circle cx="174.6" cy="491.0" r="1.45"/><circle cx="176.2" cy="492.0" r="1.45"/><circle cx="177.8" cy="491.4" r="1.45"/><circle cx="179.4" cy="491.0" r="1.45"/><circle cx="180.6" cy="490.6" r="1.45"/><circle cx="181.8" cy="491.4" r="1.45"/><circle cx="183.4" cy="492.0" r="1.45"/><circle cx="185.0" cy="492.6" r="1.45"/><circle cx="186.6" cy="492.0" r="1.45"/><circle cx="188.2" cy="491.4" r="1.45"/><circle cx="189.8" cy="490.6" r="1.45"/><circle cx="191.4" cy="489.4" r="1.45"/><circle cx="192.6" cy="488.6" r="1.45"/><circle cx="193.8" cy="486.0" r="1.45"/><circle cx="195.4" cy="487.4" r="1.45"/><circle cx="197.0" cy="490.6" r="1.45"/><circle cx="198.6" cy="491.4" r="1.45"/><circle cx="200.2" cy="491.0" r="1.45"/><circle cx="201.4" cy="490.6" r="1.45"/><circle cx="203.0" cy="489.4" r="1.45"/><circle cx="204.6" cy="489.0" r="1.45"/><circle cx="208.6" cy="487.4" r="1.45"/><circle cx="210.2" cy="490.0" r="1.45"/><circle cx="211.4" cy="491.0" r="1.45"/><circle cx="213.0" cy="492.0" r="1.45"/><circle cx="214.6" cy="491.0" r="1.45"/><circle cx="216.2" cy="490.6" r="1.45"/><circle cx="217.8" cy="491.0" r="1.45"/><circle cx="219.4" cy="488.0" r="1.45"/><circle cx="221.0" cy="489.4" r="1.45"/><circle cx="222.6" cy="490.0" r="1.45"/><circle cx="224.2" cy="488.6" r="1.45"/><circle cx="225.8" cy="488.0" r="1.45"/><circle cx="227.4" cy="489.0" r="1.45"/><circle cx="229.0" cy="487.4" r="1.45"/><circle cx="230.6" cy="488.6" r="1.45"/><circle cx="232.2" cy="489.4" r="1.45"/><circle cx="233.8" cy="489.0" r="1.45"/><circle cx="235.4" cy="490.0" r="1.45"/><circle cx="237.0" cy="489.4" r="1.45"/><circle cx="238.6" cy="488.6" r="1.45"/><circle cx="240.2" cy="490.0" r="1.45"/><circle cx="241.8" cy="491.0" r="1.45"/><circle cx="243.4" cy="490.6" r="1.45"/><circle cx="245.8" cy="488.6" r="1.45"/><circle cx="247.4" cy="490.0" r="1.45"/><circle cx="249.0" cy="491.0" r="1.45"/><circle cx="250.6" cy="491.4" r="1.45"/><circle cx="252.2" cy="492.0" r="1.45"/><circle cx="253.8" cy="492.6" r="1.45"/><circle cx="255.4" cy="492.0" r="1.45"/><circle cx="257.0" cy="493.0" r="1.45"/><circle cx="258.6" cy="492.6" r="1.45"/><circle cx="260.2" cy="491.4" r="1.45"/><circle cx="261.8" cy="492.0" r="1.45"/><circle cx="263.0" cy="493.0" r="1.45"/><circle cx="264.6" cy="491.0" r="1.45"/><circle cx="266.2" cy="491.4" r="1.45"/><circle cx="267.4" cy="492.0" r="1.45"/><circle cx="269.0" cy="490.6" r="1.45"/><circle cx="270.6" cy="491.4" r="1.45"/><circle cx="272.2" cy="491.0" r="1.45"/><circle cx="273.8" cy="492.0" r="1.45"/><circle cx="275.4" cy="488.0" r="1.45"/><circle cx="277.0" cy="489.4" r="1.45"/><circle cx="278.6" cy="491.0" r="1.45"/><circle cx="280.2" cy="490.6" r="1.45"/><circle cx="281.8" cy="488.6" r="1.45"/><circle cx="283.4" cy="490.6" r="1.45"/><circle cx="284.6" cy="493.0" r="1.45"/><circle cx="286.2" cy="491.4" r="1.45"/><circle cx="287.8" cy="491.0" r="1.45"/><circle cx="289.4" cy="490.6" r="1.45"/><circle cx="291.0" cy="490.0" r="1.45"/><circle cx="292.6" cy="490.6" r="1.45"/><circle cx="294.2" cy="488.6" r="1.45"/><circle cx="295.8" cy="491.0" r="1.45"/><circle cx="297.4" cy="492.6" r="1.45"/><circle cx="299.0" cy="492.0" r="1.45"/><circle cx="300.6" cy="492.6" r="1.45"/><circle cx="302.2" cy="493.0" r="1.45"/><circle cx="308.2" cy="491.0" r="1.45"/><circle cx="309.8" cy="491.4" r="1.45"/><circle cx="311.4" cy="491.0" r="1.45"/><circle cx="313.0" cy="490.6" r="1.45"/><circle cx="314.6" cy="489.4" r="1.45"/><circle cx="316.2" cy="490.6" r="1.45"/><circle cx="317.8" cy="490.0" r="1.45"/><circle cx="319.4" cy="489.0" r="1.45"/><circle cx="321.0" cy="490.0" r="1.45"/><circle cx="325.0" cy="490.6" r="1.45"/><circle cx="326.6" cy="491.0" r="1.45"/><circle cx="328.2" cy="491.4" r="1.45"/><circle cx="330.6" cy="491.0" r="1.45"/><circle cx="332.2" cy="490.6" r="1.45"/><circle cx="333.8" cy="490.0" r="1.45"/><circle cx="335.4" cy="488.6" r="1.45"/><circle cx="337.0" cy="487.4" r="1.45"/><circle cx="338.6" cy="490.0" r="1.45"/><circle cx="340.2" cy="490.6" r="1.45"/><circle cx="341.8" cy="489.0" r="1.45"/><circle cx="343.4" cy="489.4" r="1.45"/><circle cx="345.0" cy="490.0" r="1.45"/><circle cx="346.6" cy="488.6" r="1.45"/><circle cx="348.2" cy="489.0" r="1.45"/><circle cx="349.8" cy="488.6" r="1.45"/><circle cx="351.4" cy="487.4" r="1.45"/><circle cx="353.0" cy="487.0" r="1.45"/><circle cx="354.6" cy="487.4" r="1.45"/><circle cx="356.2" cy="489.0" r="1.45"/><circle cx="357.8" cy="488.0" r="1.45"/><circle cx="359.4" cy="489.4" r="1.45"/><circle cx="361.0" cy="490.0" r="1.45"/><circle cx="365.0" cy="490.0" r="1.45"/><circle cx="366.6" cy="489.0" r="1.45"/><circle cx="368.2" cy="488.6" r="1.45"/><circle cx="369.4" cy="491.4" r="1.45"/><circle cx="370.6" cy="490.0" r="1.45"/><circle cx="372.2" cy="489.0" r="1.45"/><circle cx="374.2" cy="488.6" r="1.45"/><circle cx="375.8" cy="490.0" r="1.45"/><circle cx="377.4" cy="491.0" r="1.45"/><circle cx="379.0" cy="491.4" r="1.45"/><circle cx="380.6" cy="492.6" r="1.45"/><circle cx="382.2" cy="493.0" r="1.45"/><circle cx="383.8" cy="490.0" r="1.45"/><circle cx="385.4" cy="493.4" r="1.45"/><circle cx="387.0" cy="492.6" r="1.45"/><circle cx="388.6" cy="490.0" r="1.45"/><circle cx="389.8" cy="491.0" r="1.45"/><circle cx="391.8" cy="490.0" r="1.45"/><circle cx="393.4" cy="489.0" r="1.45"/><circle cx="395.0" cy="488.0" r="1.45"/><circle cx="396.6" cy="486.0" r="1.45"/><circle cx="398.2" cy="488.6" r="1.45"/><circle cx="399.8" cy="487.0" r="1.45"/><circle cx="401.4" cy="488.0" r="1.45"/><circle cx="403.0" cy="490.0" r="1.45"/><circle cx="404.6" cy="491.0" r="1.45"/><circle cx="406.2" cy="492.0" r="1.45"/><circle cx="407.8" cy="488.6" r="1.45"/><circle cx="411.0" cy="492.6" r="1.45"/><circle cx="412.6" cy="494.0" r="1.45"/><circle cx="414.2" cy="493.0" r="1.45"/><circle cx="415.8" cy="494.0" r="1.45"/><circle cx="417.4" cy="491.0" r="1.45"/><circle cx="419.0" cy="490.0" r="1.45"/><circle cx="420.6" cy="493.0" r="1.45"/><circle cx="421.8" cy="493.4" r="1.45"/><circle cx="423.4" cy="492.0" r="1.45"/><circle cx="424.6" cy="490.6" r="1.45"/><circle cx="426.2" cy="489.0" r="1.45"/><circle cx="427.8" cy="492.6" r="1.45"/><circle cx="429.4" cy="491.0" r="1.45"/><circle cx="431.0" cy="495.0" r="1.45"/><circle cx="432.6" cy="485.0" r="1.45"/><circle cx="433.8" cy="490.6" r="1.45"/><circle cx="435.0" cy="490.0" r="1.45"/><circle cx="436.6" cy="489.4" r="1.45"/><circle cx="438.2" cy="492.0" r="1.45"/><circle cx="439.4" cy="493.0" r="1.45"/><circle cx="440.6" cy="494.6" r="1.45"/><circle cx="441.8" cy="490.0" r="1.45"/><circle cx="443.4" cy="489.0" r="1.45"/><circle cx="445.0" cy="488.6" r="1.45"/><circle cx="446.2" cy="490.0" r="1.45"/><circle cx="447.4" cy="488.0" r="1.45"/><circle cx="449.0" cy="487.0" r="1.45"/><circle cx="452.2" cy="489.0" r="1.45"/><circle cx="453.4" cy="490.0" r="1.45"/><circle cx="454.6" cy="489.4" r="1.45"/><circle cx="456.2" cy="488.6" r="1.45"/><circle cx="457.8" cy="491.0" r="1.45"/><circle cx="459.0" cy="490.0" r="1.45"/><circle cx="460.6" cy="488.0" r="1.45"/><circle cx="462.2" cy="486.6" r="1.45"/><circle cx="463.4" cy="487.4" r="1.45"/><circle cx="464.6" cy="486.0" r="1.45"/><circle cx="466.6" cy="493.0" r="1.45"/><circle cx="468.2" cy="495.0" r="1.45"/><circle cx="469.8" cy="492.6" r="1.45"/><circle cx="471.4" cy="494.0" r="1.45"/><circle cx="473.0" cy="493.0" r="1.45"/><circle cx="474.2" cy="486.0" r="1.45"/><circle cx="475.4" cy="488.0" r="1.45"/><circle cx="476.6" cy="486.6" r="1.45"/><circle cx="477.8" cy="493.0" r="1.45"/><circle cx="479.4" cy="490.6" r="1.45"/><circle cx="481.0" cy="491.4" r="1.45"/><circle cx="482.6" cy="486.0" r="1.45"/><circle cx="483.8" cy="487.0" r="1.45"/><circle cx="485.4" cy="488.0" r="1.45"/><circle cx="486.6" cy="494.6" r="1.45"/><circle cx="488.2" cy="489.0" r="1.45"/><circle cx="489.8" cy="488.6" r="1.45"/><circle cx="491.0" cy="490.0" r="1.45"/><circle cx="492.6" cy="493.0" r="1.45"/><circle cx="493.8" cy="492.0" r="1.45"/><circle cx="495.4" cy="490.6" r="1.45"/><circle cx="496.6" cy="486.0" r="1.45"/><circle cx="498.2" cy="491.0" r="1.45"/><circle cx="499.4" cy="492.0" r="1.45"/><circle cx="501.0" cy="486.6" r="1.45"/><circle cx="502.2" cy="493.0" r="1.45"/><circle cx="503.4" cy="496.0" r="1.45"/><circle cx="504.6" cy="485.0" r="1.45"/><circle cx="505.8" cy="490.0" r="1.45"/><circle cx="507.0" cy="495.0" r="1.45"/><circle cx="508.2" cy="496.0" r="1.45"/><circle cx="509.4" cy="490.0" r="1.45"/><circle cx="510.6" cy="494.6" r="1.45"/><circle cx="512.2" cy="494.0" r="1.45"/><circle cx="513.4" cy="495.0" r="1.45"/><circle cx="515.0" cy="498.0" r="1.45"/><circle cx="516.6" cy="497.4" r="1.45"/><circle cx="518.2" cy="493.4" r="1.45"/><circle cx="519.4" cy="485.4" r="1.45"/><circle cx="520.6" cy="489.2" r="1.45"/><circle cx="523.0" cy="493.2" r="1.45"/><circle cx="525.2" cy="484.6" r="1.45"/><circle cx="529.2" cy="494.6" r="1.45"/><circle cx="530.0" cy="488.6" r="1.45"/><circle cx="532.6" cy="494.2" r="1.45"/><circle cx="533.8" cy="490.2" r="1.45"/><circle cx="536.2" cy="486.8" r="1.45"/><circle cx="538.6" cy="489.4" r="1.45"/><circle cx="539.8" cy="491.8" r="1.45"/><circle cx="541.2" cy="487.0" r="1.45"/><circle cx="543.4" cy="490.8" r="1.45"/><circle cx="546.0" cy="486.8" r="1.45"/><circle cx="548.6" cy="489.2" r="1.45"/><circle cx="554.6" cy="489.2" r="1.45"/><circle cx="559.2" cy="491.2" r="1.45"/><circle cx="560.6" cy="490.6" r="1.45"/><circle cx="562.8" cy="493.0" r="1.45"/></g>
<g fill="none" stroke="#47961a" stroke-width="0.6"><circle cx="464.6" cy="480.6" r="1.5"/><circle cx="491.0" cy="483.0" r="1.5"/><circle cx="508.2" cy="482.6" r="1.5"/><circle cx="512.2" cy="483.0" r="1.5"/><circle cx="515.4" cy="478.6" r="1.5"/><circle cx="521.8" cy="498.0" r="1.5"/><circle cx="524.0" cy="482.2" r="1.5"/><circle cx="527.8" cy="480.6" r="1.5"/><circle cx="535.0" cy="478.6" r="1.5"/><circle cx="537.4" cy="479.8" r="1.5"/><circle cx="542.2" cy="468.6" r="1.5"/><circle cx="544.8" cy="476.0" r="1.5"/><circle cx="547.0" cy="480.0" r="1.5"/><circle cx="549.8" cy="479.0" r="1.5"/><circle cx="553.0" cy="481.2" r="1.5"/><circle cx="551.8" cy="473.0" r="1.5"/><circle cx="555.4" cy="472.6" r="1.5"/><circle cx="558.0" cy="478.0" r="1.5"/><circle cx="561.4" cy="472.8" r="1.5"/><circle cx="564.0" cy="479.0" r="1.5"/><circle cx="550.8" cy="498.8" r="1.5"/><circle cx="556.8" cy="496.0" r="1.5"/></g>
<line x1="170.2" x2="170.2" y1="491.4" y2="493.4" stroke="#c63a12" stroke-width="1.05"/><rect x="168.5" y="490.7" width="3.4" height="3.4" rx="0.6" fill="#c63a12"/>
<line x1="207.0" x2="207.0" y1="487.0" y2="493.8" stroke="#c63a12" stroke-width="1.05"/><rect x="205.3" y="488.7" width="3.4" height="3.4" rx="0.6" fill="#c63a12"/>
<line x1="303.4" x2="303.4" y1="492.2" y2="494.6" stroke="#c63a12" stroke-width="1.05"/><rect x="301.7" y="491.7" width="3.4" height="3.4" rx="0.6" fill="#c63a12"/>
<line x1="305.8" x2="305.8" y1="490.8" y2="493.2" stroke="#c63a12" stroke-width="1.05"/><rect x="304.1" y="490.3" width="3.4" height="3.4" rx="0.6" fill="#c63a12"/>
<line x1="323.0" x2="323.0" y1="490.0" y2="492.0" stroke="#c63a12" stroke-width="1.05"/><rect x="321.3" y="489.3" width="3.4" height="3.4" rx="0.6" fill="#c63a12"/>
<line x1="329.8" x2="329.8" y1="493.4" y2="495.4" stroke="#c63a12" stroke-width="1.05"/><rect x="328.1" y="492.7" width="3.4" height="3.4" rx="0.6" fill="#c63a12"/>
<line x1="362.2" x2="362.2" y1="490.0" y2="492.0" stroke="#c63a12" stroke-width="1.05"/><rect x="360.5" y="489.3" width="3.4" height="3.4" rx="0.6" fill="#c63a12"/>
<line x1="376.6" x2="376.6" y1="490.4" y2="492.4" stroke="#c63a12" stroke-width="1.05"/><rect x="374.9" y="489.7" width="3.4" height="3.4" rx="0.6" fill="#c63a12"/>
<line x1="409.8" x2="409.8" y1="494.6" y2="496.6" stroke="#c63a12" stroke-width="1.05"/><rect x="408.1" y="493.9" width="3.4" height="3.4" rx="0.6" fill="#c63a12"/>
<line x1="417.0" x2="417.0" y1="498.6" y2="500.6" stroke="#c63a12" stroke-width="1.05"/><rect x="415.3" y="497.9" width="3.4" height="3.4" rx="0.6" fill="#c63a12"/>
<line x1="449.8" x2="449.8" y1="492.0" y2="494.0" stroke="#c63a12" stroke-width="1.05"/><rect x="448.1" y="491.3" width="3.4" height="3.4" rx="0.6" fill="#c63a12"/>
<line x1="465.6" x2="465.6" y1="491.4" y2="493.4" stroke="#c63a12" stroke-width="1.05"/><rect x="463.9" y="490.7" width="3.4" height="3.4" rx="0.6" fill="#c63a12"/>
<line x1="486.6" x2="486.6" y1="496.4" y2="498.4" stroke="#c63a12" stroke-width="1.05"/><rect x="484.9" y="495.7" width="3.4" height="3.4" rx="0.6" fill="#c63a12"/>
<line x1="501.8" x2="501.8" y1="505.2" y2="509.6" stroke="#c63a12" stroke-width="1.05"/><rect x="500.1" y="505.7" width="3.4" height="3.4" rx="0.6" fill="#c63a12"/>
<line x1="515.4" x2="515.4" y1="499.4" y2="501.4" stroke="#c63a12" stroke-width="1.05"/><rect x="513.7" y="498.7" width="3.4" height="3.4" rx="0.6" fill="#c63a12"/>
</g>
<rect x="55.7" y="464.99" width="520.9" height="51.2" fill="none" stroke="#6a6a6a" stroke-width="1"/>
<path d="M55.70 516.24v2.5M119.19 516.24v2.5M182.68 516.24v2.5M246.16 516.24v2.5M309.65 516.24v2.5M373.14 516.24v2.5M436.62 516.24v2.5M500.11 516.24v2.5M563.60 516.24v2.5M55.7 508.34h-2.5M576.6 508.34h2.5M55.7 490.64h-2.5M576.6 490.64h2.5M55.7 472.94h-2.5M576.6 472.94h2.5" stroke="#6a6a6a" stroke-width="1" fill="none"/>
<text x="51.0" y="511.5" font-size="8.75" text-anchor="end">−0.005</text>
<text x="580.3" y="511.5" font-size="8.75">-250.0</text>
<text x="51.0" y="493.8" font-size="8.75" text-anchor="end">0.000</text>
<text x="580.3" y="493.8" font-size="8.75">0.0</text>
<text x="51.0" y="476.1" font-size="8.75" text-anchor="end">0.005</text>
<text x="580.3" y="476.1" font-size="8.75">250.0</text>
<text x="66.1" y="474.8" font-size="7.56" xml:space="preserve">rms<tspan font-size="5.40" dy="1.7" dx="0.5" stroke-width="0.05">AstCom</tspan><tspan dy="-1.7" dx="-1.1"> = 0.00060 Å,  rms</tspan><tspan font-size="5.40" dy="1.7" dx="0.5" stroke-width="0.05">ThAr</tspan><tspan dy="-1.7" dx="-1.5"> = 0.00174 Å</tspan></text>
<text x="555.2" y="474.5" font-size="7.7" font-weight="bold" text-anchor="end">corrected</text>
</g>
<g>
<clipPath id="c8"><rect x="55.7" y="542.02" width="520.9" height="51.5"/></clipPath>
<g clip-path="url(#c8)">
<line x1="55.7" x2="576.6" y1="556.80" y2="556.80" stroke="#23288a" stroke-width="0.9" stroke-dasharray="3.1 2" stroke-dashoffset="0"/>
<line x1="55.7" x2="576.6" y1="578.64" y2="578.64" stroke="#23288a" stroke-width="0.9" stroke-dasharray="3.1 2" stroke-dashoffset="0"/>
<g fill="#23288a"><circle cx="67.4" cy="560.0" r="1.45"/><circle cx="69.0" cy="572.6" r="1.45"/><circle cx="70.6" cy="568.6" r="1.45"/><circle cx="72.2" cy="567.0" r="1.45"/><circle cx="73.8" cy="568.0" r="1.45"/><circle cx="75.4" cy="572.6" r="1.45"/><circle cx="77.0" cy="575.4" r="1.45"/><circle cx="78.6" cy="566.0" r="1.45"/><circle cx="80.2" cy="568.6" r="1.45"/><circle cx="81.8" cy="565.0" r="1.45"/><circle cx="83.4" cy="562.6" r="1.45"/><circle cx="85.0" cy="570.0" r="1.45"/><circle cx="86.6" cy="561.4" r="1.45"/><circle cx="88.2" cy="564.0" r="1.45"/><circle cx="89.8" cy="562.0" r="1.45"/><circle cx="91.0" cy="564.6" r="1.45"/><circle cx="93.0" cy="570.6" r="1.45"/><circle cx="94.6" cy="568.6" r="1.45"/><circle cx="96.2" cy="571.4" r="1.45"/><circle cx="97.8" cy="570.6" r="1.45"/><circle cx="99.0" cy="576.0" r="1.45"/><circle cx="100.6" cy="571.0" r="1.45"/><circle cx="102.2" cy="570.0" r="1.45"/><circle cx="103.8" cy="572.0" r="1.45"/><circle cx="105.4" cy="572.0" r="1.45"/><circle cx="107.0" cy="563.4" r="1.45"/><circle cx="108.6" cy="564.6" r="1.45"/><circle cx="110.2" cy="566.6" r="1.45"/><circle cx="111.0" cy="564.0" r="1.45"/><circle cx="112.6" cy="562.6" r="1.45"/><circle cx="114.2" cy="562.0" r="1.45"/><circle cx="115.8" cy="568.6" r="1.45"/><circle cx="117.4" cy="572.6" r="1.45"/><circle cx="118.6" cy="575.4" r="1.45"/><circle cx="120.2" cy="570.6" r="1.45"/><circle cx="121.8" cy="561.4" r="1.45"/><circle cx="123.4" cy="565.0" r="1.45"/><circle cx="125.0" cy="563.4" r="1.45"/><circle cx="126.6" cy="566.6" r="1.45"/><circle cx="128.2" cy="562.6" r="1.45"/><circle cx="129.8" cy="571.0" r="1.45"/><circle cx="131.4" cy="564.6" r="1.45"/><circle cx="133.0" cy="570.0" r="1.45"/><circle cx="134.6" cy="570.0" r="1.45"/><circle cx="136.2" cy="569.0" r="1.45"/><circle cx="137.8" cy="567.4" r="1.45"/><circle cx="139.0" cy="564.6" r="1.45"/><circle cx="140.6" cy="569.4" r="1.45"/><circle cx="141.8" cy="570.6" r="1.45"/><circle cx="143.4" cy="565.4" r="1.45"/><circle cx="145.0" cy="567.0" r="1.45"/><circle cx="146.6" cy="569.0" r="1.45"/><circle cx="147.8" cy="566.6" r="1.45"/><circle cx="149.0" cy="564.6" r="1.45"/><circle cx="150.6" cy="562.0" r="1.45"/><circle cx="152.2" cy="572.6" r="1.45"/><circle cx="153.8" cy="566.6" r="1.45"/><circle cx="155.4" cy="565.0" r="1.45"/><circle cx="157.0" cy="572.0" r="1.45"/><circle cx="158.2" cy="564.6" r="1.45"/><circle cx="159.8" cy="570.0" r="1.45"/><circle cx="161.4" cy="570.6" r="1.45"/><circle cx="162.6" cy="565.4" r="1.45"/><circle cx="164.2" cy="571.0" r="1.45"/><circle cx="165.8" cy="572.0" r="1.45"/><circle cx="167.4" cy="571.4" r="1.45"/><circle cx="169.0" cy="572.6" r="1.45"/><circle cx="171.0" cy="568.0" r="1.45"/><circle cx="172.6" cy="567.4" r="1.45"/><circle cx="174.2" cy="569.0" r="1.45"/><circle cx="175.8" cy="570.0" r="1.45"/><circle cx="177.4" cy="565.4" r="1.45"/><circle cx="180.6" cy="567.0" r="1.45"/><circle cx="181.8" cy="567.0" r="1.45"/><circle cx="183.4" cy="569.4" r="1.45"/><circle cx="185.0" cy="559.0" r="1.45"/><circle cx="186.6" cy="568.0" r="1.45"/><circle cx="188.2" cy="567.4" r="1.45"/><circle cx="189.8" cy="568.6" r="1.45"/><circle cx="191.4" cy="570.0" r="1.45"/><circle cx="193.0" cy="569.0" r="1.45"/><circle cx="197.0" cy="565.0" r="1.45"/><circle cx="198.6" cy="568.6" r="1.45"/><circle cx="202.6" cy="566.0" r="1.45"/><circle cx="204.2" cy="570.0" r="1.45"/><circle cx="205.8" cy="568.0" r="1.45"/><circle cx="207.4" cy="564.0" r="1.45"/><circle cx="208.6" cy="562.6" r="1.45"/><circle cx="210.2" cy="568.0" r="1.45"/><circle cx="211.8" cy="570.6" r="1.45"/><circle cx="213.4" cy="569.0" r="1.45"/><circle cx="215.0" cy="564.6" r="1.45"/><circle cx="216.2" cy="563.4" r="1.45"/><circle cx="217.4" cy="568.6" r="1.45"/><circle cx="218.6" cy="572.0" r="1.45"/><circle cx="220.2" cy="566.6" r="1.45"/><circle cx="221.8" cy="565.0" r="1.45"/><circle cx="223.4" cy="564.0" r="1.45"/><circle cx="224.6" cy="558.0" r="1.45"/><circle cx="226.2" cy="558.6" r="1.45"/><circle cx="227.4" cy="564.0" r="1.45"/><circle cx="229.0" cy="568.6" r="1.45"/><circle cx="230.6" cy="569.0" r="1.45"/><circle cx="232.2" cy="568.0" r="1.45"/><circle cx="233.8" cy="572.0" r="1.45"/><circle cx="235.4" cy="568.6" r="1.45"/><circle cx="237.0" cy="567.4" r="1.45"/><circle cx="238.6" cy="569.0" r="1.45"/><circle cx="240.2" cy="567.0" r="1.45"/><circle cx="249.0" cy="562.6" r="1.45"/><circle cx="250.6" cy="561.0" r="1.45"/><circle cx="252.2" cy="564.6" r="1.45"/><circle cx="253.8" cy="565.4" r="1.45"/><circle cx="255.4" cy="570.0" r="1.45"/><circle cx="257.0" cy="571.0" r="1.45"/><circle cx="258.6" cy="572.6" r="1.45"/><circle cx="260.2" cy="565.0" r="1.45"/><circle cx="261.8" cy="564.6" r="1.45"/><circle cx="263.4" cy="567.4" r="1.45"/><circle cx="265.0" cy="566.0" r="1.45"/><circle cx="266.6" cy="570.6" r="1.45"/><circle cx="268.2" cy="563.0" r="1.45"/><circle cx="269.4" cy="565.0" r="1.45"/><circle cx="270.6" cy="567.0" r="1.45"/><circle cx="274.2" cy="564.0" r="1.45"/><circle cx="275.8" cy="568.6" r="1.45"/><circle cx="277.4" cy="565.0" r="1.45"/><circle cx="279.0" cy="564.0" r="1.45"/><circle cx="280.6" cy="570.0" r="1.45"/><circle cx="282.2" cy="564.6" r="1.45"/><circle cx="283.8" cy="563.0" r="1.45"/><circle cx="285.0" cy="570.0" r="1.45"/><circle cx="286.6" cy="564.0" r="1.45"/><circle cx="287.8" cy="565.4" r="1.45"/><circle cx="289.4" cy="573.0" r="1.45"/><circle cx="291.0" cy="568.6" r="1.45"/><circle cx="292.6" cy="567.4" r="1.45"/><circle cx="293.8" cy="564.0" r="1.45"/><circle cx="295.4" cy="566.6" r="1.45"/><circle cx="297.0" cy="569.4" r="1.45"/><circle cx="298.6" cy="566.6" r="1.45"/><circle cx="300.2" cy="568.6" r="1.45"/><circle cx="301.8" cy="566.0" r="1.45"/><circle cx="303.4" cy="567.0" r="1.45"/><circle cx="305.0" cy="565.4" r="1.45"/><circle cx="306.6" cy="569.0" r="1.45"/><circle cx="307.8" cy="564.0" r="1.45"/><circle cx="309.4" cy="564.6" r="1.45"/><circle cx="311.0" cy="566.0" r="1.45"/><circle cx="314.2" cy="569.0" r="1.45"/><circle cx="315.8" cy="575.0" r="1.45"/><circle cx="317.4" cy="569.0" r="1.45"/><circle cx="319.0" cy="569.4" r="1.45"/><circle cx="320.6" cy="571.0" r="1.45"/><circle cx="322.2" cy="572.0" r="1.45"/><circle cx="323.4" cy="565.0" r="1.45"/><circle cx="325.0" cy="567.0" r="1.45"/><circle cx="326.2" cy="563.4" r="1.45"/><circle cx="327.8" cy="568.6" r="1.45"/><circle cx="329.4" cy="565.0" r="1.45"/><circle cx="334.2" cy="571.0" r="1.45"/><circle cx="335.4" cy="566.6" r="1.45"/><circle cx="337.0" cy="566.0" r="1.45"/><circle cx="338.2" cy="562.0" r="1.45"/><circle cx="339.8" cy="566.0" r="1.45"/><circle cx="341.0" cy="570.6" r="1.45"/><circle cx="342.6" cy="567.0" r="1.45"/><circle cx="343.8" cy="564.6" r="1.45"/><circle cx="345.4" cy="569.4" r="1.45"/><circle cx="347.0" cy="566.6" r="1.45"/><circle cx="348.6" cy="565.0" r="1.45"/><circle cx="349.8" cy="571.0" r="1.45"/><circle cx="351.4" cy="569.0" r="1.45"/><circle cx="353.0" cy="568.0" r="1.45"/><circle cx="354.6" cy="565.0" r="1.45"/><circle cx="356.2" cy="562.6" r="1.45"/><circle cx="357.8" cy="570.6" r="1.45"/><circle cx="359.4" cy="572.0" r="1.45"/><circle cx="360.6" cy="570.0" r="1.45"/><circle cx="362.2" cy="568.6" r="1.45"/><circle cx="363.8" cy="566.0" r="1.45"/><circle cx="365.0" cy="564.6" r="1.45"/><circle cx="366.6" cy="564.0" r="1.45"/><circle cx="368.2" cy="570.6" r="1.45"/><circle cx="369.8" cy="573.4" r="1.45"/><circle cx="371.4" cy="574.6" r="1.45"/><circle cx="373.0" cy="570.0" r="1.45"/><circle cx="374.6" cy="568.6" r="1.45"/><circle cx="376.2" cy="567.4" r="1.45"/><circle cx="377.4" cy="568.0" r="1.45"/><circle cx="382.6" cy="568.0" r="1.45"/><circle cx="384.2" cy="569.4" r="1.45"/><circle cx="385.4" cy="568.6" r="1.45"/><circle cx="387.0" cy="571.0" r="1.45"/><circle cx="388.6" cy="570.6" r="1.45"/><circle cx="390.2" cy="572.6" r="1.45"/><circle cx="391.4" cy="573.4" r="1.45"/><circle cx="392.6" cy="575.0" r="1.45"/><circle cx="393.8" cy="572.0" r="1.45"/><circle cx="396.2" cy="560.0" r="1.45"/><circle cx="397.8" cy="560.6" r="1.45"/><circle cx="399.4" cy="563.0" r="1.45"/><circle cx="401.0" cy="564.6" r="1.45"/><circle cx="402.2" cy="563.4" r="1.45"/><circle cx="403.8" cy="568.0" r="1.45"/><circle cx="406.6" cy="564.0" r="1.45"/><circle cx="408.2" cy="566.6" r="1.45"/><circle cx="409.8" cy="569.4" r="1.45"/><circle cx="411.4" cy="568.6" r="1.45"/><circle cx="413.0" cy="567.0" r="1.45"/><circle cx="414.6" cy="566.0" r="1.45"/><circle cx="416.2" cy="573.4" r="1.45"/><circle cx="417.4" cy="575.0" r="1.45"/><circle cx="418.6" cy="565.0" r="1.45"/><circle cx="421.8" cy="572.0" r="1.45"/><circle cx="423.4" cy="566.0" r="1.45"/><circle cx="424.6" cy="570.6" r="1.45"/><circle cx="426.2" cy="565.0" r="1.45"/><circle cx="427.8" cy="564.6" r="1.45"/><circle cx="429.4" cy="564.0" r="1.45"/><circle cx="431.0" cy="571.0" r="1.45"/><circle cx="432.6" cy="570.6" r="1.45"/><circle cx="433.8" cy="566.0" r="1.45"/><circle cx="435.4" cy="567.4" r="1.45"/><circle cx="436.6" cy="566.0" r="1.45"/><circle cx="438.2" cy="574.0" r="1.45"/><circle cx="439.8" cy="568.0" r="1.45"/><circle cx="441.0" cy="569.0" r="1.45"/><circle cx="442.6" cy="563.4" r="1.45"/><circle cx="444.2" cy="573.0" r="1.45"/><circle cx="445.4" cy="565.0" r="1.45"/><circle cx="447.0" cy="567.0" r="1.45"/><circle cx="448.6" cy="563.0" r="1.45"/><circle cx="450.2" cy="572.0" r="1.45"/><circle cx="451.4" cy="564.0" r="1.45"/><circle cx="453.0" cy="565.0" r="1.45"/><circle cx="454.6" cy="564.0" r="1.45"/><circle cx="456.2" cy="566.0" r="1.45"/><circle cx="457.4" cy="568.6" r="1.45"/><circle cx="459.0" cy="562.6" r="1.45"/><circle cx="460.6" cy="564.0" r="1.45"/><circle cx="462.2" cy="565.0" r="1.45"/><circle cx="463.4" cy="562.6" r="1.45"/><circle cx="465.0" cy="564.6" r="1.45"/><circle cx="466.6" cy="565.0" r="1.45"/><circle cx="468.2" cy="564.0" r="1.45"/><circle cx="469.8" cy="570.6" r="1.45"/><circle cx="471.0" cy="563.4" r="1.45"/><circle cx="472.6" cy="570.0" r="1.45"/><circle cx="474.2" cy="572.6" r="1.45"/><circle cx="475.4" cy="567.0" r="1.45"/><circle cx="477.0" cy="564.6" r="1.45"/><circle cx="478.6" cy="570.6" r="1.45"/><circle cx="479.8" cy="572.0" r="1.45"/><circle cx="481.0" cy="564.0" r="1.45"/><circle cx="482.6" cy="568.6" r="1.45"/><circle cx="484.2" cy="564.6" r="1.45"/><circle cx="485.4" cy="562.0" r="1.45"/><circle cx="487.0" cy="564.0" r="1.45"/><circle cx="488.6" cy="565.0" r="1.45"/><circle cx="489.8" cy="567.4" r="1.45"/><circle cx="491.0" cy="563.4" r="1.45"/><circle cx="492.6" cy="569.0" r="1.45"/><circle cx="493.8" cy="570.0" r="1.45"/><circle cx="495.4" cy="565.4" r="1.45"/><circle cx="497.0" cy="564.0" r="1.45"/><circle cx="498.2" cy="571.0" r="1.45"/><circle cx="499.8" cy="566.0" r="1.45"/><circle cx="501.4" cy="565.0" r="1.45"/><circle cx="503.0" cy="570.6" r="1.45"/><circle cx="504.6" cy="572.0" r="1.45"/><circle cx="505.4" cy="564.6" r="1.45"/><circle cx="507.0" cy="576.0" r="1.45"/><circle cx="508.2" cy="568.6" r="1.45"/><circle cx="509.4" cy="567.4" r="1.45"/><circle cx="510.6" cy="560.0" r="1.45"/><circle cx="511.8" cy="567.0" r="1.45"/><circle cx="513.0" cy="577.4" r="1.45"/><circle cx="514.2" cy="570.6" r="1.45"/><circle cx="515.4" cy="569.0" r="1.45"/><circle cx="516.6" cy="565.0" r="1.45"/><circle cx="517.4" cy="576.0" r="1.45"/><circle cx="519.0" cy="563.4" r="1.45"/><circle cx="520.6" cy="561.0" r="1.45"/><circle cx="521.8" cy="569.0" r="1.45"/><circle cx="523.4" cy="565.4" r="1.45"/><circle cx="524.6" cy="570.6" r="1.45"/><circle cx="525.8" cy="574.0" r="1.45"/><circle cx="527.0" cy="563.0" r="1.45"/><circle cx="528.2" cy="564.6" r="1.45"/><circle cx="529.4" cy="573.4" r="1.45"/><circle cx="530.6" cy="572.0" r="1.45"/><circle cx="531.8" cy="574.6" r="1.45"/><circle cx="533.0" cy="577.0" r="1.45"/><circle cx="534.2" cy="570.6" r="1.45"/><circle cx="535.4" cy="575.4" r="1.45"/><circle cx="537.0" cy="577.4" r="1.45"/><circle cx="538.6" cy="578.0" r="1.45"/><circle cx="540.2" cy="571.0" r="1.45"/><circle cx="541.4" cy="579.0" r="1.45"/><circle cx="542.6" cy="569.0" r="1.45"/><circle cx="544.2" cy="568.6" r="1.45"/><circle cx="545.4" cy="572.0" r="1.45"/><circle cx="546.6" cy="570.0" r="1.45"/><circle cx="548.6" cy="561.2" r="1.45"/><circle cx="549.4" cy="569.0" r="1.45"/><circle cx="551.8" cy="562.6" r="1.45"/><circle cx="553.0" cy="566.0" r="1.45"/><circle cx="554.2" cy="569.4" r="1.45"/><circle cx="555.0" cy="557.8" r="1.45"/><circle cx="556.2" cy="567.4" r="1.45"/><circle cx="559.8" cy="563.4" r="1.45"/><circle cx="560.8" cy="569.8" r="1.45"/><circle cx="562.0" cy="570.6" r="1.45"/><circle cx="563.4" cy="556.8" r="1.45"/><circle cx="564.6" cy="557.8" r="1.45"/></g>
<g fill="none" stroke="#23288a" stroke-width="0.6"><circle cx="536.8" cy="584.0" r="1.5"/><circle cx="542.8" cy="580.6" r="1.5"/><circle cx="550.8" cy="554.2" r="1.5"/><circle cx="557.4" cy="553.4" r="1.5"/><circle cx="558.8" cy="584.0" r="1.5"/></g>
<line x1="129.4" x2="129.4" y1="567.6" y2="569.6" stroke="#c63a12" stroke-width="1.05"/><rect x="127.7" y="566.9" width="3.4" height="3.4" rx="0.6" fill="#c63a12"/>
<line x1="142.6" x2="142.6" y1="573.6" y2="575.6" stroke="#c63a12" stroke-width="1.05"/><rect x="140.9" y="572.9" width="3.4" height="3.4" rx="0.6" fill="#c63a12"/>
<line x1="179.4" x2="179.4" y1="569.0" y2="571.0" stroke="#c63a12" stroke-width="1.05"/><rect x="177.7" y="568.3" width="3.4" height="3.4" rx="0.6" fill="#c63a12"/>
<line x1="194.2" x2="194.2" y1="571.0" y2="573.0" stroke="#c63a12" stroke-width="1.05"/><rect x="192.5" y="570.3" width="3.4" height="3.4" rx="0.6" fill="#c63a12"/>
<line x1="201.0" x2="201.0" y1="569.0" y2="571.0" stroke="#c63a12" stroke-width="1.05"/><rect x="199.3" y="568.3" width="3.4" height="3.4" rx="0.6" fill="#c63a12"/>
<line x1="241.0" x2="241.0" y1="566.8" y2="569.2" stroke="#c63a12" stroke-width="1.05"/><rect x="239.3" y="566.3" width="3.4" height="3.4" rx="0.6" fill="#c63a12"/>
<line x1="243.0" x2="243.0" y1="565.0" y2="567.0" stroke="#c63a12" stroke-width="1.05"/><rect x="241.3" y="564.3" width="3.4" height="3.4" rx="0.6" fill="#c63a12"/>
<line x1="245.4" x2="245.4" y1="571.0" y2="573.0" stroke="#c63a12" stroke-width="1.05"/><rect x="243.7" y="570.3" width="3.4" height="3.4" rx="0.6" fill="#c63a12"/>
<line x1="248.2" x2="248.2" y1="568.6" y2="570.6" stroke="#c63a12" stroke-width="1.05"/><rect x="246.5" y="567.9" width="3.4" height="3.4" rx="0.6" fill="#c63a12"/>
<line x1="272.2" x2="272.2" y1="568.8" y2="573.2" stroke="#c63a12" stroke-width="1.05"/><rect x="270.5" y="569.3" width="3.4" height="3.4" rx="0.6" fill="#c63a12"/>
<line x1="311.8" x2="311.8" y1="556.6" y2="565.4" stroke="#c63a12" stroke-width="1.05"/><rect x="310.1" y="559.3" width="3.4" height="3.4" rx="0.6" fill="#c63a12"/>
<line x1="331.4" x2="331.4" y1="562.6" y2="569.4" stroke="#c63a12" stroke-width="1.05"/><rect x="329.7" y="564.3" width="3.4" height="3.4" rx="0.6" fill="#c63a12"/>
<line x1="379.4" x2="379.4" y1="568.8" y2="571.2" stroke="#c63a12" stroke-width="1.05"/><rect x="377.7" y="568.3" width="3.4" height="3.4" rx="0.6" fill="#c63a12"/>
<line x1="396.2" x2="396.2" y1="565.4" y2="567.8" stroke="#c63a12" stroke-width="1.05"/><rect x="394.5" y="564.9" width="3.4" height="3.4" rx="0.6" fill="#c63a12"/>
<line x1="404.6" x2="404.6" y1="567.6" y2="574.4" stroke="#c63a12" stroke-width="1.05"/><rect x="402.9" y="569.3" width="3.4" height="3.4" rx="0.6" fill="#c63a12"/>
<line x1="419.4" x2="419.4" y1="567.4" y2="571.8" stroke="#c63a12" stroke-width="1.05"/><rect x="417.7" y="567.9" width="3.4" height="3.4" rx="0.6" fill="#c63a12"/>
<line x1="503.8" x2="503.8" y1="575.4" y2="577.4" stroke="#c63a12" stroke-width="1.05"/><rect x="502.1" y="574.7" width="3.4" height="3.4" rx="0.6" fill="#c63a12"/>
</g>
<rect x="55.7" y="542.02" width="520.9" height="51.5" fill="none" stroke="#6a6a6a" stroke-width="1"/>
<path d="M55.70 593.47v2.5M119.19 593.47v2.5M182.68 593.47v2.5M246.16 593.47v2.5M309.65 593.47v2.5M373.14 593.47v2.5M436.62 593.47v2.5M500.11 593.47v2.5M563.60 593.47v2.5M55.7 584.12h-2.5M576.6 584.12h2.5M55.7 567.72h-2.5M576.6 567.72h2.5M55.7 551.32h-2.5M576.6 551.32h2.5" stroke="#6a6a6a" stroke-width="1" fill="none"/>
<text x="51.0" y="587.3" font-size="8.75" text-anchor="end">−0.005</text>
<text x="580.3" y="587.3" font-size="8.75">-250.0</text>
<text x="51.0" y="570.9" font-size="8.75" text-anchor="end">0.000</text>
<text x="580.3" y="570.9" font-size="8.75">0.0</text>
<text x="51.0" y="554.5" font-size="8.75" text-anchor="end">0.005</text>
<text x="580.3" y="554.5" font-size="8.75">250.0</text>
<text x="66.1" y="551.8" font-size="7.56" xml:space="preserve">rms<tspan font-size="5.40" dy="1.7" dx="0.5" stroke-width="0.05">AstCom</tspan><tspan dy="-1.7" dx="-1.1"> = 0.00111 Å,  rms</tspan><tspan font-size="5.40" dy="1.7" dx="0.5" stroke-width="0.05">ThAr</tspan><tspan dy="-1.7" dx="-1.5"> = 0.00115 Å</tspan></text>
<text x="555.2" y="551.5" font-size="7.7" font-weight="bold" text-anchor="end">uncorrected</text>
<text x="55.7" y="537.2" font-size="10.4" font-weight="bold">order 112</text>
</g>
<g>
<clipPath id="c9"><rect x="55.7" y="597.27" width="520.9" height="51.2"/></clipPath>
<g clip-path="url(#c9)">
<line x1="55.7" x2="576.6" y1="615.34" y2="615.34" stroke="#47961a" stroke-width="0.9" stroke-dasharray="3.1 2" stroke-dashoffset="0"/>
<line x1="55.7" x2="576.6" y1="630.50" y2="630.50" stroke="#47961a" stroke-width="0.9" stroke-dasharray="3.1 2" stroke-dashoffset="0"/>
<g fill="#47961a"><circle cx="67.4" cy="615.4" r="1.45"/><circle cx="69.0" cy="626.6" r="1.45"/><circle cx="70.6" cy="622.0" r="1.45"/><circle cx="72.2" cy="620.0" r="1.45"/><circle cx="73.8" cy="624.0" r="1.45"/><circle cx="75.4" cy="627.0" r="1.45"/><circle cx="77.0" cy="628.6" r="1.45"/><circle cx="78.6" cy="623.0" r="1.45"/><circle cx="80.2" cy="624.6" r="1.45"/><circle cx="81.8" cy="620.6" r="1.45"/><circle cx="83.4" cy="619.4" r="1.45"/><circle cx="85.0" cy="625.4" r="1.45"/><circle cx="86.6" cy="615.4" r="1.45"/><circle cx="88.2" cy="620.6" r="1.45"/><circle cx="89.8" cy="620.0" r="1.45"/><circle cx="91.0" cy="620.0" r="1.45"/><circle cx="93.0" cy="623.4" r="1.45"/><circle cx="94.6" cy="624.0" r="1.45"/><circle cx="96.2" cy="627.0" r="1.45"/><circle cx="97.8" cy="625.0" r="1.45"/><circle cx="99.0" cy="626.0" r="1.45"/><circle cx="100.6" cy="623.0" r="1.45"/><circle cx="102.2" cy="624.6" r="1.45"/><circle cx="103.8" cy="626.6" r="1.45"/><circle cx="105.4" cy="627.4" r="1.45"/><circle cx="107.0" cy="620.0" r="1.45"/><circle cx="108.6" cy="621.4" r="1.45"/><circle cx="110.2" cy="623.0" r="1.45"/><circle cx="111.0" cy="620.6" r="1.45"/><circle cx="112.6" cy="621.0" r="1.45"/><circle cx="114.2" cy="622.0" r="1.45"/><circle cx="115.8" cy="621.0" r="1.45"/><circle cx="117.4" cy="624.0" r="1.45"/><circle cx="118.6" cy="625.4" r="1.45"/><circle cx="120.2" cy="625.0" r="1.45"/><circle cx="121.8" cy="620.6" r="1.45"/><circle cx="123.4" cy="622.0" r="1.45"/><circle cx="125.0" cy="620.0" r="1.45"/><circle cx="126.6" cy="624.6" r="1.45"/><circle cx="128.2" cy="619.4" r="1.45"/><circle cx="129.8" cy="625.4" r="1.45"/><circle cx="131.4" cy="622.0" r="1.45"/><circle cx="133.0" cy="623.0" r="1.45"/><circle cx="134.6" cy="624.6" r="1.45"/><circle cx="136.2" cy="625.0" r="1.45"/><circle cx="137.8" cy="623.0" r="1.45"/><circle cx="139.0" cy="620.6" r="1.45"/><circle cx="140.6" cy="622.0" r="1.45"/><circle cx="141.8" cy="625.0" r="1.45"/><circle cx="143.4" cy="621.0" r="1.45"/><circle cx="145.0" cy="623.0" r="1.45"/><circle cx="146.6" cy="622.0" r="1.45"/><circle cx="147.8" cy="621.0" r="1.45"/><circle cx="149.0" cy="620.0" r="1.45"/><circle cx="150.6" cy="619.4" r="1.45"/><circle cx="152.2" cy="626.6" r="1.45"/><circle cx="153.8" cy="623.4" r="1.45"/><circle cx="155.4" cy="621.0" r="1.45"/><circle cx="157.0" cy="625.4" r="1.45"/><circle cx="158.2" cy="621.0" r="1.45"/><circle cx="159.8" cy="625.0" r="1.45"/><circle cx="161.4" cy="624.0" r="1.45"/><circle cx="162.6" cy="620.6" r="1.45"/><circle cx="164.2" cy="626.6" r="1.45"/><circle cx="165.8" cy="624.0" r="1.45"/><circle cx="167.4" cy="624.6" r="1.45"/><circle cx="169.0" cy="626.0" r="1.45"/><circle cx="171.0" cy="622.0" r="1.45"/><circle cx="172.6" cy="621.4" r="1.45"/><circle cx="174.2" cy="623.0" r="1.45"/><circle cx="175.8" cy="623.4" r="1.45"/><circle cx="177.4" cy="621.0" r="1.45"/><circle cx="180.6" cy="621.4" r="1.45"/><circle cx="181.8" cy="622.0" r="1.45"/><circle cx="183.4" cy="623.0" r="1.45"/><circle cx="185.0" cy="616.0" r="1.45"/><circle cx="186.6" cy="622.6" r="1.45"/><circle cx="188.2" cy="623.0" r="1.45"/><circle cx="189.8" cy="623.4" r="1.45"/><circle cx="191.4" cy="624.6" r="1.45"/><circle cx="193.0" cy="623.4" r="1.45"/><circle cx="197.0" cy="622.6" r="1.45"/><circle cx="198.6" cy="623.4" r="1.45"/><circle cx="202.6" cy="623.0" r="1.45"/><circle cx="204.2" cy="625.4" r="1.45"/><circle cx="205.8" cy="622.6" r="1.45"/><circle cx="207.4" cy="621.0" r="1.45"/><circle cx="208.6" cy="621.4" r="1.45"/><circle cx="210.2" cy="623.0" r="1.45"/><circle cx="211.8" cy="624.0" r="1.45"/><circle cx="213.4" cy="623.0" r="1.45"/><circle cx="215.0" cy="622.6" r="1.45"/><circle cx="216.2" cy="623.4" r="1.45"/><circle cx="217.4" cy="624.0" r="1.45"/><circle cx="218.6" cy="624.6" r="1.45"/><circle cx="220.2" cy="621.0" r="1.45"/><circle cx="221.8" cy="620.6" r="1.45"/><circle cx="223.4" cy="620.0" r="1.45"/><circle cx="224.6" cy="616.0" r="1.45"/><circle cx="226.2" cy="618.0" r="1.45"/><circle cx="227.4" cy="619.0" r="1.45"/><circle cx="229.0" cy="620.0" r="1.45"/><circle cx="230.6" cy="621.0" r="1.45"/><circle cx="232.2" cy="620.6" r="1.45"/><circle cx="233.8" cy="624.6" r="1.45"/><circle cx="235.4" cy="623.0" r="1.45"/><circle cx="237.0" cy="622.6" r="1.45"/><circle cx="238.6" cy="622.0" r="1.45"/><circle cx="240.2" cy="621.0" r="1.45"/><circle cx="249.0" cy="622.0" r="1.45"/><circle cx="250.6" cy="621.0" r="1.45"/><circle cx="252.2" cy="623.0" r="1.45"/><circle cx="253.8" cy="624.0" r="1.45"/><circle cx="255.4" cy="625.4" r="1.45"/><circle cx="257.0" cy="626.0" r="1.45"/><circle cx="258.6" cy="625.0" r="1.45"/><circle cx="260.2" cy="622.0" r="1.45"/><circle cx="261.8" cy="623.0" r="1.45"/><circle cx="263.4" cy="624.0" r="1.45"/><circle cx="265.0" cy="622.6" r="1.45"/><circle cx="266.6" cy="623.4" r="1.45"/><circle cx="268.2" cy="622.0" r="1.45"/><circle cx="269.4" cy="622.6" r="1.45"/><circle cx="270.6" cy="623.0" r="1.45"/><circle cx="274.2" cy="619.0" r="1.45"/><circle cx="275.8" cy="624.0" r="1.45"/><circle cx="277.4" cy="622.0" r="1.45"/><circle cx="279.0" cy="621.0" r="1.45"/><circle cx="280.6" cy="624.6" r="1.45"/><circle cx="282.2" cy="622.0" r="1.45"/><circle cx="283.8" cy="621.4" r="1.45"/><circle cx="285.0" cy="624.0" r="1.45"/><circle cx="286.6" cy="622.0" r="1.45"/><circle cx="287.8" cy="624.0" r="1.45"/><circle cx="289.4" cy="626.6" r="1.45"/><circle cx="291.0" cy="624.0" r="1.45"/><circle cx="292.6" cy="623.4" r="1.45"/><circle cx="293.8" cy="622.6" r="1.45"/><circle cx="295.4" cy="623.4" r="1.45"/><circle cx="297.0" cy="624.6" r="1.45"/><circle cx="298.6" cy="623.4" r="1.45"/><circle cx="300.2" cy="624.6" r="1.45"/><circle cx="301.8" cy="624.0" r="1.45"/><circle cx="303.4" cy="625.0" r="1.45"/><circle cx="305.0" cy="624.0" r="1.45"/><circle cx="306.6" cy="626.0" r="1.45"/><circle cx="307.8" cy="623.0" r="1.45"/><circle cx="309.4" cy="622.6" r="1.45"/><circle cx="311.0" cy="623.0" r="1.45"/><circle cx="314.2" cy="623.4" r="1.45"/><circle cx="315.8" cy="629.4" r="1.45"/><circle cx="317.4" cy="624.0" r="1.45"/><circle cx="319.0" cy="623.4" r="1.45"/><circle cx="320.6" cy="622.6" r="1.45"/><circle cx="322.2" cy="622.0" r="1.45"/><circle cx="323.4" cy="626.6" r="1.45"/><circle cx="325.0" cy="621.0" r="1.45"/><circle cx="326.2" cy="622.0" r="1.45"/><circle cx="327.8" cy="625.0" r="1.45"/><circle cx="329.4" cy="623.0" r="1.45"/><circle cx="334.2" cy="623.4" r="1.45"/><circle cx="335.4" cy="618.0" r="1.45"/><circle cx="337.0" cy="620.6" r="1.45"/><circle cx="338.2" cy="621.4" r="1.45"/><circle cx="339.8" cy="622.0" r="1.45"/><circle cx="341.0" cy="623.0" r="1.45"/><circle cx="342.6" cy="624.0" r="1.45"/><circle cx="343.8" cy="624.6" r="1.45"/><circle cx="345.4" cy="621.0" r="1.45"/><circle cx="347.0" cy="622.0" r="1.45"/><circle cx="348.6" cy="623.0" r="1.45"/><circle cx="349.8" cy="624.0" r="1.45"/><circle cx="351.4" cy="620.6" r="1.45"/><circle cx="353.0" cy="621.4" r="1.45"/><circle cx="354.6" cy="623.0" r="1.45"/><circle cx="356.2" cy="624.6" r="1.45"/><circle cx="359.4" cy="623.0" r="1.45"/><circle cx="360.6" cy="622.6" r="1.45"/><circle cx="362.2" cy="623.4" r="1.45"/><circle cx="363.8" cy="624.6" r="1.45"/><circle cx="365.0" cy="624.0" r="1.45"/><circle cx="366.6" cy="625.0" r="1.45"/><circle cx="368.2" cy="623.0" r="1.45"/><circle cx="369.8" cy="622.6" r="1.45"/><circle cx="371.4" cy="622.0" r="1.45"/><circle cx="373.0" cy="621.4" r="1.45"/><circle cx="374.6" cy="621.0" r="1.45"/><circle cx="376.2" cy="620.6" r="1.45"/><circle cx="377.4" cy="622.0" r="1.45"/><circle cx="382.6" cy="622.0" r="1.45"/><circle cx="384.2" cy="623.0" r="1.45"/><circle cx="385.4" cy="624.0" r="1.45"/><circle cx="387.0" cy="624.6" r="1.45"/><circle cx="388.6" cy="623.4" r="1.45"/><circle cx="390.2" cy="624.6" r="1.45"/><circle cx="391.4" cy="623.0" r="1.45"/><circle cx="392.6" cy="622.6" r="1.45"/><circle cx="393.8" cy="622.0" r="1.45"/><circle cx="397.8" cy="620.6" r="1.45"/><circle cx="399.4" cy="619.4" r="1.45"/><circle cx="401.0" cy="621.0" r="1.45"/><circle cx="402.2" cy="617.0" r="1.45"/><circle cx="403.8" cy="618.6" r="1.45"/><circle cx="405.0" cy="618.6" r="1.45"/><circle cx="406.6" cy="625.0" r="1.45"/><circle cx="408.2" cy="623.0" r="1.45"/><circle cx="409.8" cy="621.0" r="1.45"/><circle cx="411.4" cy="620.6" r="1.45"/><circle cx="413.0" cy="625.0" r="1.45"/><circle cx="414.6" cy="626.0" r="1.45"/><circle cx="416.2" cy="626.6" r="1.45"/><circle cx="417.4" cy="623.4" r="1.45"/><circle cx="418.6" cy="620.6" r="1.45"/><circle cx="421.8" cy="623.0" r="1.45"/><circle cx="423.4" cy="622.6" r="1.45"/><circle cx="424.6" cy="624.0" r="1.45"/><circle cx="426.2" cy="624.6" r="1.45"/><circle cx="427.8" cy="626.6" r="1.45"/><circle cx="429.4" cy="621.0" r="1.45"/><circle cx="431.0" cy="622.0" r="1.45"/><circle cx="432.6" cy="623.0" r="1.45"/><circle cx="433.8" cy="622.0" r="1.45"/><circle cx="435.4" cy="621.0" r="1.45"/><circle cx="436.6" cy="623.0" r="1.45"/><circle cx="438.2" cy="619.0" r="1.45"/><circle cx="439.8" cy="624.0" r="1.45"/><circle cx="441.0" cy="622.6" r="1.45"/><circle cx="442.6" cy="625.0" r="1.45"/><circle cx="444.2" cy="626.0" r="1.45"/><circle cx="445.4" cy="619.4" r="1.45"/><circle cx="447.0" cy="623.0" r="1.45"/><circle cx="448.6" cy="626.0" r="1.45"/><circle cx="450.2" cy="624.0" r="1.45"/><circle cx="451.4" cy="616.6" r="1.45"/><circle cx="453.0" cy="620.0" r="1.45"/><circle cx="454.6" cy="622.0" r="1.45"/><circle cx="456.2" cy="622.6" r="1.45"/><circle cx="457.4" cy="626.6" r="1.45"/><circle cx="459.0" cy="623.0" r="1.45"/><circle cx="460.6" cy="623.4" r="1.45"/><circle cx="462.2" cy="624.0" r="1.45"/><circle cx="463.4" cy="622.6" r="1.45"/><circle cx="465.0" cy="622.0" r="1.45"/><circle cx="466.6" cy="622.6" r="1.45"/><circle cx="468.2" cy="621.0" r="1.45"/><circle cx="469.8" cy="627.0" r="1.45"/><circle cx="471.0" cy="619.4" r="1.45"/><circle cx="472.6" cy="624.0" r="1.45"/><circle cx="474.2" cy="624.0" r="1.45"/><circle cx="475.4" cy="624.6" r="1.45"/><circle cx="477.0" cy="624.0" r="1.45"/><circle cx="478.6" cy="628.0" r="1.45"/><circle cx="479.8" cy="619.0" r="1.45"/><circle cx="481.0" cy="626.0" r="1.45"/><circle cx="482.6" cy="629.4" r="1.45"/><circle cx="484.2" cy="622.0" r="1.45"/><circle cx="485.4" cy="616.0" r="1.45"/><circle cx="487.0" cy="626.0" r="1.45"/><circle cx="488.6" cy="620.0" r="1.45"/><circle cx="489.8" cy="619.0" r="1.45"/><circle cx="491.0" cy="622.6" r="1.45"/><circle cx="492.6" cy="624.0" r="1.45"/><circle cx="493.8" cy="630.6" r="1.45"/><circle cx="495.4" cy="627.0" r="1.45"/><circle cx="497.0" cy="626.0" r="1.45"/><circle cx="498.2" cy="628.0" r="1.45"/><circle cx="499.8" cy="618.6" r="1.45"/><circle cx="501.4" cy="620.0" r="1.45"/><circle cx="503.0" cy="624.6" r="1.45"/><circle cx="504.6" cy="627.0" r="1.45"/><circle cx="505.4" cy="620.6" r="1.45"/><circle cx="507.0" cy="621.0" r="1.45"/><circle cx="508.2" cy="622.0" r="1.45"/><circle cx="509.4" cy="623.0" r="1.45"/><circle cx="510.6" cy="623.4" r="1.45"/><circle cx="511.8" cy="624.0" r="1.45"/><circle cx="513.0" cy="623.0" r="1.45"/><circle cx="514.2" cy="624.0" r="1.45"/><circle cx="515.4" cy="621.0" r="1.45"/><circle cx="516.6" cy="630.6" r="1.45"/><circle cx="517.4" cy="615.4" r="1.45"/><circle cx="519.0" cy="618.6" r="1.45"/><circle cx="520.6" cy="616.6" r="1.45"/><circle cx="521.8" cy="619.4" r="1.45"/><circle cx="523.4" cy="623.0" r="1.45"/><circle cx="524.6" cy="628.0" r="1.45"/><circle cx="525.8" cy="622.0" r="1.45"/><circle cx="527.0" cy="624.6" r="1.45"/><circle cx="528.2" cy="619.0" r="1.45"/><circle cx="529.4" cy="626.0" r="1.45"/><circle cx="530.6" cy="628.0" r="1.45"/><circle cx="531.8" cy="627.0" r="1.45"/><circle cx="533.0" cy="630.0" r="1.45"/><circle cx="534.2" cy="626.6" r="1.45"/><circle cx="535.4" cy="625.0" r="1.45"/><circle cx="537.0" cy="621.4" r="1.45"/><circle cx="538.6" cy="630.0" r="1.45"/><circle cx="540.2" cy="623.4" r="1.45"/><circle cx="541.4" cy="622.0" r="1.45"/><circle cx="542.6" cy="621.0" r="1.45"/><circle cx="544.2" cy="622.6" r="1.45"/><circle cx="545.4" cy="625.0" r="1.45"/><circle cx="546.6" cy="626.6" r="1.45"/><circle cx="548.6" cy="615.2" r="1.45"/><circle cx="549.4" cy="624.0" r="1.45"/><circle cx="551.8" cy="616.8" r="1.45"/><circle cx="553.0" cy="620.0" r="1.45"/><circle cx="554.2" cy="623.4" r="1.45"/><circle cx="556.2" cy="621.4" r="1.45"/><circle cx="560.6" cy="622.0" r="1.45"/><circle cx="562.0" cy="622.2" r="1.45"/></g>
<g fill="none" stroke="#47961a" stroke-width="0.6"><circle cx="357.8" cy="625.4" r="1.5"/><circle cx="481.8" cy="614.0" r="1.5"/><circle cx="491.0" cy="610.6" r="1.5"/><circle cx="493.8" cy="632.6" r="1.5"/><circle cx="507.0" cy="631.0" r="1.5"/><circle cx="512.6" cy="632.6" r="1.5"/><circle cx="532.2" cy="632.8" r="1.5"/><circle cx="536.8" cy="635.8" r="1.5"/><circle cx="542.8" cy="634.0" r="1.5"/><circle cx="550.8" cy="608.2" r="1.5"/><circle cx="555.0" cy="611.0" r="1.5"/><circle cx="557.4" cy="605.8" r="1.5"/><circle cx="559.8" cy="615.8" r="1.5"/><circle cx="563.0" cy="608.2" r="1.5"/><circle cx="564.6" cy="608.2" r="1.5"/><circle cx="558.8" cy="637.4" r="1.5"/></g>
<line x1="129.4" x2="129.4" y1="621.4" y2="623.4" stroke="#c63a12" stroke-width="1.05"/><rect x="127.7" y="620.7" width="3.4" height="3.4" rx="0.6" fill="#c63a12"/>
<line x1="142.6" x2="142.6" y1="627.6" y2="629.6" stroke="#c63a12" stroke-width="1.05"/><rect x="140.9" y="626.9" width="3.4" height="3.4" rx="0.6" fill="#c63a12"/>
<line x1="179.4" x2="179.4" y1="624.0" y2="626.0" stroke="#c63a12" stroke-width="1.05"/><rect x="177.7" y="623.3" width="3.4" height="3.4" rx="0.6" fill="#c63a12"/>
<line x1="194.2" x2="194.2" y1="625.4" y2="627.4" stroke="#c63a12" stroke-width="1.05"/><rect x="192.5" y="624.7" width="3.4" height="3.4" rx="0.6" fill="#c63a12"/>
<line x1="201.0" x2="201.0" y1="623.6" y2="625.6" stroke="#c63a12" stroke-width="1.05"/><rect x="199.3" y="622.9" width="3.4" height="3.4" rx="0.6" fill="#c63a12"/>
<line x1="241.0" x2="241.0" y1="621.4" y2="623.8" stroke="#c63a12" stroke-width="1.05"/><rect x="239.3" y="620.9" width="3.4" height="3.4" rx="0.6" fill="#c63a12"/>
<line x1="243.0" x2="243.0" y1="620.0" y2="622.0" stroke="#c63a12" stroke-width="1.05"/><rect x="241.3" y="619.3" width="3.4" height="3.4" rx="0.6" fill="#c63a12"/>
<line x1="245.4" x2="245.4" y1="625.6" y2="627.6" stroke="#c63a12" stroke-width="1.05"/><rect x="243.7" y="624.9" width="3.4" height="3.4" rx="0.6" fill="#c63a12"/>
<line x1="248.2" x2="248.2" y1="623.6" y2="625.6" stroke="#c63a12" stroke-width="1.05"/><rect x="246.5" y="622.9" width="3.4" height="3.4" rx="0.6" fill="#c63a12"/>
<line x1="272.2" x2="272.2" y1="623.4" y2="627.8" stroke="#c63a12" stroke-width="1.05"/><rect x="270.5" y="623.9" width="3.4" height="3.4" rx="0.6" fill="#c63a12"/>
<line x1="311.8" x2="311.8" y1="612.2" y2="621.0" stroke="#c63a12" stroke-width="1.05"/><rect x="310.1" y="614.9" width="3.4" height="3.4" rx="0.6" fill="#c63a12"/>
<line x1="331.4" x2="331.4" y1="617.6" y2="624.4" stroke="#c63a12" stroke-width="1.05"/><rect x="329.7" y="619.3" width="3.4" height="3.4" rx="0.6" fill="#c63a12"/>
<line x1="379.4" x2="379.4" y1="623.8" y2="626.2" stroke="#c63a12" stroke-width="1.05"/><rect x="377.7" y="623.3" width="3.4" height="3.4" rx="0.6" fill="#c63a12"/>
<line x1="396.2" x2="396.2" y1="620.2" y2="622.6" stroke="#c63a12" stroke-width="1.05"/><rect x="394.5" y="619.7" width="3.4" height="3.4" rx="0.6" fill="#c63a12"/>
<line x1="404.6" x2="404.6" y1="623.0" y2="629.8" stroke="#c63a12" stroke-width="1.05"/><rect x="402.9" y="624.7" width="3.4" height="3.4" rx="0.6" fill="#c63a12"/>
<line x1="419.4" x2="419.4" y1="622.8" y2="627.2" stroke="#c63a12" stroke-width="1.05"/><rect x="417.7" y="623.3" width="3.4" height="3.4" rx="0.6" fill="#c63a12"/>
<line x1="503.8" x2="503.8" y1="630.6" y2="632.6" stroke="#c63a12" stroke-width="1.05"/><rect x="502.1" y="629.9" width="3.4" height="3.4" rx="0.6" fill="#c63a12"/>
</g>
<rect x="55.7" y="597.27" width="520.9" height="51.2" fill="none" stroke="#6a6a6a" stroke-width="1"/>
<path d="M55.70 648.52v2.5M119.19 648.52v2.5M182.68 648.52v2.5M246.16 648.52v2.5M309.65 648.52v2.5M373.14 648.52v2.5M436.62 648.52v2.5M500.11 648.52v2.5M563.60 648.52v2.5M55.7 639.32h-2.5M576.6 639.32h2.5M55.7 622.92h-2.5M576.6 622.92h2.5M55.7 606.52h-2.5M576.6 606.52h2.5" stroke="#6a6a6a" stroke-width="1" fill="none"/>
<text x="51.0" y="642.5" font-size="8.75" text-anchor="end">−0.005</text>
<text x="580.3" y="642.5" font-size="8.75">-250.0</text>
<text x="51.0" y="626.1" font-size="8.75" text-anchor="end">0.000</text>
<text x="580.3" y="626.1" font-size="8.75">0.0</text>
<text x="51.0" y="609.7" font-size="8.75" text-anchor="end">0.005</text>
<text x="580.3" y="609.7" font-size="8.75">250.0</text>
<text x="66.1" y="607.1" font-size="7.56" xml:space="preserve">rms<tspan font-size="5.40" dy="1.7" dx="0.5" stroke-width="0.05">AstCom</tspan><tspan dy="-1.7" dx="-1.1"> = 0.00077 Å,  rms</tspan><tspan font-size="5.40" dy="1.7" dx="0.5" stroke-width="0.05">ThAr</tspan><tspan dy="-1.7" dx="-1.5"> = 0.00111 Å</tspan></text>
<text x="555.2" y="606.8" font-size="7.7" font-weight="bold" text-anchor="end">corrected</text>
</g>
<text x="55.7" y="660.0" font-size="8.75" text-anchor="middle">0</text>
<text x="119.2" y="660.0" font-size="8.75" text-anchor="middle">500</text>
<text x="182.7" y="660.0" font-size="8.75" text-anchor="middle">1000</text>
<text x="246.2" y="660.0" font-size="8.75" text-anchor="middle">1500</text>
<text x="309.7" y="660.0" font-size="8.75" text-anchor="middle">2000</text>
<text x="373.1" y="660.0" font-size="8.75" text-anchor="middle">2500</text>
<text x="436.6" y="660.0" font-size="8.75" text-anchor="middle">3000</text>
<text x="500.1" y="660.0" font-size="8.75" text-anchor="middle">3500</text>
<text x="563.6" y="660.0" font-size="8.75" text-anchor="middle">4000</text>
<text x="325.5" y="688.9" font-size="10.4" text-anchor="middle">pixel number</text>
<text transform="translate(9.8 405) rotate(-90)" font-size="10.4">residuals / Å</text>
<text transform="translate(629.3 418.2) rotate(-90)" font-size="10.4" xml:space="preserve">residuals / m <tspan dx="-2.55">· </tspan><tspan dx="-2.8">s</tspan><tspan font-size="7.1" dy="-4.1" dx="1.7">−1</tspan></text>
</svg>
</body></html>
